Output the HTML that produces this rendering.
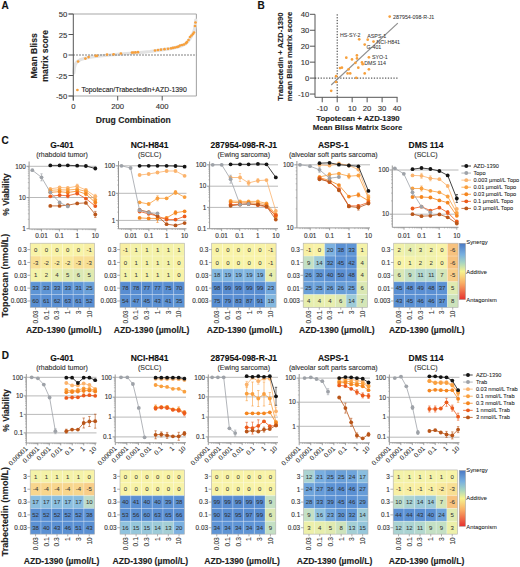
<!DOCTYPE html>
<html><head><meta charset="utf-8"><style>
html,body{margin:0;padding:0;background:#fff;}
svg{display:block;font-family:"Liberation Sans", sans-serif;}
</style></head><body>
<svg width="520" height="567" viewBox="0 0 520 567">
<rect width="520" height="567" fill="#fff"/>
<text x="5.20" y="9.35" font-size="10.0" text-anchor="middle" font-weight="bold" stroke="#111" stroke-width="0.12" fill="#111">A</text>
<text x="261.20" y="9.25" font-size="10.0" text-anchor="middle" font-weight="bold" stroke="#111" stroke-width="0.12" fill="#111">B</text>
<text x="5.00" y="143.95" font-size="10.0" text-anchor="middle" font-weight="bold" stroke="#111" stroke-width="0.12" fill="#111">C</text>
<text x="5.40" y="358.95" font-size="10.0" text-anchor="middle" font-weight="bold" stroke="#111" stroke-width="0.12" fill="#111">D</text>
<line x1="68.50" y1="14.00" x2="196.40" y2="14.00" stroke="#a8a8a8" stroke-width="1.1"/>
<line x1="196.40" y1="14.00" x2="196.40" y2="96.00" stroke="#a8a8a8" stroke-width="1.1"/>
<line x1="68.50" y1="96.00" x2="196.40" y2="96.00" stroke="#a8a8a8" stroke-width="1.1"/>
<polyline points="73.80,73.00 74.30,68.00 75.20,64.50 77.00,61.80 80.00,59.80 85.00,58.20 90.00,57.10 100.00,55.80 110.00,55.00 120.00,54.20 130.00,53.40 140.00,52.60 150.00,51.50 160.00,50.10 170.00,48.60 177.00,47.10 182.00,45.60 185.50,43.80 188.50,40.80 191.00,37.00 193.00,33.50 194.50,29.50 195.30,25.00 195.80,20.00" fill="none" stroke="#e3e3e3" stroke-width="3.2" stroke-linejoin="round" stroke-linecap="round"/>
<line x1="73.30" y1="55.00" x2="196.40" y2="55.00" stroke="#4a4a4a" stroke-width="1.0" stroke-dasharray="1.4,1.6"/>
<line x1="73.30" y1="14.00" x2="73.30" y2="100.50" stroke="#555" stroke-width="1.0"/>
<line x1="68.50" y1="14.00" x2="73.30" y2="14.00" stroke="#555" stroke-width="1.0"/>
<text x="67.20" y="17.13" font-size="7.7" text-anchor="end" stroke="#333" stroke-width="0.12" fill="#333">50</text>
<line x1="68.50" y1="34.50" x2="73.30" y2="34.50" stroke="#555" stroke-width="1.0"/>
<text x="67.20" y="37.63" font-size="7.7" text-anchor="end" stroke="#333" stroke-width="0.12" fill="#333">25</text>
<line x1="68.50" y1="55.00" x2="73.30" y2="55.00" stroke="#555" stroke-width="1.0"/>
<text x="67.20" y="58.13" font-size="7.7" text-anchor="end" stroke="#333" stroke-width="0.12" fill="#333">0</text>
<line x1="68.50" y1="75.50" x2="73.30" y2="75.50" stroke="#555" stroke-width="1.0"/>
<text x="67.20" y="78.63" font-size="7.7" text-anchor="end" stroke="#333" stroke-width="0.12" fill="#333">-25</text>
<line x1="68.50" y1="96.00" x2="73.30" y2="96.00" stroke="#555" stroke-width="1.0"/>
<text x="67.20" y="99.13" font-size="7.7" text-anchor="end" stroke="#333" stroke-width="0.12" fill="#333">-50</text>
<line x1="73.30" y1="96.00" x2="73.30" y2="100.50" stroke="#555" stroke-width="1.0"/>
<text x="73.30" y="109.23" font-size="7.7" text-anchor="middle" stroke="#333" stroke-width="0.12" fill="#333">0</text>
<line x1="117.70" y1="96.00" x2="117.70" y2="100.50" stroke="#555" stroke-width="1.0"/>
<text x="117.70" y="109.23" font-size="7.7" text-anchor="middle" stroke="#333" stroke-width="0.12" fill="#333">200</text>
<line x1="162.20" y1="96.00" x2="162.20" y2="100.50" stroke="#555" stroke-width="1.0"/>
<text x="162.20" y="109.23" font-size="7.7" text-anchor="middle" stroke="#333" stroke-width="0.12" fill="#333">400</text>
<circle cx="78.10" cy="61.50" r="1.35" fill="#f7a03c"/>
<circle cx="85.40" cy="58.60" r="1.35" fill="#f7a03c"/>
<circle cx="88.60" cy="57.10" r="1.35" fill="#f7a03c"/>
<circle cx="95.60" cy="55.80" r="1.35" fill="#f7a03c"/>
<circle cx="97.00" cy="55.80" r="1.35" fill="#f7a03c"/>
<circle cx="107.00" cy="54.60" r="1.35" fill="#f7a03c"/>
<circle cx="113.60" cy="54.30" r="1.35" fill="#f7a03c"/>
<circle cx="120.90" cy="53.50" r="1.35" fill="#f7a03c"/>
<circle cx="132.00" cy="52.60" r="1.35" fill="#f7a03c"/>
<circle cx="133.60" cy="52.50" r="1.35" fill="#f7a03c"/>
<circle cx="135.50" cy="52.40" r="1.35" fill="#f7a03c"/>
<circle cx="138.00" cy="52.20" r="1.35" fill="#f7a03c"/>
<circle cx="155.00" cy="50.50" r="1.35" fill="#f7a03c"/>
<circle cx="158.00" cy="50.00" r="1.35" fill="#f7a03c"/>
<circle cx="161.00" cy="49.70" r="1.35" fill="#f7a03c"/>
<circle cx="164.50" cy="49.20" r="1.35" fill="#f7a03c"/>
<circle cx="168.00" cy="48.80" r="1.35" fill="#f7a03c"/>
<circle cx="171.00" cy="48.30" r="1.35" fill="#f7a03c"/>
<circle cx="173.00" cy="47.90" r="1.35" fill="#f7a03c"/>
<circle cx="175.00" cy="47.50" r="1.35" fill="#f7a03c"/>
<circle cx="177.00" cy="47.00" r="1.35" fill="#f7a03c"/>
<circle cx="178.50" cy="46.60" r="1.35" fill="#f7a03c"/>
<circle cx="180.00" cy="45.50" r="1.35" fill="#f7a03c"/>
<circle cx="182.00" cy="45.00" r="1.35" fill="#f7a03c"/>
<circle cx="184.00" cy="44.50" r="1.35" fill="#f7a03c"/>
<circle cx="186.00" cy="43.20" r="1.35" fill="#f7a03c"/>
<circle cx="187.00" cy="42.00" r="1.35" fill="#f7a03c"/>
<circle cx="188.50" cy="40.00" r="1.35" fill="#f7a03c"/>
<circle cx="190.00" cy="37.00" r="1.35" fill="#f7a03c"/>
<circle cx="191.50" cy="35.50" r="1.35" fill="#f7a03c"/>
<circle cx="193.00" cy="34.00" r="1.35" fill="#f7a03c"/>
<circle cx="194.00" cy="32.50" r="1.35" fill="#f7a03c"/>
<circle cx="195.00" cy="26.00" r="1.35" fill="#f7a03c"/>
<circle cx="195.50" cy="22.50" r="1.35" fill="#f7a03c"/>
<circle cx="77.40" cy="90.00" r="1.35" fill="#f7a03c"/>
<text x="81.50" y="92.45" font-size="6.9" text-anchor="start" stroke="#222" stroke-width="0.12" fill="#222">Topotecan/Trabectedin+AZD-1390</text>
<text x="133.30" y="122.65" font-size="8.6" text-anchor="middle" font-weight="bold" stroke="#222" stroke-width="0.12" fill="#222">Drug Combination</text>
<text x="33.60" y="58.89" font-size="8.7" text-anchor="middle" font-weight="bold" stroke="#222" stroke-width="0.12" fill="#222" transform="rotate(-90 33.60 55.80)">Mean Bliss</text>
<text x="44.90" y="58.89" font-size="8.7" text-anchor="middle" font-weight="bold" stroke="#222" stroke-width="0.12" fill="#222" transform="rotate(-90 44.90 55.80)">matrix score</text>
<line x1="315.00" y1="14.30" x2="315.00" y2="97.30" stroke="#555" stroke-width="1.0"/>
<line x1="315.00" y1="97.30" x2="397.50" y2="97.30" stroke="#555" stroke-width="1.0"/>
<line x1="310.00" y1="14.30" x2="315.00" y2="14.30" stroke="#555" stroke-width="1.0"/>
<text x="309.20" y="17.33" font-size="7.7" text-anchor="end" stroke="#333" stroke-width="0.12" fill="#333">40</text>
<line x1="310.00" y1="30.25" x2="315.00" y2="30.25" stroke="#555" stroke-width="1.0"/>
<text x="309.20" y="33.28" font-size="7.7" text-anchor="end" stroke="#333" stroke-width="0.12" fill="#333">30</text>
<line x1="310.00" y1="46.20" x2="315.00" y2="46.20" stroke="#555" stroke-width="1.0"/>
<text x="309.20" y="49.23" font-size="7.7" text-anchor="end" stroke="#333" stroke-width="0.12" fill="#333">20</text>
<line x1="310.00" y1="62.15" x2="315.00" y2="62.15" stroke="#555" stroke-width="1.0"/>
<text x="309.20" y="65.18" font-size="7.7" text-anchor="end" stroke="#333" stroke-width="0.12" fill="#333">10</text>
<line x1="310.00" y1="78.10" x2="315.00" y2="78.10" stroke="#555" stroke-width="1.0"/>
<text x="309.20" y="81.13" font-size="7.7" text-anchor="end" stroke="#333" stroke-width="0.12" fill="#333">0</text>
<line x1="310.00" y1="94.05" x2="315.00" y2="94.05" stroke="#555" stroke-width="1.0"/>
<text x="309.20" y="97.08" font-size="7.7" text-anchor="end" stroke="#333" stroke-width="0.12" fill="#333">-10</text>
<line x1="322.23" y1="97.30" x2="322.23" y2="102.30" stroke="#555" stroke-width="1.0"/>
<text x="322.23" y="110.63" font-size="7.7" text-anchor="middle" stroke="#333" stroke-width="0.12" fill="#333">-10</text>
<line x1="337.20" y1="97.30" x2="337.20" y2="102.30" stroke="#555" stroke-width="1.0"/>
<text x="337.20" y="110.63" font-size="7.7" text-anchor="middle" stroke="#333" stroke-width="0.12" fill="#333">0</text>
<line x1="352.17" y1="97.30" x2="352.17" y2="102.30" stroke="#555" stroke-width="1.0"/>
<text x="352.17" y="110.63" font-size="7.7" text-anchor="middle" stroke="#333" stroke-width="0.12" fill="#333">10</text>
<line x1="367.14" y1="97.30" x2="367.14" y2="102.30" stroke="#555" stroke-width="1.0"/>
<text x="367.14" y="110.63" font-size="7.7" text-anchor="middle" stroke="#333" stroke-width="0.12" fill="#333">20</text>
<line x1="382.11" y1="97.30" x2="382.11" y2="102.30" stroke="#555" stroke-width="1.0"/>
<text x="382.11" y="110.63" font-size="7.7" text-anchor="middle" stroke="#333" stroke-width="0.12" fill="#333">30</text>
<line x1="397.08" y1="97.30" x2="397.08" y2="102.30" stroke="#555" stroke-width="1.0"/>
<text x="397.08" y="110.63" font-size="7.7" text-anchor="middle" stroke="#333" stroke-width="0.12" fill="#333">40</text>
<line x1="337.20" y1="14.30" x2="337.20" y2="97.30" stroke="#333" stroke-width="1.0" stroke-dasharray="1.3,1.5"/>
<line x1="315.00" y1="78.10" x2="397.50" y2="78.10" stroke="#333" stroke-width="1.0" stroke-dasharray="1.3,1.5"/>
<line x1="331.20" y1="85.00" x2="397.80" y2="23.10" stroke="#909090" stroke-width="1.2"/>
<circle cx="389.70" cy="16.60" r="1.35" fill="#f7a03c"/>
<circle cx="359.20" cy="39.30" r="1.35" fill="#f7a03c"/>
<circle cx="367.70" cy="39.70" r="1.35" fill="#f7a03c"/>
<circle cx="373.50" cy="41.60" r="1.35" fill="#f7a03c"/>
<circle cx="364.70" cy="44.60" r="1.35" fill="#f7a03c"/>
<circle cx="356.90" cy="55.40" r="1.35" fill="#f7a03c"/>
<circle cx="346.30" cy="57.70" r="1.35" fill="#f7a03c"/>
<circle cx="352.00" cy="59.40" r="1.35" fill="#f7a03c"/>
<circle cx="357.00" cy="58.40" r="1.35" fill="#f7a03c"/>
<circle cx="368.90" cy="57.30" r="1.35" fill="#f7a03c"/>
<circle cx="355.50" cy="62.80" r="1.35" fill="#f7a03c"/>
<circle cx="362.00" cy="62.40" r="1.35" fill="#f7a03c"/>
<circle cx="362.70" cy="64.20" r="1.35" fill="#f7a03c"/>
<circle cx="340.00" cy="68.10" r="1.35" fill="#f7a03c"/>
<circle cx="341.90" cy="67.70" r="1.35" fill="#f7a03c"/>
<circle cx="348.60" cy="69.30" r="1.35" fill="#f7a03c"/>
<circle cx="358.30" cy="67.70" r="1.35" fill="#f7a03c"/>
<circle cx="368.90" cy="69.30" r="1.35" fill="#f7a03c"/>
<circle cx="347.60" cy="73.40" r="1.35" fill="#f7a03c"/>
<circle cx="350.20" cy="73.40" r="1.35" fill="#f7a03c"/>
<circle cx="364.70" cy="73.40" r="1.35" fill="#f7a03c"/>
<circle cx="336.10" cy="76.20" r="1.35" fill="#f7a03c"/>
<circle cx="356.20" cy="77.80" r="1.35" fill="#f7a03c"/>
<circle cx="336.10" cy="82.00" r="1.35" fill="#f7a03c"/>
<circle cx="331.20" cy="90.80" r="1.35" fill="#f7a03c"/>
<text x="393.10" y="18.88" font-size="5.3" text-anchor="start" stroke="#333" stroke-width="0.05" fill="#333">287954-098-R-J1</text>
<text x="340.00" y="37.18" font-size="5.3" text-anchor="start" stroke="#333" stroke-width="0.05" fill="#333">HS-SY-2</text>
<text x="367.30" y="37.88" font-size="5.3" text-anchor="start" stroke="#333" stroke-width="0.05" fill="#333">ASPS-1</text>
<text x="376.50" y="44.38" font-size="5.3" text-anchor="start" stroke="#333" stroke-width="0.05" fill="#333">NCI-H841</text>
<text x="366.60" y="48.58" font-size="5.3" text-anchor="start" stroke="#333" stroke-width="0.05" fill="#333">G-401</text>
<text x="371.90" y="59.38" font-size="5.3" text-anchor="start" stroke="#333" stroke-width="0.05" fill="#333">SYO-1</text>
<text x="364.30" y="64.88" font-size="5.3" text-anchor="start" stroke="#333" stroke-width="0.05" fill="#333">DMS 114</text>
<text x="280.20" y="59.27" font-size="7.8" text-anchor="middle" font-weight="bold" stroke="#222" stroke-width="0.12" fill="#222" transform="rotate(-90 280.20 56.50)">Trabectedin + AZD-1390</text>
<text x="289.00" y="59.27" font-size="7.8" text-anchor="middle" font-weight="bold" stroke="#222" stroke-width="0.12" fill="#222" transform="rotate(-90 289.00 56.50)">mean Bliss matrix score</text>
<text x="358.00" y="120.67" font-size="7.8" text-anchor="middle" font-weight="bold" stroke="#222" stroke-width="0.12" fill="#222">Topotecan + AZD-1390</text>
<text x="357.50" y="130.17" font-size="7.8" text-anchor="middle" font-weight="bold" stroke="#222" stroke-width="0.12" fill="#222">Mean Bliss Matrix Score</text>
<line x1="29.10" y1="161.50" x2="29.10" y2="229.00" stroke="#8c8c8c" stroke-width="0.9"/>
<line x1="26.50" y1="166.30" x2="29.10" y2="166.30" stroke="#8c8c8c" stroke-width="0.9"/>
<text x="25.80" y="168.57" font-size="6.4" text-anchor="end" stroke="#333" stroke-width="0.12" fill="#333">100</text>
<line x1="26.50" y1="197.50" x2="29.10" y2="197.50" stroke="#8c8c8c" stroke-width="0.9"/>
<text x="25.80" y="199.77" font-size="6.4" text-anchor="end" stroke="#333" stroke-width="0.12" fill="#333">10</text>
<line x1="26.50" y1="228.70" x2="29.10" y2="228.70" stroke="#8c8c8c" stroke-width="0.9"/>
<text x="25.80" y="230.97" font-size="6.4" text-anchor="end" stroke="#333" stroke-width="0.12" fill="#333">1</text>
<line x1="27.80" y1="188.11" x2="29.10" y2="188.11" stroke="#8c8c8c" stroke-width="0.5"/>
<line x1="27.80" y1="182.61" x2="29.10" y2="182.61" stroke="#8c8c8c" stroke-width="0.5"/>
<line x1="27.80" y1="178.72" x2="29.10" y2="178.72" stroke="#8c8c8c" stroke-width="0.5"/>
<line x1="27.80" y1="175.69" x2="29.10" y2="175.69" stroke="#8c8c8c" stroke-width="0.5"/>
<line x1="27.80" y1="173.22" x2="29.10" y2="173.22" stroke="#8c8c8c" stroke-width="0.5"/>
<line x1="27.80" y1="171.13" x2="29.10" y2="171.13" stroke="#8c8c8c" stroke-width="0.5"/>
<line x1="27.80" y1="169.32" x2="29.10" y2="169.32" stroke="#8c8c8c" stroke-width="0.5"/>
<line x1="27.80" y1="167.73" x2="29.10" y2="167.73" stroke="#8c8c8c" stroke-width="0.5"/>
<line x1="27.80" y1="219.31" x2="29.10" y2="219.31" stroke="#8c8c8c" stroke-width="0.5"/>
<line x1="27.80" y1="213.81" x2="29.10" y2="213.81" stroke="#8c8c8c" stroke-width="0.5"/>
<line x1="27.80" y1="209.92" x2="29.10" y2="209.92" stroke="#8c8c8c" stroke-width="0.5"/>
<line x1="27.80" y1="206.89" x2="29.10" y2="206.89" stroke="#8c8c8c" stroke-width="0.5"/>
<line x1="27.80" y1="204.42" x2="29.10" y2="204.42" stroke="#8c8c8c" stroke-width="0.5"/>
<line x1="27.80" y1="202.33" x2="29.10" y2="202.33" stroke="#8c8c8c" stroke-width="0.5"/>
<line x1="27.80" y1="200.52" x2="29.10" y2="200.52" stroke="#8c8c8c" stroke-width="0.5"/>
<line x1="27.80" y1="198.93" x2="29.10" y2="198.93" stroke="#8c8c8c" stroke-width="0.5"/>
<line x1="29.10" y1="166.30" x2="96.50" y2="166.30" stroke="#a2a2a2" stroke-width="0.75"/>
<line x1="29.10" y1="197.50" x2="96.50" y2="197.50" stroke="#a2a2a2" stroke-width="0.75"/>
<line x1="29.10" y1="229.00" x2="96.50" y2="229.00" stroke="#8c8c8c" stroke-width="0.9"/>
<line x1="95.20" y1="229.00" x2="95.20" y2="231.40" stroke="#8c8c8c" stroke-width="0.8"/>
<line x1="82.69" y1="229.00" x2="82.69" y2="230.20" stroke="#8c8c8c" stroke-width="0.5"/>
<line x1="85.84" y1="229.00" x2="85.84" y2="230.20" stroke="#8c8c8c" stroke-width="0.5"/>
<line x1="88.08" y1="229.00" x2="88.08" y2="230.20" stroke="#8c8c8c" stroke-width="0.5"/>
<line x1="89.81" y1="229.00" x2="89.81" y2="230.20" stroke="#8c8c8c" stroke-width="0.5"/>
<line x1="91.23" y1="229.00" x2="91.23" y2="230.20" stroke="#8c8c8c" stroke-width="0.5"/>
<line x1="92.43" y1="229.00" x2="92.43" y2="230.20" stroke="#8c8c8c" stroke-width="0.5"/>
<line x1="93.47" y1="229.00" x2="93.47" y2="230.20" stroke="#8c8c8c" stroke-width="0.5"/>
<line x1="94.38" y1="229.00" x2="94.38" y2="230.20" stroke="#8c8c8c" stroke-width="0.5"/>
<line x1="77.30" y1="229.00" x2="77.30" y2="231.40" stroke="#8c8c8c" stroke-width="0.8"/>
<line x1="64.79" y1="229.00" x2="64.79" y2="230.20" stroke="#8c8c8c" stroke-width="0.5"/>
<line x1="67.94" y1="229.00" x2="67.94" y2="230.20" stroke="#8c8c8c" stroke-width="0.5"/>
<line x1="70.18" y1="229.00" x2="70.18" y2="230.20" stroke="#8c8c8c" stroke-width="0.5"/>
<line x1="71.91" y1="229.00" x2="71.91" y2="230.20" stroke="#8c8c8c" stroke-width="0.5"/>
<line x1="73.33" y1="229.00" x2="73.33" y2="230.20" stroke="#8c8c8c" stroke-width="0.5"/>
<line x1="74.53" y1="229.00" x2="74.53" y2="230.20" stroke="#8c8c8c" stroke-width="0.5"/>
<line x1="75.57" y1="229.00" x2="75.57" y2="230.20" stroke="#8c8c8c" stroke-width="0.5"/>
<line x1="76.48" y1="229.00" x2="76.48" y2="230.20" stroke="#8c8c8c" stroke-width="0.5"/>
<line x1="59.40" y1="229.00" x2="59.40" y2="231.40" stroke="#8c8c8c" stroke-width="0.8"/>
<line x1="46.89" y1="229.00" x2="46.89" y2="230.20" stroke="#8c8c8c" stroke-width="0.5"/>
<line x1="50.04" y1="229.00" x2="50.04" y2="230.20" stroke="#8c8c8c" stroke-width="0.5"/>
<line x1="52.28" y1="229.00" x2="52.28" y2="230.20" stroke="#8c8c8c" stroke-width="0.5"/>
<line x1="54.01" y1="229.00" x2="54.01" y2="230.20" stroke="#8c8c8c" stroke-width="0.5"/>
<line x1="55.43" y1="229.00" x2="55.43" y2="230.20" stroke="#8c8c8c" stroke-width="0.5"/>
<line x1="56.63" y1="229.00" x2="56.63" y2="230.20" stroke="#8c8c8c" stroke-width="0.5"/>
<line x1="57.67" y1="229.00" x2="57.67" y2="230.20" stroke="#8c8c8c" stroke-width="0.5"/>
<line x1="58.58" y1="229.00" x2="58.58" y2="230.20" stroke="#8c8c8c" stroke-width="0.5"/>
<line x1="41.50" y1="229.00" x2="41.50" y2="231.40" stroke="#8c8c8c" stroke-width="0.8"/>
<line x1="32.14" y1="229.00" x2="32.14" y2="230.20" stroke="#8c8c8c" stroke-width="0.5"/>
<line x1="34.38" y1="229.00" x2="34.38" y2="230.20" stroke="#8c8c8c" stroke-width="0.5"/>
<line x1="36.11" y1="229.00" x2="36.11" y2="230.20" stroke="#8c8c8c" stroke-width="0.5"/>
<line x1="37.53" y1="229.00" x2="37.53" y2="230.20" stroke="#8c8c8c" stroke-width="0.5"/>
<line x1="38.73" y1="229.00" x2="38.73" y2="230.20" stroke="#8c8c8c" stroke-width="0.5"/>
<line x1="39.77" y1="229.00" x2="39.77" y2="230.20" stroke="#8c8c8c" stroke-width="0.5"/>
<line x1="40.68" y1="229.00" x2="40.68" y2="230.20" stroke="#8c8c8c" stroke-width="0.5"/>
<polyline points="50.30,188.80 59.60,187.50 67.80,187.90 77.20,186.20 85.90,190.00 95.30,196.30" fill="none" stroke="#fbb36c" stroke-width="0.8" stroke-linejoin="round"/>
<circle cx="50.30" cy="188.80" r="1.9" fill="#fbb36c"/>
<circle cx="59.60" cy="187.50" r="1.9" fill="#fbb36c"/>
<circle cx="67.80" cy="187.90" r="1.9" fill="#fbb36c"/>
<circle cx="77.20" cy="186.20" r="1.9" fill="#fbb36c"/>
<circle cx="85.90" cy="190.00" r="1.9" fill="#fbb36c"/>
<circle cx="95.30" cy="196.30" r="1.9" fill="#fbb36c"/>
<line x1="77.20" y1="184.20" x2="77.20" y2="188.20" stroke="#fbb36c" stroke-width="0.6"/>
<line x1="76.00" y1="184.20" x2="78.40" y2="184.20" stroke="#fbb36c" stroke-width="0.6"/>
<line x1="76.00" y1="188.20" x2="78.40" y2="188.20" stroke="#fbb36c" stroke-width="0.6"/>
<line x1="95.30" y1="194.30" x2="95.30" y2="198.30" stroke="#fbb36c" stroke-width="0.6"/>
<line x1="94.10" y1="194.30" x2="96.50" y2="194.30" stroke="#fbb36c" stroke-width="0.6"/>
<line x1="94.10" y1="198.30" x2="96.50" y2="198.30" stroke="#fbb36c" stroke-width="0.6"/>
<polyline points="50.30,190.30 59.60,189.80 67.80,190.00 77.20,189.20 85.90,191.40 95.30,199.80" fill="none" stroke="#f9a03f" stroke-width="0.8" stroke-linejoin="round"/>
<circle cx="50.30" cy="190.30" r="1.9" fill="#f9a03f"/>
<circle cx="59.60" cy="189.80" r="1.9" fill="#f9a03f"/>
<circle cx="67.80" cy="190.00" r="1.9" fill="#f9a03f"/>
<circle cx="77.20" cy="189.20" r="1.9" fill="#f9a03f"/>
<circle cx="85.90" cy="191.40" r="1.9" fill="#f9a03f"/>
<circle cx="95.30" cy="199.80" r="1.9" fill="#f9a03f"/>
<polyline points="50.30,192.30 59.60,191.70 67.80,192.50 77.20,191.10 85.90,194.00 95.30,202.50" fill="none" stroke="#f5861f" stroke-width="0.8" stroke-linejoin="round"/>
<circle cx="50.30" cy="192.30" r="1.9" fill="#f5861f"/>
<circle cx="59.60" cy="191.70" r="1.9" fill="#f5861f"/>
<circle cx="67.80" cy="192.50" r="1.9" fill="#f5861f"/>
<circle cx="77.20" cy="191.10" r="1.9" fill="#f5861f"/>
<circle cx="85.90" cy="194.00" r="1.9" fill="#f5861f"/>
<circle cx="95.30" cy="202.50" r="1.9" fill="#f5861f"/>
<polyline points="50.30,196.30 59.60,195.20 67.80,195.80 77.20,193.50 85.90,198.60 95.30,206.10" fill="none" stroke="#ec5b1c" stroke-width="0.8" stroke-linejoin="round"/>
<circle cx="50.30" cy="196.30" r="1.9" fill="#ec5b1c"/>
<circle cx="59.60" cy="195.20" r="1.9" fill="#ec5b1c"/>
<circle cx="67.80" cy="195.80" r="1.9" fill="#ec5b1c"/>
<circle cx="77.20" cy="193.50" r="1.9" fill="#ec5b1c"/>
<circle cx="85.90" cy="198.60" r="1.9" fill="#ec5b1c"/>
<circle cx="95.30" cy="206.10" r="1.9" fill="#ec5b1c"/>
<line x1="67.80" y1="193.80" x2="67.80" y2="197.80" stroke="#ec5b1c" stroke-width="0.6"/>
<line x1="66.60" y1="193.80" x2="69.00" y2="193.80" stroke="#ec5b1c" stroke-width="0.6"/>
<line x1="66.60" y1="197.80" x2="69.00" y2="197.80" stroke="#ec5b1c" stroke-width="0.6"/>
<polyline points="50.30,205.90 59.60,205.90 67.80,205.20 77.20,203.40 85.90,202.90 95.30,214.40" fill="none" stroke="#b9561a" stroke-width="0.8" stroke-linejoin="round"/>
<circle cx="50.30" cy="205.90" r="1.9" fill="#b9561a"/>
<circle cx="59.60" cy="205.90" r="1.9" fill="#b9561a"/>
<circle cx="67.80" cy="205.20" r="1.9" fill="#b9561a"/>
<circle cx="77.20" cy="203.40" r="1.9" fill="#b9561a"/>
<circle cx="85.90" cy="202.90" r="1.9" fill="#b9561a"/>
<circle cx="95.30" cy="214.40" r="1.9" fill="#b9561a"/>
<line x1="95.30" y1="211.40" x2="95.30" y2="217.40" stroke="#b9561a" stroke-width="0.6"/>
<line x1="94.10" y1="211.40" x2="96.50" y2="211.40" stroke="#b9561a" stroke-width="0.6"/>
<line x1="94.10" y1="217.40" x2="96.50" y2="217.40" stroke="#b9561a" stroke-width="0.6"/>
<polyline points="32.30,170.20 41.50,177.30 50.30,192.30 59.60,202.50 67.80,206.40" fill="none" stroke="#9ea2a8" stroke-width="0.8" stroke-linejoin="round"/>
<circle cx="32.30" cy="170.20" r="1.9" fill="#9ea2a8"/>
<circle cx="41.50" cy="177.30" r="1.9" fill="#9ea2a8"/>
<circle cx="50.30" cy="192.30" r="1.9" fill="#9ea2a8"/>
<circle cx="59.60" cy="202.50" r="1.9" fill="#9ea2a8"/>
<circle cx="67.80" cy="206.40" r="1.9" fill="#9ea2a8"/>
<line x1="41.50" y1="173.80" x2="41.50" y2="180.80" stroke="#9ea2a8" stroke-width="0.6"/>
<line x1="40.30" y1="173.80" x2="42.70" y2="173.80" stroke="#9ea2a8" stroke-width="0.6"/>
<line x1="40.30" y1="180.80" x2="42.70" y2="180.80" stroke="#9ea2a8" stroke-width="0.6"/>
<polyline points="50.30,165.40 59.60,165.40 67.80,165.30 77.20,165.70 85.90,166.00 95.30,168.50" fill="none" stroke="#141414" stroke-width="0.8" stroke-linejoin="round"/>
<circle cx="50.30" cy="165.40" r="1.9" fill="#141414"/>
<circle cx="59.60" cy="165.40" r="1.9" fill="#141414"/>
<circle cx="67.80" cy="165.30" r="1.9" fill="#141414"/>
<circle cx="77.20" cy="165.70" r="1.9" fill="#141414"/>
<circle cx="85.90" cy="166.00" r="1.9" fill="#141414"/>
<circle cx="95.30" cy="168.50" r="1.9" fill="#141414"/>
<line x1="118.50" y1="161.00" x2="118.50" y2="228.80" stroke="#8c8c8c" stroke-width="0.9"/>
<line x1="115.90" y1="165.80" x2="118.50" y2="165.80" stroke="#8c8c8c" stroke-width="0.9"/>
<text x="115.20" y="168.07" font-size="6.4" text-anchor="end" stroke="#333" stroke-width="0.12" fill="#333">100</text>
<line x1="115.90" y1="193.30" x2="118.50" y2="193.30" stroke="#8c8c8c" stroke-width="0.9"/>
<text x="115.20" y="195.57" font-size="6.4" text-anchor="end" stroke="#333" stroke-width="0.12" fill="#333">10</text>
<line x1="115.90" y1="220.40" x2="118.50" y2="220.40" stroke="#8c8c8c" stroke-width="0.9"/>
<text x="115.20" y="222.67" font-size="6.4" text-anchor="end" stroke="#333" stroke-width="0.12" fill="#333">1</text>
<line x1="117.20" y1="185.02" x2="118.50" y2="185.02" stroke="#8c8c8c" stroke-width="0.5"/>
<line x1="117.20" y1="180.18" x2="118.50" y2="180.18" stroke="#8c8c8c" stroke-width="0.5"/>
<line x1="117.20" y1="176.74" x2="118.50" y2="176.74" stroke="#8c8c8c" stroke-width="0.5"/>
<line x1="117.20" y1="174.08" x2="118.50" y2="174.08" stroke="#8c8c8c" stroke-width="0.5"/>
<line x1="117.20" y1="171.90" x2="118.50" y2="171.90" stroke="#8c8c8c" stroke-width="0.5"/>
<line x1="117.20" y1="170.06" x2="118.50" y2="170.06" stroke="#8c8c8c" stroke-width="0.5"/>
<line x1="117.20" y1="168.47" x2="118.50" y2="168.47" stroke="#8c8c8c" stroke-width="0.5"/>
<line x1="117.20" y1="167.06" x2="118.50" y2="167.06" stroke="#8c8c8c" stroke-width="0.5"/>
<line x1="117.20" y1="212.12" x2="118.50" y2="212.12" stroke="#8c8c8c" stroke-width="0.5"/>
<line x1="117.20" y1="207.28" x2="118.50" y2="207.28" stroke="#8c8c8c" stroke-width="0.5"/>
<line x1="117.20" y1="203.84" x2="118.50" y2="203.84" stroke="#8c8c8c" stroke-width="0.5"/>
<line x1="117.20" y1="201.18" x2="118.50" y2="201.18" stroke="#8c8c8c" stroke-width="0.5"/>
<line x1="117.20" y1="199.00" x2="118.50" y2="199.00" stroke="#8c8c8c" stroke-width="0.5"/>
<line x1="117.20" y1="197.16" x2="118.50" y2="197.16" stroke="#8c8c8c" stroke-width="0.5"/>
<line x1="117.20" y1="195.57" x2="118.50" y2="195.57" stroke="#8c8c8c" stroke-width="0.5"/>
<line x1="117.20" y1="194.16" x2="118.50" y2="194.16" stroke="#8c8c8c" stroke-width="0.5"/>
<line x1="117.20" y1="228.68" x2="118.50" y2="228.68" stroke="#8c8c8c" stroke-width="0.5"/>
<line x1="117.20" y1="226.50" x2="118.50" y2="226.50" stroke="#8c8c8c" stroke-width="0.5"/>
<line x1="117.20" y1="224.66" x2="118.50" y2="224.66" stroke="#8c8c8c" stroke-width="0.5"/>
<line x1="117.20" y1="223.07" x2="118.50" y2="223.07" stroke="#8c8c8c" stroke-width="0.5"/>
<line x1="117.20" y1="221.66" x2="118.50" y2="221.66" stroke="#8c8c8c" stroke-width="0.5"/>
<line x1="118.50" y1="165.80" x2="186.50" y2="165.80" stroke="#a2a2a2" stroke-width="0.75"/>
<line x1="118.50" y1="193.30" x2="186.50" y2="193.30" stroke="#a2a2a2" stroke-width="0.75"/>
<line x1="118.50" y1="220.40" x2="186.50" y2="220.40" stroke="#a2a2a2" stroke-width="0.75"/>
<line x1="118.50" y1="228.80" x2="186.50" y2="228.80" stroke="#8c8c8c" stroke-width="0.9"/>
<line x1="184.70" y1="228.80" x2="184.70" y2="231.20" stroke="#8c8c8c" stroke-width="0.8"/>
<line x1="172.19" y1="228.80" x2="172.19" y2="230.00" stroke="#8c8c8c" stroke-width="0.5"/>
<line x1="175.34" y1="228.80" x2="175.34" y2="230.00" stroke="#8c8c8c" stroke-width="0.5"/>
<line x1="177.58" y1="228.80" x2="177.58" y2="230.00" stroke="#8c8c8c" stroke-width="0.5"/>
<line x1="179.31" y1="228.80" x2="179.31" y2="230.00" stroke="#8c8c8c" stroke-width="0.5"/>
<line x1="180.73" y1="228.80" x2="180.73" y2="230.00" stroke="#8c8c8c" stroke-width="0.5"/>
<line x1="181.93" y1="228.80" x2="181.93" y2="230.00" stroke="#8c8c8c" stroke-width="0.5"/>
<line x1="182.97" y1="228.80" x2="182.97" y2="230.00" stroke="#8c8c8c" stroke-width="0.5"/>
<line x1="183.88" y1="228.80" x2="183.88" y2="230.00" stroke="#8c8c8c" stroke-width="0.5"/>
<line x1="166.80" y1="228.80" x2="166.80" y2="231.20" stroke="#8c8c8c" stroke-width="0.8"/>
<line x1="154.29" y1="228.80" x2="154.29" y2="230.00" stroke="#8c8c8c" stroke-width="0.5"/>
<line x1="157.44" y1="228.80" x2="157.44" y2="230.00" stroke="#8c8c8c" stroke-width="0.5"/>
<line x1="159.68" y1="228.80" x2="159.68" y2="230.00" stroke="#8c8c8c" stroke-width="0.5"/>
<line x1="161.41" y1="228.80" x2="161.41" y2="230.00" stroke="#8c8c8c" stroke-width="0.5"/>
<line x1="162.83" y1="228.80" x2="162.83" y2="230.00" stroke="#8c8c8c" stroke-width="0.5"/>
<line x1="164.03" y1="228.80" x2="164.03" y2="230.00" stroke="#8c8c8c" stroke-width="0.5"/>
<line x1="165.07" y1="228.80" x2="165.07" y2="230.00" stroke="#8c8c8c" stroke-width="0.5"/>
<line x1="165.98" y1="228.80" x2="165.98" y2="230.00" stroke="#8c8c8c" stroke-width="0.5"/>
<line x1="148.90" y1="228.80" x2="148.90" y2="231.20" stroke="#8c8c8c" stroke-width="0.8"/>
<line x1="136.39" y1="228.80" x2="136.39" y2="230.00" stroke="#8c8c8c" stroke-width="0.5"/>
<line x1="139.54" y1="228.80" x2="139.54" y2="230.00" stroke="#8c8c8c" stroke-width="0.5"/>
<line x1="141.78" y1="228.80" x2="141.78" y2="230.00" stroke="#8c8c8c" stroke-width="0.5"/>
<line x1="143.51" y1="228.80" x2="143.51" y2="230.00" stroke="#8c8c8c" stroke-width="0.5"/>
<line x1="144.93" y1="228.80" x2="144.93" y2="230.00" stroke="#8c8c8c" stroke-width="0.5"/>
<line x1="146.13" y1="228.80" x2="146.13" y2="230.00" stroke="#8c8c8c" stroke-width="0.5"/>
<line x1="147.17" y1="228.80" x2="147.17" y2="230.00" stroke="#8c8c8c" stroke-width="0.5"/>
<line x1="148.08" y1="228.80" x2="148.08" y2="230.00" stroke="#8c8c8c" stroke-width="0.5"/>
<line x1="131.00" y1="228.80" x2="131.00" y2="231.20" stroke="#8c8c8c" stroke-width="0.8"/>
<line x1="121.64" y1="228.80" x2="121.64" y2="230.00" stroke="#8c8c8c" stroke-width="0.5"/>
<line x1="123.88" y1="228.80" x2="123.88" y2="230.00" stroke="#8c8c8c" stroke-width="0.5"/>
<line x1="125.61" y1="228.80" x2="125.61" y2="230.00" stroke="#8c8c8c" stroke-width="0.5"/>
<line x1="127.03" y1="228.80" x2="127.03" y2="230.00" stroke="#8c8c8c" stroke-width="0.5"/>
<line x1="128.23" y1="228.80" x2="128.23" y2="230.00" stroke="#8c8c8c" stroke-width="0.5"/>
<line x1="129.27" y1="228.80" x2="129.27" y2="230.00" stroke="#8c8c8c" stroke-width="0.5"/>
<line x1="130.18" y1="228.80" x2="130.18" y2="230.00" stroke="#8c8c8c" stroke-width="0.5"/>
<polyline points="139.60,175.00 148.70,174.00 157.50,172.50 166.60,171.00 175.50,171.00 184.60,175.80" fill="none" stroke="#fbb36c" stroke-width="0.8" stroke-linejoin="round"/>
<circle cx="139.60" cy="175.00" r="1.9" fill="#fbb36c"/>
<circle cx="148.70" cy="174.00" r="1.9" fill="#fbb36c"/>
<circle cx="157.50" cy="172.50" r="1.9" fill="#fbb36c"/>
<circle cx="166.60" cy="171.00" r="1.9" fill="#fbb36c"/>
<circle cx="175.50" cy="171.00" r="1.9" fill="#fbb36c"/>
<circle cx="184.60" cy="175.80" r="1.9" fill="#fbb36c"/>
<polyline points="139.60,202.30 148.70,204.00 157.50,198.30 166.60,198.30 175.50,192.50 184.60,197.10" fill="none" stroke="#f9a03f" stroke-width="0.8" stroke-linejoin="round"/>
<circle cx="139.60" cy="202.30" r="1.9" fill="#f9a03f"/>
<circle cx="148.70" cy="204.00" r="1.9" fill="#f9a03f"/>
<circle cx="157.50" cy="198.30" r="1.9" fill="#f9a03f"/>
<circle cx="166.60" cy="198.30" r="1.9" fill="#f9a03f"/>
<circle cx="175.50" cy="192.50" r="1.9" fill="#f9a03f"/>
<circle cx="184.60" cy="197.10" r="1.9" fill="#f9a03f"/>
<line x1="157.50" y1="195.80" x2="157.50" y2="200.80" stroke="#f9a03f" stroke-width="0.6"/>
<line x1="156.30" y1="195.80" x2="158.70" y2="195.80" stroke="#f9a03f" stroke-width="0.6"/>
<line x1="156.30" y1="200.80" x2="158.70" y2="200.80" stroke="#f9a03f" stroke-width="0.6"/>
<line x1="175.50" y1="190.50" x2="175.50" y2="194.50" stroke="#f9a03f" stroke-width="0.6"/>
<line x1="174.30" y1="190.50" x2="176.70" y2="190.50" stroke="#f9a03f" stroke-width="0.6"/>
<line x1="174.30" y1="194.50" x2="176.70" y2="194.50" stroke="#f9a03f" stroke-width="0.6"/>
<polyline points="139.60,217.90 148.70,218.40 157.50,218.40 166.60,217.90 175.50,212.70 184.60,211.30" fill="none" stroke="#f5861f" stroke-width="0.8" stroke-linejoin="round"/>
<circle cx="139.60" cy="217.90" r="1.9" fill="#f5861f"/>
<circle cx="148.70" cy="218.40" r="1.9" fill="#f5861f"/>
<circle cx="157.50" cy="218.40" r="1.9" fill="#f5861f"/>
<circle cx="166.60" cy="217.90" r="1.9" fill="#f5861f"/>
<circle cx="175.50" cy="212.70" r="1.9" fill="#f5861f"/>
<circle cx="184.60" cy="211.30" r="1.9" fill="#f5861f"/>
<line x1="157.50" y1="214.40" x2="157.50" y2="222.40" stroke="#f5861f" stroke-width="0.6"/>
<line x1="156.30" y1="214.40" x2="158.70" y2="214.40" stroke="#f5861f" stroke-width="0.6"/>
<line x1="156.30" y1="222.40" x2="158.70" y2="222.40" stroke="#f5861f" stroke-width="0.6"/>
<line x1="175.50" y1="210.70" x2="175.50" y2="214.70" stroke="#f5861f" stroke-width="0.6"/>
<line x1="174.30" y1="210.70" x2="176.70" y2="210.70" stroke="#f5861f" stroke-width="0.6"/>
<line x1="174.30" y1="214.70" x2="176.70" y2="214.70" stroke="#f5861f" stroke-width="0.6"/>
<polyline points="139.60,211.50 148.70,213.80 157.50,216.10 166.60,219.60 175.50,219.60 184.60,216.40" fill="none" stroke="#ec5b1c" stroke-width="0.8" stroke-linejoin="round"/>
<circle cx="139.60" cy="211.50" r="1.9" fill="#ec5b1c"/>
<circle cx="148.70" cy="213.80" r="1.9" fill="#ec5b1c"/>
<circle cx="157.50" cy="216.10" r="1.9" fill="#ec5b1c"/>
<circle cx="166.60" cy="219.60" r="1.9" fill="#ec5b1c"/>
<circle cx="175.50" cy="219.60" r="1.9" fill="#ec5b1c"/>
<circle cx="184.60" cy="216.40" r="1.9" fill="#ec5b1c"/>
<polyline points="139.60,209.80 148.70,212.10 157.50,216.10 166.60,224.20 175.50,225.40 184.60,223.10" fill="none" stroke="#b9561a" stroke-width="0.8" stroke-linejoin="round"/>
<circle cx="139.60" cy="209.80" r="1.9" fill="#b9561a"/>
<circle cx="148.70" cy="212.10" r="1.9" fill="#b9561a"/>
<circle cx="157.50" cy="216.10" r="1.9" fill="#b9561a"/>
<circle cx="166.60" cy="224.20" r="1.9" fill="#b9561a"/>
<circle cx="175.50" cy="225.40" r="1.9" fill="#b9561a"/>
<circle cx="184.60" cy="223.10" r="1.9" fill="#b9561a"/>
<polyline points="121.50,165.80 130.60,168.00 139.60,210.40 148.70,212.70 157.50,213.30" fill="none" stroke="#9ea2a8" stroke-width="0.8" stroke-linejoin="round"/>
<circle cx="121.50" cy="165.80" r="1.9" fill="#9ea2a8"/>
<circle cx="130.60" cy="168.00" r="1.9" fill="#9ea2a8"/>
<circle cx="139.60" cy="210.40" r="1.9" fill="#9ea2a8"/>
<circle cx="148.70" cy="212.70" r="1.9" fill="#9ea2a8"/>
<circle cx="157.50" cy="213.30" r="1.9" fill="#9ea2a8"/>
<polyline points="139.60,165.80 148.70,165.80 157.50,165.80 166.60,165.80 175.50,166.00 184.60,166.70" fill="none" stroke="#141414" stroke-width="0.8" stroke-linejoin="round"/>
<circle cx="139.60" cy="165.80" r="1.9" fill="#141414"/>
<circle cx="148.70" cy="165.80" r="1.9" fill="#141414"/>
<circle cx="157.50" cy="165.80" r="1.9" fill="#141414"/>
<circle cx="166.60" cy="165.80" r="1.9" fill="#141414"/>
<circle cx="175.50" cy="166.00" r="1.9" fill="#141414"/>
<circle cx="184.60" cy="166.70" r="1.9" fill="#141414"/>
<line x1="209.60" y1="161.50" x2="209.60" y2="228.70" stroke="#8c8c8c" stroke-width="0.9"/>
<line x1="207.00" y1="164.80" x2="209.60" y2="164.80" stroke="#8c8c8c" stroke-width="0.9"/>
<text x="206.30" y="167.07" font-size="6.4" text-anchor="end" stroke="#333" stroke-width="0.12" fill="#333">100</text>
<line x1="207.00" y1="186.20" x2="209.60" y2="186.20" stroke="#8c8c8c" stroke-width="0.9"/>
<text x="206.30" y="188.47" font-size="6.4" text-anchor="end" stroke="#333" stroke-width="0.12" fill="#333">10</text>
<line x1="207.00" y1="207.40" x2="209.60" y2="207.40" stroke="#8c8c8c" stroke-width="0.9"/>
<text x="206.30" y="209.67" font-size="6.4" text-anchor="end" stroke="#333" stroke-width="0.12" fill="#333">1</text>
<line x1="207.00" y1="228.70" x2="209.60" y2="228.70" stroke="#8c8c8c" stroke-width="0.9"/>
<text x="206.30" y="230.97" font-size="6.4" text-anchor="end" stroke="#333" stroke-width="0.12" fill="#333">0.1</text>
<line x1="208.30" y1="179.76" x2="209.60" y2="179.76" stroke="#8c8c8c" stroke-width="0.5"/>
<line x1="208.30" y1="175.99" x2="209.60" y2="175.99" stroke="#8c8c8c" stroke-width="0.5"/>
<line x1="208.30" y1="173.32" x2="209.60" y2="173.32" stroke="#8c8c8c" stroke-width="0.5"/>
<line x1="208.30" y1="171.24" x2="209.60" y2="171.24" stroke="#8c8c8c" stroke-width="0.5"/>
<line x1="208.30" y1="169.55" x2="209.60" y2="169.55" stroke="#8c8c8c" stroke-width="0.5"/>
<line x1="208.30" y1="168.11" x2="209.60" y2="168.11" stroke="#8c8c8c" stroke-width="0.5"/>
<line x1="208.30" y1="166.87" x2="209.60" y2="166.87" stroke="#8c8c8c" stroke-width="0.5"/>
<line x1="208.30" y1="165.78" x2="209.60" y2="165.78" stroke="#8c8c8c" stroke-width="0.5"/>
<line x1="208.30" y1="200.96" x2="209.60" y2="200.96" stroke="#8c8c8c" stroke-width="0.5"/>
<line x1="208.30" y1="197.19" x2="209.60" y2="197.19" stroke="#8c8c8c" stroke-width="0.5"/>
<line x1="208.30" y1="194.52" x2="209.60" y2="194.52" stroke="#8c8c8c" stroke-width="0.5"/>
<line x1="208.30" y1="192.44" x2="209.60" y2="192.44" stroke="#8c8c8c" stroke-width="0.5"/>
<line x1="208.30" y1="190.75" x2="209.60" y2="190.75" stroke="#8c8c8c" stroke-width="0.5"/>
<line x1="208.30" y1="189.31" x2="209.60" y2="189.31" stroke="#8c8c8c" stroke-width="0.5"/>
<line x1="208.30" y1="188.07" x2="209.60" y2="188.07" stroke="#8c8c8c" stroke-width="0.5"/>
<line x1="208.30" y1="186.98" x2="209.60" y2="186.98" stroke="#8c8c8c" stroke-width="0.5"/>
<line x1="208.30" y1="222.26" x2="209.60" y2="222.26" stroke="#8c8c8c" stroke-width="0.5"/>
<line x1="208.30" y1="218.49" x2="209.60" y2="218.49" stroke="#8c8c8c" stroke-width="0.5"/>
<line x1="208.30" y1="215.82" x2="209.60" y2="215.82" stroke="#8c8c8c" stroke-width="0.5"/>
<line x1="208.30" y1="213.74" x2="209.60" y2="213.74" stroke="#8c8c8c" stroke-width="0.5"/>
<line x1="208.30" y1="212.05" x2="209.60" y2="212.05" stroke="#8c8c8c" stroke-width="0.5"/>
<line x1="208.30" y1="210.61" x2="209.60" y2="210.61" stroke="#8c8c8c" stroke-width="0.5"/>
<line x1="208.30" y1="209.37" x2="209.60" y2="209.37" stroke="#8c8c8c" stroke-width="0.5"/>
<line x1="208.30" y1="208.28" x2="209.60" y2="208.28" stroke="#8c8c8c" stroke-width="0.5"/>
<line x1="209.60" y1="164.80" x2="278.00" y2="164.80" stroke="#a2a2a2" stroke-width="0.75"/>
<line x1="209.60" y1="186.20" x2="278.00" y2="186.20" stroke="#a2a2a2" stroke-width="0.75"/>
<line x1="209.60" y1="207.40" x2="278.00" y2="207.40" stroke="#a2a2a2" stroke-width="0.75"/>
<line x1="209.60" y1="228.70" x2="278.00" y2="228.70" stroke="#8c8c8c" stroke-width="0.9"/>
<line x1="275.90" y1="228.70" x2="275.90" y2="231.10" stroke="#8c8c8c" stroke-width="0.8"/>
<line x1="263.25" y1="228.70" x2="263.25" y2="229.90" stroke="#8c8c8c" stroke-width="0.5"/>
<line x1="266.44" y1="228.70" x2="266.44" y2="229.90" stroke="#8c8c8c" stroke-width="0.5"/>
<line x1="268.70" y1="228.70" x2="268.70" y2="229.90" stroke="#8c8c8c" stroke-width="0.5"/>
<line x1="270.45" y1="228.70" x2="270.45" y2="229.90" stroke="#8c8c8c" stroke-width="0.5"/>
<line x1="271.88" y1="228.70" x2="271.88" y2="229.90" stroke="#8c8c8c" stroke-width="0.5"/>
<line x1="273.10" y1="228.70" x2="273.10" y2="229.90" stroke="#8c8c8c" stroke-width="0.5"/>
<line x1="274.15" y1="228.70" x2="274.15" y2="229.90" stroke="#8c8c8c" stroke-width="0.5"/>
<line x1="275.07" y1="228.70" x2="275.07" y2="229.90" stroke="#8c8c8c" stroke-width="0.5"/>
<line x1="257.80" y1="228.70" x2="257.80" y2="231.10" stroke="#8c8c8c" stroke-width="0.8"/>
<line x1="245.15" y1="228.70" x2="245.15" y2="229.90" stroke="#8c8c8c" stroke-width="0.5"/>
<line x1="248.34" y1="228.70" x2="248.34" y2="229.90" stroke="#8c8c8c" stroke-width="0.5"/>
<line x1="250.60" y1="228.70" x2="250.60" y2="229.90" stroke="#8c8c8c" stroke-width="0.5"/>
<line x1="252.35" y1="228.70" x2="252.35" y2="229.90" stroke="#8c8c8c" stroke-width="0.5"/>
<line x1="253.78" y1="228.70" x2="253.78" y2="229.90" stroke="#8c8c8c" stroke-width="0.5"/>
<line x1="255.00" y1="228.70" x2="255.00" y2="229.90" stroke="#8c8c8c" stroke-width="0.5"/>
<line x1="256.05" y1="228.70" x2="256.05" y2="229.90" stroke="#8c8c8c" stroke-width="0.5"/>
<line x1="256.97" y1="228.70" x2="256.97" y2="229.90" stroke="#8c8c8c" stroke-width="0.5"/>
<line x1="239.70" y1="228.70" x2="239.70" y2="231.10" stroke="#8c8c8c" stroke-width="0.8"/>
<line x1="227.05" y1="228.70" x2="227.05" y2="229.90" stroke="#8c8c8c" stroke-width="0.5"/>
<line x1="230.24" y1="228.70" x2="230.24" y2="229.90" stroke="#8c8c8c" stroke-width="0.5"/>
<line x1="232.50" y1="228.70" x2="232.50" y2="229.90" stroke="#8c8c8c" stroke-width="0.5"/>
<line x1="234.25" y1="228.70" x2="234.25" y2="229.90" stroke="#8c8c8c" stroke-width="0.5"/>
<line x1="235.68" y1="228.70" x2="235.68" y2="229.90" stroke="#8c8c8c" stroke-width="0.5"/>
<line x1="236.90" y1="228.70" x2="236.90" y2="229.90" stroke="#8c8c8c" stroke-width="0.5"/>
<line x1="237.95" y1="228.70" x2="237.95" y2="229.90" stroke="#8c8c8c" stroke-width="0.5"/>
<line x1="238.87" y1="228.70" x2="238.87" y2="229.90" stroke="#8c8c8c" stroke-width="0.5"/>
<line x1="221.60" y1="228.70" x2="221.60" y2="231.10" stroke="#8c8c8c" stroke-width="0.8"/>
<line x1="212.14" y1="228.70" x2="212.14" y2="229.90" stroke="#8c8c8c" stroke-width="0.5"/>
<line x1="214.40" y1="228.70" x2="214.40" y2="229.90" stroke="#8c8c8c" stroke-width="0.5"/>
<line x1="216.15" y1="228.70" x2="216.15" y2="229.90" stroke="#8c8c8c" stroke-width="0.5"/>
<line x1="217.58" y1="228.70" x2="217.58" y2="229.90" stroke="#8c8c8c" stroke-width="0.5"/>
<line x1="218.80" y1="228.70" x2="218.80" y2="229.90" stroke="#8c8c8c" stroke-width="0.5"/>
<line x1="219.85" y1="228.70" x2="219.85" y2="229.90" stroke="#8c8c8c" stroke-width="0.5"/>
<line x1="220.77" y1="228.70" x2="220.77" y2="229.90" stroke="#8c8c8c" stroke-width="0.5"/>
<polyline points="230.60,177.50 240.00,177.50 248.60,182.90 257.90,180.60 266.50,180.10 275.80,211.00" fill="none" stroke="#fbb36c" stroke-width="0.8" stroke-linejoin="round"/>
<circle cx="230.60" cy="177.50" r="1.9" fill="#fbb36c"/>
<circle cx="240.00" cy="177.50" r="1.9" fill="#fbb36c"/>
<circle cx="248.60" cy="182.90" r="1.9" fill="#fbb36c"/>
<circle cx="257.90" cy="180.60" r="1.9" fill="#fbb36c"/>
<circle cx="266.50" cy="180.10" r="1.9" fill="#fbb36c"/>
<circle cx="275.80" cy="211.00" r="1.9" fill="#fbb36c"/>
<line x1="240.00" y1="173.50" x2="240.00" y2="181.50" stroke="#fbb36c" stroke-width="0.6"/>
<line x1="238.80" y1="173.50" x2="241.20" y2="173.50" stroke="#fbb36c" stroke-width="0.6"/>
<line x1="238.80" y1="181.50" x2="241.20" y2="181.50" stroke="#fbb36c" stroke-width="0.6"/>
<line x1="248.60" y1="180.40" x2="248.60" y2="185.40" stroke="#fbb36c" stroke-width="0.6"/>
<line x1="247.40" y1="180.40" x2="249.80" y2="180.40" stroke="#fbb36c" stroke-width="0.6"/>
<line x1="247.40" y1="185.40" x2="249.80" y2="185.40" stroke="#fbb36c" stroke-width="0.6"/>
<line x1="257.90" y1="178.60" x2="257.90" y2="182.60" stroke="#fbb36c" stroke-width="0.6"/>
<line x1="256.70" y1="178.60" x2="259.10" y2="178.60" stroke="#fbb36c" stroke-width="0.6"/>
<line x1="256.70" y1="182.60" x2="259.10" y2="182.60" stroke="#fbb36c" stroke-width="0.6"/>
<polyline points="230.60,200.90 240.00,201.40 248.60,201.40 257.90,201.40 266.50,203.40 275.80,214.40" fill="none" stroke="#f9a03f" stroke-width="0.8" stroke-linejoin="round"/>
<circle cx="230.60" cy="200.90" r="1.9" fill="#f9a03f"/>
<circle cx="240.00" cy="201.40" r="1.9" fill="#f9a03f"/>
<circle cx="248.60" cy="201.40" r="1.9" fill="#f9a03f"/>
<circle cx="257.90" cy="201.40" r="1.9" fill="#f9a03f"/>
<circle cx="266.50" cy="203.40" r="1.9" fill="#f9a03f"/>
<circle cx="275.80" cy="214.40" r="1.9" fill="#f9a03f"/>
<polyline points="230.60,202.10 240.00,202.90 248.60,202.60 257.90,203.40 266.50,204.60 275.80,216.70" fill="none" stroke="#f5861f" stroke-width="0.8" stroke-linejoin="round"/>
<circle cx="230.60" cy="202.10" r="1.9" fill="#f5861f"/>
<circle cx="240.00" cy="202.90" r="1.9" fill="#f5861f"/>
<circle cx="248.60" cy="202.60" r="1.9" fill="#f5861f"/>
<circle cx="257.90" cy="203.40" r="1.9" fill="#f5861f"/>
<circle cx="266.50" cy="204.60" r="1.9" fill="#f5861f"/>
<circle cx="275.80" cy="216.70" r="1.9" fill="#f5861f"/>
<polyline points="230.60,204.60 240.00,204.40 248.60,203.80 257.90,205.20 266.50,206.90 275.80,215.20" fill="none" stroke="#ec5b1c" stroke-width="0.8" stroke-linejoin="round"/>
<circle cx="230.60" cy="204.60" r="1.9" fill="#ec5b1c"/>
<circle cx="240.00" cy="204.40" r="1.9" fill="#ec5b1c"/>
<circle cx="248.60" cy="203.80" r="1.9" fill="#ec5b1c"/>
<circle cx="257.90" cy="205.20" r="1.9" fill="#ec5b1c"/>
<circle cx="266.50" cy="206.90" r="1.9" fill="#ec5b1c"/>
<circle cx="275.80" cy="215.20" r="1.9" fill="#ec5b1c"/>
<polyline points="230.60,205.80 240.00,204.60 248.60,204.00 257.90,204.60 266.50,206.30 275.80,219.60" fill="none" stroke="#b9561a" stroke-width="0.8" stroke-linejoin="round"/>
<circle cx="230.60" cy="205.80" r="1.9" fill="#b9561a"/>
<circle cx="240.00" cy="204.60" r="1.9" fill="#b9561a"/>
<circle cx="248.60" cy="204.00" r="1.9" fill="#b9561a"/>
<circle cx="257.90" cy="204.60" r="1.9" fill="#b9561a"/>
<circle cx="266.50" cy="206.30" r="1.9" fill="#b9561a"/>
<circle cx="275.80" cy="219.60" r="1.9" fill="#b9561a"/>
<polyline points="212.70,164.80 221.70,164.80 230.60,179.20 240.00,204.60 248.60,204.00" fill="none" stroke="#9ea2a8" stroke-width="0.8" stroke-linejoin="round"/>
<circle cx="212.70" cy="164.80" r="1.9" fill="#9ea2a8"/>
<circle cx="221.70" cy="164.80" r="1.9" fill="#9ea2a8"/>
<circle cx="230.60" cy="179.20" r="1.9" fill="#9ea2a8"/>
<circle cx="240.00" cy="204.60" r="1.9" fill="#9ea2a8"/>
<circle cx="248.60" cy="204.00" r="1.9" fill="#9ea2a8"/>
<line x1="230.60" y1="175.20" x2="230.60" y2="183.20" stroke="#9ea2a8" stroke-width="0.6"/>
<line x1="229.40" y1="175.20" x2="231.80" y2="175.20" stroke="#9ea2a8" stroke-width="0.6"/>
<line x1="229.40" y1="183.20" x2="231.80" y2="183.20" stroke="#9ea2a8" stroke-width="0.6"/>
<polyline points="230.60,164.30 240.00,164.30 248.60,164.30 257.90,163.90 266.50,164.30 275.80,177.40" fill="none" stroke="#141414" stroke-width="0.8" stroke-linejoin="round"/>
<circle cx="230.60" cy="164.30" r="1.9" fill="#141414"/>
<circle cx="240.00" cy="164.30" r="1.9" fill="#141414"/>
<circle cx="248.60" cy="164.30" r="1.9" fill="#141414"/>
<circle cx="257.90" cy="163.90" r="1.9" fill="#141414"/>
<circle cx="266.50" cy="164.30" r="1.9" fill="#141414"/>
<circle cx="275.80" cy="177.40" r="1.9" fill="#141414"/>
<line x1="296.90" y1="161.00" x2="296.90" y2="227.90" stroke="#8c8c8c" stroke-width="0.9"/>
<line x1="294.30" y1="164.80" x2="296.90" y2="164.80" stroke="#8c8c8c" stroke-width="0.9"/>
<text x="293.60" y="167.07" font-size="6.4" text-anchor="end" stroke="#333" stroke-width="0.12" fill="#333">100</text>
<line x1="294.30" y1="227.90" x2="296.90" y2="227.90" stroke="#8c8c8c" stroke-width="0.9"/>
<text x="293.60" y="230.17" font-size="6.4" text-anchor="end" stroke="#333" stroke-width="0.12" fill="#333">10</text>
<line x1="295.60" y1="208.91" x2="296.90" y2="208.91" stroke="#8c8c8c" stroke-width="0.5"/>
<line x1="295.60" y1="197.79" x2="296.90" y2="197.79" stroke="#8c8c8c" stroke-width="0.5"/>
<line x1="295.60" y1="189.91" x2="296.90" y2="189.91" stroke="#8c8c8c" stroke-width="0.5"/>
<line x1="295.60" y1="183.79" x2="296.90" y2="183.79" stroke="#8c8c8c" stroke-width="0.5"/>
<line x1="295.60" y1="178.80" x2="296.90" y2="178.80" stroke="#8c8c8c" stroke-width="0.5"/>
<line x1="295.60" y1="174.57" x2="296.90" y2="174.57" stroke="#8c8c8c" stroke-width="0.5"/>
<line x1="295.60" y1="170.92" x2="296.90" y2="170.92" stroke="#8c8c8c" stroke-width="0.5"/>
<line x1="295.60" y1="167.69" x2="296.90" y2="167.69" stroke="#8c8c8c" stroke-width="0.5"/>
<line x1="296.90" y1="164.80" x2="370.00" y2="164.80" stroke="#a2a2a2" stroke-width="0.75"/>
<line x1="296.90" y1="227.90" x2="370.00" y2="227.90" stroke="#8c8c8c" stroke-width="0.9"/>
<line x1="368.40" y1="227.90" x2="368.40" y2="230.30" stroke="#8c8c8c" stroke-width="0.8"/>
<line x1="354.84" y1="227.90" x2="354.84" y2="229.10" stroke="#8c8c8c" stroke-width="0.5"/>
<line x1="358.26" y1="227.90" x2="358.26" y2="229.10" stroke="#8c8c8c" stroke-width="0.5"/>
<line x1="360.68" y1="227.90" x2="360.68" y2="229.10" stroke="#8c8c8c" stroke-width="0.5"/>
<line x1="362.56" y1="227.90" x2="362.56" y2="229.10" stroke="#8c8c8c" stroke-width="0.5"/>
<line x1="364.10" y1="227.90" x2="364.10" y2="229.10" stroke="#8c8c8c" stroke-width="0.5"/>
<line x1="365.39" y1="227.90" x2="365.39" y2="229.10" stroke="#8c8c8c" stroke-width="0.5"/>
<line x1="366.52" y1="227.90" x2="366.52" y2="229.10" stroke="#8c8c8c" stroke-width="0.5"/>
<line x1="367.51" y1="227.90" x2="367.51" y2="229.10" stroke="#8c8c8c" stroke-width="0.5"/>
<line x1="349.00" y1="227.90" x2="349.00" y2="230.30" stroke="#8c8c8c" stroke-width="0.8"/>
<line x1="335.44" y1="227.90" x2="335.44" y2="229.10" stroke="#8c8c8c" stroke-width="0.5"/>
<line x1="338.86" y1="227.90" x2="338.86" y2="229.10" stroke="#8c8c8c" stroke-width="0.5"/>
<line x1="341.28" y1="227.90" x2="341.28" y2="229.10" stroke="#8c8c8c" stroke-width="0.5"/>
<line x1="343.16" y1="227.90" x2="343.16" y2="229.10" stroke="#8c8c8c" stroke-width="0.5"/>
<line x1="344.70" y1="227.90" x2="344.70" y2="229.10" stroke="#8c8c8c" stroke-width="0.5"/>
<line x1="345.99" y1="227.90" x2="345.99" y2="229.10" stroke="#8c8c8c" stroke-width="0.5"/>
<line x1="347.12" y1="227.90" x2="347.12" y2="229.10" stroke="#8c8c8c" stroke-width="0.5"/>
<line x1="348.11" y1="227.90" x2="348.11" y2="229.10" stroke="#8c8c8c" stroke-width="0.5"/>
<line x1="329.60" y1="227.90" x2="329.60" y2="230.30" stroke="#8c8c8c" stroke-width="0.8"/>
<line x1="316.04" y1="227.90" x2="316.04" y2="229.10" stroke="#8c8c8c" stroke-width="0.5"/>
<line x1="319.46" y1="227.90" x2="319.46" y2="229.10" stroke="#8c8c8c" stroke-width="0.5"/>
<line x1="321.88" y1="227.90" x2="321.88" y2="229.10" stroke="#8c8c8c" stroke-width="0.5"/>
<line x1="323.76" y1="227.90" x2="323.76" y2="229.10" stroke="#8c8c8c" stroke-width="0.5"/>
<line x1="325.30" y1="227.90" x2="325.30" y2="229.10" stroke="#8c8c8c" stroke-width="0.5"/>
<line x1="326.59" y1="227.90" x2="326.59" y2="229.10" stroke="#8c8c8c" stroke-width="0.5"/>
<line x1="327.72" y1="227.90" x2="327.72" y2="229.10" stroke="#8c8c8c" stroke-width="0.5"/>
<line x1="328.71" y1="227.90" x2="328.71" y2="229.10" stroke="#8c8c8c" stroke-width="0.5"/>
<line x1="310.20" y1="227.90" x2="310.20" y2="230.30" stroke="#8c8c8c" stroke-width="0.8"/>
<line x1="300.06" y1="227.90" x2="300.06" y2="229.10" stroke="#8c8c8c" stroke-width="0.5"/>
<line x1="302.48" y1="227.90" x2="302.48" y2="229.10" stroke="#8c8c8c" stroke-width="0.5"/>
<line x1="304.36" y1="227.90" x2="304.36" y2="229.10" stroke="#8c8c8c" stroke-width="0.5"/>
<line x1="305.90" y1="227.90" x2="305.90" y2="229.10" stroke="#8c8c8c" stroke-width="0.5"/>
<line x1="307.19" y1="227.90" x2="307.19" y2="229.10" stroke="#8c8c8c" stroke-width="0.5"/>
<line x1="308.32" y1="227.90" x2="308.32" y2="229.10" stroke="#8c8c8c" stroke-width="0.5"/>
<line x1="309.31" y1="227.90" x2="309.31" y2="229.10" stroke="#8c8c8c" stroke-width="0.5"/>
<polyline points="319.50,164.90 329.50,165.50 338.90,163.50 348.90,165.50 358.40,169.50 368.40,196.10" fill="none" stroke="#fbb36c" stroke-width="0.8" stroke-linejoin="round"/>
<circle cx="319.50" cy="164.90" r="1.9" fill="#fbb36c"/>
<circle cx="329.50" cy="165.50" r="1.9" fill="#fbb36c"/>
<circle cx="338.90" cy="163.50" r="1.9" fill="#fbb36c"/>
<circle cx="348.90" cy="165.50" r="1.9" fill="#fbb36c"/>
<circle cx="358.40" cy="169.50" r="1.9" fill="#fbb36c"/>
<circle cx="368.40" cy="196.10" r="1.9" fill="#fbb36c"/>
<polyline points="319.50,177.00 329.50,174.70 338.90,173.60 348.90,176.20 358.40,175.50 368.40,197.80" fill="none" stroke="#f9a03f" stroke-width="0.8" stroke-linejoin="round"/>
<circle cx="319.50" cy="177.00" r="1.9" fill="#f9a03f"/>
<circle cx="329.50" cy="174.70" r="1.9" fill="#f9a03f"/>
<circle cx="338.90" cy="173.60" r="1.9" fill="#f9a03f"/>
<circle cx="348.90" cy="176.20" r="1.9" fill="#f9a03f"/>
<circle cx="358.40" cy="175.50" r="1.9" fill="#f9a03f"/>
<circle cx="368.40" cy="197.80" r="1.9" fill="#f9a03f"/>
<line x1="348.90" y1="173.70" x2="348.90" y2="178.70" stroke="#f9a03f" stroke-width="0.6"/>
<line x1="347.70" y1="173.70" x2="350.10" y2="173.70" stroke="#f9a03f" stroke-width="0.6"/>
<line x1="347.70" y1="178.70" x2="350.10" y2="178.70" stroke="#f9a03f" stroke-width="0.6"/>
<line x1="329.50" y1="172.70" x2="329.50" y2="176.70" stroke="#f9a03f" stroke-width="0.6"/>
<line x1="328.30" y1="172.70" x2="330.70" y2="172.70" stroke="#f9a03f" stroke-width="0.6"/>
<line x1="328.30" y1="176.70" x2="330.70" y2="176.70" stroke="#f9a03f" stroke-width="0.6"/>
<polyline points="319.50,177.60 329.50,180.50 338.90,185.10 348.90,196.60 358.40,194.90 368.40,200.70" fill="none" stroke="#f5861f" stroke-width="0.8" stroke-linejoin="round"/>
<circle cx="319.50" cy="177.60" r="1.9" fill="#f5861f"/>
<circle cx="329.50" cy="180.50" r="1.9" fill="#f5861f"/>
<circle cx="338.90" cy="185.10" r="1.9" fill="#f5861f"/>
<circle cx="348.90" cy="196.60" r="1.9" fill="#f5861f"/>
<circle cx="358.40" cy="194.90" r="1.9" fill="#f5861f"/>
<circle cx="368.40" cy="200.70" r="1.9" fill="#f5861f"/>
<line x1="358.40" y1="192.90" x2="358.40" y2="196.90" stroke="#f5861f" stroke-width="0.6"/>
<line x1="357.20" y1="192.90" x2="359.60" y2="192.90" stroke="#f5861f" stroke-width="0.6"/>
<line x1="357.20" y1="196.90" x2="359.60" y2="196.90" stroke="#f5861f" stroke-width="0.6"/>
<polyline points="319.50,178.20 329.50,182.20 338.90,189.10 348.90,205.90 358.40,205.90 368.40,202.40" fill="none" stroke="#ec5b1c" stroke-width="0.8" stroke-linejoin="round"/>
<circle cx="319.50" cy="178.20" r="1.9" fill="#ec5b1c"/>
<circle cx="329.50" cy="182.20" r="1.9" fill="#ec5b1c"/>
<circle cx="338.90" cy="189.10" r="1.9" fill="#ec5b1c"/>
<circle cx="348.90" cy="205.90" r="1.9" fill="#ec5b1c"/>
<circle cx="358.40" cy="205.90" r="1.9" fill="#ec5b1c"/>
<circle cx="368.40" cy="202.40" r="1.9" fill="#ec5b1c"/>
<polyline points="319.50,179.30 329.50,181.60 338.90,190.30 348.90,206.40 358.40,207.60 368.40,203.60" fill="none" stroke="#b9561a" stroke-width="0.8" stroke-linejoin="round"/>
<circle cx="319.50" cy="179.30" r="1.9" fill="#b9561a"/>
<circle cx="329.50" cy="181.60" r="1.9" fill="#b9561a"/>
<circle cx="338.90" cy="190.30" r="1.9" fill="#b9561a"/>
<circle cx="348.90" cy="206.40" r="1.9" fill="#b9561a"/>
<circle cx="358.40" cy="207.60" r="1.9" fill="#b9561a"/>
<circle cx="368.40" cy="203.60" r="1.9" fill="#b9561a"/>
<line x1="358.40" y1="205.10" x2="358.40" y2="210.10" stroke="#b9561a" stroke-width="0.6"/>
<line x1="357.20" y1="205.10" x2="359.60" y2="205.10" stroke="#b9561a" stroke-width="0.6"/>
<line x1="357.20" y1="210.10" x2="359.60" y2="210.10" stroke="#b9561a" stroke-width="0.6"/>
<polyline points="300.00,164.80 310.00,166.20 319.50,169.80 329.50,178.20 338.90,177.00" fill="none" stroke="#9ea2a8" stroke-width="0.8" stroke-linejoin="round"/>
<circle cx="300.00" cy="164.80" r="1.9" fill="#9ea2a8"/>
<circle cx="310.00" cy="166.20" r="1.9" fill="#9ea2a8"/>
<circle cx="319.50" cy="169.80" r="1.9" fill="#9ea2a8"/>
<circle cx="329.50" cy="178.20" r="1.9" fill="#9ea2a8"/>
<circle cx="338.90" cy="177.00" r="1.9" fill="#9ea2a8"/>
<line x1="319.50" y1="167.30" x2="319.50" y2="172.30" stroke="#9ea2a8" stroke-width="0.6"/>
<line x1="318.30" y1="167.30" x2="320.70" y2="167.30" stroke="#9ea2a8" stroke-width="0.6"/>
<line x1="318.30" y1="172.30" x2="320.70" y2="172.30" stroke="#9ea2a8" stroke-width="0.6"/>
<line x1="329.50" y1="175.70" x2="329.50" y2="180.70" stroke="#9ea2a8" stroke-width="0.6"/>
<line x1="328.30" y1="175.70" x2="330.70" y2="175.70" stroke="#9ea2a8" stroke-width="0.6"/>
<line x1="328.30" y1="180.70" x2="330.70" y2="180.70" stroke="#9ea2a8" stroke-width="0.6"/>
<polyline points="319.50,163.20 329.50,162.80 338.90,164.70 348.90,165.50 358.40,166.30 368.40,190.90" fill="none" stroke="#141414" stroke-width="0.8" stroke-linejoin="round"/>
<circle cx="319.50" cy="163.20" r="1.9" fill="#141414"/>
<circle cx="329.50" cy="162.80" r="1.9" fill="#141414"/>
<circle cx="338.90" cy="164.70" r="1.9" fill="#141414"/>
<circle cx="348.90" cy="165.50" r="1.9" fill="#141414"/>
<circle cx="358.40" cy="166.30" r="1.9" fill="#141414"/>
<circle cx="368.40" cy="190.90" r="1.9" fill="#141414"/>
<line x1="392.30" y1="165.50" x2="392.30" y2="227.30" stroke="#8c8c8c" stroke-width="0.9"/>
<line x1="389.70" y1="170.00" x2="392.30" y2="170.00" stroke="#8c8c8c" stroke-width="0.9"/>
<text x="389.00" y="172.27" font-size="6.4" text-anchor="end" stroke="#333" stroke-width="0.12" fill="#333">100</text>
<line x1="389.70" y1="214.20" x2="392.30" y2="214.20" stroke="#8c8c8c" stroke-width="0.9"/>
<text x="389.00" y="216.47" font-size="6.4" text-anchor="end" stroke="#333" stroke-width="0.12" fill="#333">10</text>
<line x1="391.00" y1="200.89" x2="392.30" y2="200.89" stroke="#8c8c8c" stroke-width="0.5"/>
<line x1="391.00" y1="193.11" x2="392.30" y2="193.11" stroke="#8c8c8c" stroke-width="0.5"/>
<line x1="391.00" y1="187.59" x2="392.30" y2="187.59" stroke="#8c8c8c" stroke-width="0.5"/>
<line x1="391.00" y1="183.31" x2="392.30" y2="183.31" stroke="#8c8c8c" stroke-width="0.5"/>
<line x1="391.00" y1="179.81" x2="392.30" y2="179.81" stroke="#8c8c8c" stroke-width="0.5"/>
<line x1="391.00" y1="176.85" x2="392.30" y2="176.85" stroke="#8c8c8c" stroke-width="0.5"/>
<line x1="391.00" y1="174.28" x2="392.30" y2="174.28" stroke="#8c8c8c" stroke-width="0.5"/>
<line x1="391.00" y1="172.02" x2="392.30" y2="172.02" stroke="#8c8c8c" stroke-width="0.5"/>
<line x1="391.00" y1="224.01" x2="392.30" y2="224.01" stroke="#8c8c8c" stroke-width="0.5"/>
<line x1="391.00" y1="221.05" x2="392.30" y2="221.05" stroke="#8c8c8c" stroke-width="0.5"/>
<line x1="391.00" y1="218.48" x2="392.30" y2="218.48" stroke="#8c8c8c" stroke-width="0.5"/>
<line x1="391.00" y1="216.22" x2="392.30" y2="216.22" stroke="#8c8c8c" stroke-width="0.5"/>
<line x1="392.30" y1="170.00" x2="458.50" y2="170.00" stroke="#a2a2a2" stroke-width="0.75"/>
<line x1="392.30" y1="214.20" x2="458.50" y2="214.20" stroke="#a2a2a2" stroke-width="0.75"/>
<line x1="392.30" y1="227.30" x2="458.50" y2="227.30" stroke="#8c8c8c" stroke-width="0.9"/>
<line x1="456.80" y1="227.30" x2="456.80" y2="229.70" stroke="#8c8c8c" stroke-width="0.8"/>
<line x1="444.50" y1="227.30" x2="444.50" y2="228.50" stroke="#8c8c8c" stroke-width="0.5"/>
<line x1="447.60" y1="227.30" x2="447.60" y2="228.50" stroke="#8c8c8c" stroke-width="0.5"/>
<line x1="449.80" y1="227.30" x2="449.80" y2="228.50" stroke="#8c8c8c" stroke-width="0.5"/>
<line x1="451.50" y1="227.30" x2="451.50" y2="228.50" stroke="#8c8c8c" stroke-width="0.5"/>
<line x1="452.90" y1="227.30" x2="452.90" y2="228.50" stroke="#8c8c8c" stroke-width="0.5"/>
<line x1="454.07" y1="227.30" x2="454.07" y2="228.50" stroke="#8c8c8c" stroke-width="0.5"/>
<line x1="455.09" y1="227.30" x2="455.09" y2="228.50" stroke="#8c8c8c" stroke-width="0.5"/>
<line x1="455.99" y1="227.30" x2="455.99" y2="228.50" stroke="#8c8c8c" stroke-width="0.5"/>
<line x1="439.20" y1="227.30" x2="439.20" y2="229.70" stroke="#8c8c8c" stroke-width="0.8"/>
<line x1="426.90" y1="227.30" x2="426.90" y2="228.50" stroke="#8c8c8c" stroke-width="0.5"/>
<line x1="430.00" y1="227.30" x2="430.00" y2="228.50" stroke="#8c8c8c" stroke-width="0.5"/>
<line x1="432.20" y1="227.30" x2="432.20" y2="228.50" stroke="#8c8c8c" stroke-width="0.5"/>
<line x1="433.90" y1="227.30" x2="433.90" y2="228.50" stroke="#8c8c8c" stroke-width="0.5"/>
<line x1="435.30" y1="227.30" x2="435.30" y2="228.50" stroke="#8c8c8c" stroke-width="0.5"/>
<line x1="436.47" y1="227.30" x2="436.47" y2="228.50" stroke="#8c8c8c" stroke-width="0.5"/>
<line x1="437.49" y1="227.30" x2="437.49" y2="228.50" stroke="#8c8c8c" stroke-width="0.5"/>
<line x1="438.39" y1="227.30" x2="438.39" y2="228.50" stroke="#8c8c8c" stroke-width="0.5"/>
<line x1="421.60" y1="227.30" x2="421.60" y2="229.70" stroke="#8c8c8c" stroke-width="0.8"/>
<line x1="409.30" y1="227.30" x2="409.30" y2="228.50" stroke="#8c8c8c" stroke-width="0.5"/>
<line x1="412.40" y1="227.30" x2="412.40" y2="228.50" stroke="#8c8c8c" stroke-width="0.5"/>
<line x1="414.60" y1="227.30" x2="414.60" y2="228.50" stroke="#8c8c8c" stroke-width="0.5"/>
<line x1="416.30" y1="227.30" x2="416.30" y2="228.50" stroke="#8c8c8c" stroke-width="0.5"/>
<line x1="417.70" y1="227.30" x2="417.70" y2="228.50" stroke="#8c8c8c" stroke-width="0.5"/>
<line x1="418.87" y1="227.30" x2="418.87" y2="228.50" stroke="#8c8c8c" stroke-width="0.5"/>
<line x1="419.89" y1="227.30" x2="419.89" y2="228.50" stroke="#8c8c8c" stroke-width="0.5"/>
<line x1="420.79" y1="227.30" x2="420.79" y2="228.50" stroke="#8c8c8c" stroke-width="0.5"/>
<line x1="404.00" y1="227.30" x2="404.00" y2="229.70" stroke="#8c8c8c" stroke-width="0.8"/>
<line x1="394.80" y1="227.30" x2="394.80" y2="228.50" stroke="#8c8c8c" stroke-width="0.5"/>
<line x1="397.00" y1="227.30" x2="397.00" y2="228.50" stroke="#8c8c8c" stroke-width="0.5"/>
<line x1="398.70" y1="227.30" x2="398.70" y2="228.50" stroke="#8c8c8c" stroke-width="0.5"/>
<line x1="400.10" y1="227.30" x2="400.10" y2="228.50" stroke="#8c8c8c" stroke-width="0.5"/>
<line x1="401.27" y1="227.30" x2="401.27" y2="228.50" stroke="#8c8c8c" stroke-width="0.5"/>
<line x1="402.29" y1="227.30" x2="402.29" y2="228.50" stroke="#8c8c8c" stroke-width="0.5"/>
<line x1="403.19" y1="227.30" x2="403.19" y2="228.50" stroke="#8c8c8c" stroke-width="0.5"/>
<polyline points="412.50,175.40 421.50,175.80 430.40,178.30 439.40,179.20 447.70,186.00 456.80,209.00" fill="none" stroke="#fbb36c" stroke-width="0.8" stroke-linejoin="round"/>
<circle cx="412.50" cy="175.40" r="1.9" fill="#fbb36c"/>
<circle cx="421.50" cy="175.80" r="1.9" fill="#fbb36c"/>
<circle cx="430.40" cy="178.30" r="1.9" fill="#fbb36c"/>
<circle cx="439.40" cy="179.20" r="1.9" fill="#fbb36c"/>
<circle cx="447.70" cy="186.00" r="1.9" fill="#fbb36c"/>
<circle cx="456.80" cy="209.00" r="1.9" fill="#fbb36c"/>
<line x1="421.50" y1="173.30" x2="421.50" y2="178.30" stroke="#fbb36c" stroke-width="0.6"/>
<line x1="420.30" y1="173.30" x2="422.70" y2="173.30" stroke="#fbb36c" stroke-width="0.6"/>
<line x1="420.30" y1="178.30" x2="422.70" y2="178.30" stroke="#fbb36c" stroke-width="0.6"/>
<line x1="430.40" y1="175.80" x2="430.40" y2="180.80" stroke="#fbb36c" stroke-width="0.6"/>
<line x1="429.20" y1="175.80" x2="431.60" y2="175.80" stroke="#fbb36c" stroke-width="0.6"/>
<line x1="429.20" y1="180.80" x2="431.60" y2="180.80" stroke="#fbb36c" stroke-width="0.6"/>
<polyline points="412.50,188.50 421.50,188.50 430.40,190.80 439.40,192.30 447.70,196.50 456.80,212.90" fill="none" stroke="#f9a03f" stroke-width="0.8" stroke-linejoin="round"/>
<circle cx="412.50" cy="188.50" r="1.9" fill="#f9a03f"/>
<circle cx="421.50" cy="188.50" r="1.9" fill="#f9a03f"/>
<circle cx="430.40" cy="190.80" r="1.9" fill="#f9a03f"/>
<circle cx="439.40" cy="192.30" r="1.9" fill="#f9a03f"/>
<circle cx="447.70" cy="196.50" r="1.9" fill="#f9a03f"/>
<circle cx="456.80" cy="212.90" r="1.9" fill="#f9a03f"/>
<line x1="421.50" y1="186.00" x2="421.50" y2="191.00" stroke="#f9a03f" stroke-width="0.6"/>
<line x1="420.30" y1="186.00" x2="422.70" y2="186.00" stroke="#f9a03f" stroke-width="0.6"/>
<line x1="420.30" y1="191.00" x2="422.70" y2="191.00" stroke="#f9a03f" stroke-width="0.6"/>
<polyline points="412.50,197.00 421.50,197.00 430.40,197.50 439.40,200.40 447.70,202.70 456.80,215.80" fill="none" stroke="#f5861f" stroke-width="0.8" stroke-linejoin="round"/>
<circle cx="412.50" cy="197.00" r="1.9" fill="#f5861f"/>
<circle cx="421.50" cy="197.00" r="1.9" fill="#f5861f"/>
<circle cx="430.40" cy="197.50" r="1.9" fill="#f5861f"/>
<circle cx="439.40" cy="200.40" r="1.9" fill="#f5861f"/>
<circle cx="447.70" cy="202.70" r="1.9" fill="#f5861f"/>
<circle cx="456.80" cy="215.80" r="1.9" fill="#f5861f"/>
<polyline points="412.50,208.50 421.50,206.70 430.40,210.60 439.40,207.70 447.70,212.50 456.80,221.50" fill="none" stroke="#ec5b1c" stroke-width="0.8" stroke-linejoin="round"/>
<circle cx="412.50" cy="208.50" r="1.9" fill="#ec5b1c"/>
<circle cx="421.50" cy="206.70" r="1.9" fill="#ec5b1c"/>
<circle cx="430.40" cy="210.60" r="1.9" fill="#ec5b1c"/>
<circle cx="439.40" cy="207.70" r="1.9" fill="#ec5b1c"/>
<circle cx="447.70" cy="212.50" r="1.9" fill="#ec5b1c"/>
<circle cx="456.80" cy="221.50" r="1.9" fill="#ec5b1c"/>
<line x1="447.70" y1="210.50" x2="447.70" y2="214.50" stroke="#ec5b1c" stroke-width="0.6"/>
<line x1="446.50" y1="210.50" x2="448.90" y2="210.50" stroke="#ec5b1c" stroke-width="0.6"/>
<line x1="446.50" y1="214.50" x2="448.90" y2="214.50" stroke="#ec5b1c" stroke-width="0.6"/>
<polyline points="412.50,214.20 421.50,216.20 430.40,215.80 439.40,214.40 447.70,217.30 456.80,223.50" fill="none" stroke="#b9561a" stroke-width="0.8" stroke-linejoin="round"/>
<circle cx="412.50" cy="214.20" r="1.9" fill="#b9561a"/>
<circle cx="421.50" cy="216.20" r="1.9" fill="#b9561a"/>
<circle cx="430.40" cy="215.80" r="1.9" fill="#b9561a"/>
<circle cx="439.40" cy="214.40" r="1.9" fill="#b9561a"/>
<circle cx="447.70" cy="217.30" r="1.9" fill="#b9561a"/>
<circle cx="456.80" cy="223.50" r="1.9" fill="#b9561a"/>
<polyline points="394.80,168.30 403.80,173.80 412.50,192.30 421.50,206.70 430.40,212.30" fill="none" stroke="#9ea2a8" stroke-width="0.8" stroke-linejoin="round"/>
<circle cx="394.80" cy="168.30" r="1.9" fill="#9ea2a8"/>
<circle cx="403.80" cy="173.80" r="1.9" fill="#9ea2a8"/>
<circle cx="412.50" cy="192.30" r="1.9" fill="#9ea2a8"/>
<circle cx="421.50" cy="206.70" r="1.9" fill="#9ea2a8"/>
<circle cx="430.40" cy="212.30" r="1.9" fill="#9ea2a8"/>
<line x1="412.50" y1="189.30" x2="412.50" y2="195.30" stroke="#9ea2a8" stroke-width="0.6"/>
<line x1="411.30" y1="189.30" x2="413.70" y2="189.30" stroke="#9ea2a8" stroke-width="0.6"/>
<line x1="411.30" y1="195.30" x2="413.70" y2="195.30" stroke="#9ea2a8" stroke-width="0.6"/>
<polyline points="412.50,169.20 421.50,168.00 430.40,169.00 439.40,171.00 447.70,175.40 456.80,198.50" fill="none" stroke="#141414" stroke-width="0.8" stroke-linejoin="round"/>
<circle cx="412.50" cy="169.20" r="1.9" fill="#141414"/>
<circle cx="421.50" cy="168.00" r="1.9" fill="#141414"/>
<circle cx="430.40" cy="169.00" r="1.9" fill="#141414"/>
<circle cx="439.40" cy="171.00" r="1.9" fill="#141414"/>
<circle cx="447.70" cy="175.40" r="1.9" fill="#141414"/>
<circle cx="456.80" cy="198.50" r="1.9" fill="#141414"/>
<line x1="456.80" y1="194.50" x2="456.80" y2="202.50" stroke="#141414" stroke-width="0.6"/>
<line x1="455.60" y1="194.50" x2="458.00" y2="194.50" stroke="#141414" stroke-width="0.6"/>
<line x1="455.60" y1="202.50" x2="458.00" y2="202.50" stroke="#141414" stroke-width="0.6"/>
<line x1="26.30" y1="374.00" x2="26.30" y2="443.00" stroke="#8c8c8c" stroke-width="0.9"/>
<line x1="23.70" y1="377.30" x2="26.30" y2="377.30" stroke="#8c8c8c" stroke-width="0.9"/>
<text x="23.00" y="379.57" font-size="6.4" text-anchor="end" stroke="#333" stroke-width="0.12" fill="#333">100</text>
<line x1="23.70" y1="395.90" x2="26.30" y2="395.90" stroke="#8c8c8c" stroke-width="0.9"/>
<text x="23.00" y="398.17" font-size="6.4" text-anchor="end" stroke="#333" stroke-width="0.12" fill="#333">10</text>
<line x1="23.70" y1="414.40" x2="26.30" y2="414.40" stroke="#8c8c8c" stroke-width="0.9"/>
<text x="23.00" y="416.67" font-size="6.4" text-anchor="end" stroke="#333" stroke-width="0.12" fill="#333">1</text>
<line x1="23.70" y1="432.90" x2="26.30" y2="432.90" stroke="#8c8c8c" stroke-width="0.9"/>
<text x="23.00" y="435.17" font-size="6.4" text-anchor="end" stroke="#333" stroke-width="0.12" fill="#333">0.1</text>
<line x1="25.00" y1="390.30" x2="26.30" y2="390.30" stroke="#8c8c8c" stroke-width="0.5"/>
<line x1="25.00" y1="387.03" x2="26.30" y2="387.03" stroke="#8c8c8c" stroke-width="0.5"/>
<line x1="25.00" y1="384.70" x2="26.30" y2="384.70" stroke="#8c8c8c" stroke-width="0.5"/>
<line x1="25.00" y1="382.90" x2="26.30" y2="382.90" stroke="#8c8c8c" stroke-width="0.5"/>
<line x1="25.00" y1="381.43" x2="26.30" y2="381.43" stroke="#8c8c8c" stroke-width="0.5"/>
<line x1="25.00" y1="380.18" x2="26.30" y2="380.18" stroke="#8c8c8c" stroke-width="0.5"/>
<line x1="25.00" y1="379.10" x2="26.30" y2="379.10" stroke="#8c8c8c" stroke-width="0.5"/>
<line x1="25.00" y1="378.15" x2="26.30" y2="378.15" stroke="#8c8c8c" stroke-width="0.5"/>
<line x1="25.00" y1="408.80" x2="26.30" y2="408.80" stroke="#8c8c8c" stroke-width="0.5"/>
<line x1="25.00" y1="405.53" x2="26.30" y2="405.53" stroke="#8c8c8c" stroke-width="0.5"/>
<line x1="25.00" y1="403.20" x2="26.30" y2="403.20" stroke="#8c8c8c" stroke-width="0.5"/>
<line x1="25.00" y1="401.40" x2="26.30" y2="401.40" stroke="#8c8c8c" stroke-width="0.5"/>
<line x1="25.00" y1="399.93" x2="26.30" y2="399.93" stroke="#8c8c8c" stroke-width="0.5"/>
<line x1="25.00" y1="398.68" x2="26.30" y2="398.68" stroke="#8c8c8c" stroke-width="0.5"/>
<line x1="25.00" y1="397.60" x2="26.30" y2="397.60" stroke="#8c8c8c" stroke-width="0.5"/>
<line x1="25.00" y1="396.65" x2="26.30" y2="396.65" stroke="#8c8c8c" stroke-width="0.5"/>
<line x1="25.00" y1="427.30" x2="26.30" y2="427.30" stroke="#8c8c8c" stroke-width="0.5"/>
<line x1="25.00" y1="424.03" x2="26.30" y2="424.03" stroke="#8c8c8c" stroke-width="0.5"/>
<line x1="25.00" y1="421.70" x2="26.30" y2="421.70" stroke="#8c8c8c" stroke-width="0.5"/>
<line x1="25.00" y1="419.90" x2="26.30" y2="419.90" stroke="#8c8c8c" stroke-width="0.5"/>
<line x1="25.00" y1="418.43" x2="26.30" y2="418.43" stroke="#8c8c8c" stroke-width="0.5"/>
<line x1="25.00" y1="417.18" x2="26.30" y2="417.18" stroke="#8c8c8c" stroke-width="0.5"/>
<line x1="25.00" y1="416.10" x2="26.30" y2="416.10" stroke="#8c8c8c" stroke-width="0.5"/>
<line x1="25.00" y1="415.15" x2="26.30" y2="415.15" stroke="#8c8c8c" stroke-width="0.5"/>
<line x1="25.00" y1="442.63" x2="26.30" y2="442.63" stroke="#8c8c8c" stroke-width="0.5"/>
<line x1="25.00" y1="440.30" x2="26.30" y2="440.30" stroke="#8c8c8c" stroke-width="0.5"/>
<line x1="25.00" y1="438.50" x2="26.30" y2="438.50" stroke="#8c8c8c" stroke-width="0.5"/>
<line x1="25.00" y1="437.03" x2="26.30" y2="437.03" stroke="#8c8c8c" stroke-width="0.5"/>
<line x1="25.00" y1="435.78" x2="26.30" y2="435.78" stroke="#8c8c8c" stroke-width="0.5"/>
<line x1="25.00" y1="434.70" x2="26.30" y2="434.70" stroke="#8c8c8c" stroke-width="0.5"/>
<line x1="25.00" y1="433.75" x2="26.30" y2="433.75" stroke="#8c8c8c" stroke-width="0.5"/>
<line x1="26.30" y1="377.30" x2="96.50" y2="377.30" stroke="#a2a2a2" stroke-width="0.75"/>
<line x1="26.30" y1="395.90" x2="96.50" y2="395.90" stroke="#a2a2a2" stroke-width="0.75"/>
<line x1="26.30" y1="414.40" x2="96.50" y2="414.40" stroke="#a2a2a2" stroke-width="0.75"/>
<line x1="26.30" y1="432.90" x2="96.50" y2="432.90" stroke="#a2a2a2" stroke-width="0.75"/>
<line x1="26.30" y1="443.00" x2="96.50" y2="443.00" stroke="#8c8c8c" stroke-width="0.9"/>
<line x1="95.20" y1="443.00" x2="95.20" y2="445.40" stroke="#8c8c8c" stroke-width="0.8"/>
<line x1="87.18" y1="443.00" x2="87.18" y2="444.20" stroke="#8c8c8c" stroke-width="0.5"/>
<line x1="89.20" y1="443.00" x2="89.20" y2="444.20" stroke="#8c8c8c" stroke-width="0.5"/>
<line x1="90.63" y1="443.00" x2="90.63" y2="444.20" stroke="#8c8c8c" stroke-width="0.5"/>
<line x1="91.74" y1="443.00" x2="91.74" y2="444.20" stroke="#8c8c8c" stroke-width="0.5"/>
<line x1="92.65" y1="443.00" x2="92.65" y2="444.20" stroke="#8c8c8c" stroke-width="0.5"/>
<line x1="93.42" y1="443.00" x2="93.42" y2="444.20" stroke="#8c8c8c" stroke-width="0.5"/>
<line x1="94.09" y1="443.00" x2="94.09" y2="444.20" stroke="#8c8c8c" stroke-width="0.5"/>
<line x1="94.67" y1="443.00" x2="94.67" y2="444.20" stroke="#8c8c8c" stroke-width="0.5"/>
<line x1="83.72" y1="443.00" x2="83.72" y2="445.40" stroke="#8c8c8c" stroke-width="0.8"/>
<line x1="75.70" y1="443.00" x2="75.70" y2="444.20" stroke="#8c8c8c" stroke-width="0.5"/>
<line x1="77.72" y1="443.00" x2="77.72" y2="444.20" stroke="#8c8c8c" stroke-width="0.5"/>
<line x1="79.15" y1="443.00" x2="79.15" y2="444.20" stroke="#8c8c8c" stroke-width="0.5"/>
<line x1="80.26" y1="443.00" x2="80.26" y2="444.20" stroke="#8c8c8c" stroke-width="0.5"/>
<line x1="81.17" y1="443.00" x2="81.17" y2="444.20" stroke="#8c8c8c" stroke-width="0.5"/>
<line x1="81.94" y1="443.00" x2="81.94" y2="444.20" stroke="#8c8c8c" stroke-width="0.5"/>
<line x1="82.61" y1="443.00" x2="82.61" y2="444.20" stroke="#8c8c8c" stroke-width="0.5"/>
<line x1="83.19" y1="443.00" x2="83.19" y2="444.20" stroke="#8c8c8c" stroke-width="0.5"/>
<line x1="72.24" y1="443.00" x2="72.24" y2="445.40" stroke="#8c8c8c" stroke-width="0.8"/>
<line x1="64.22" y1="443.00" x2="64.22" y2="444.20" stroke="#8c8c8c" stroke-width="0.5"/>
<line x1="66.24" y1="443.00" x2="66.24" y2="444.20" stroke="#8c8c8c" stroke-width="0.5"/>
<line x1="67.67" y1="443.00" x2="67.67" y2="444.20" stroke="#8c8c8c" stroke-width="0.5"/>
<line x1="68.78" y1="443.00" x2="68.78" y2="444.20" stroke="#8c8c8c" stroke-width="0.5"/>
<line x1="69.69" y1="443.00" x2="69.69" y2="444.20" stroke="#8c8c8c" stroke-width="0.5"/>
<line x1="70.46" y1="443.00" x2="70.46" y2="444.20" stroke="#8c8c8c" stroke-width="0.5"/>
<line x1="71.13" y1="443.00" x2="71.13" y2="444.20" stroke="#8c8c8c" stroke-width="0.5"/>
<line x1="71.71" y1="443.00" x2="71.71" y2="444.20" stroke="#8c8c8c" stroke-width="0.5"/>
<line x1="60.76" y1="443.00" x2="60.76" y2="445.40" stroke="#8c8c8c" stroke-width="0.8"/>
<line x1="52.74" y1="443.00" x2="52.74" y2="444.20" stroke="#8c8c8c" stroke-width="0.5"/>
<line x1="54.76" y1="443.00" x2="54.76" y2="444.20" stroke="#8c8c8c" stroke-width="0.5"/>
<line x1="56.19" y1="443.00" x2="56.19" y2="444.20" stroke="#8c8c8c" stroke-width="0.5"/>
<line x1="57.30" y1="443.00" x2="57.30" y2="444.20" stroke="#8c8c8c" stroke-width="0.5"/>
<line x1="58.21" y1="443.00" x2="58.21" y2="444.20" stroke="#8c8c8c" stroke-width="0.5"/>
<line x1="58.98" y1="443.00" x2="58.98" y2="444.20" stroke="#8c8c8c" stroke-width="0.5"/>
<line x1="59.65" y1="443.00" x2="59.65" y2="444.20" stroke="#8c8c8c" stroke-width="0.5"/>
<line x1="60.23" y1="443.00" x2="60.23" y2="444.20" stroke="#8c8c8c" stroke-width="0.5"/>
<line x1="49.28" y1="443.00" x2="49.28" y2="445.40" stroke="#8c8c8c" stroke-width="0.8"/>
<line x1="41.26" y1="443.00" x2="41.26" y2="444.20" stroke="#8c8c8c" stroke-width="0.5"/>
<line x1="43.28" y1="443.00" x2="43.28" y2="444.20" stroke="#8c8c8c" stroke-width="0.5"/>
<line x1="44.71" y1="443.00" x2="44.71" y2="444.20" stroke="#8c8c8c" stroke-width="0.5"/>
<line x1="45.82" y1="443.00" x2="45.82" y2="444.20" stroke="#8c8c8c" stroke-width="0.5"/>
<line x1="46.73" y1="443.00" x2="46.73" y2="444.20" stroke="#8c8c8c" stroke-width="0.5"/>
<line x1="47.50" y1="443.00" x2="47.50" y2="444.20" stroke="#8c8c8c" stroke-width="0.5"/>
<line x1="48.17" y1="443.00" x2="48.17" y2="444.20" stroke="#8c8c8c" stroke-width="0.5"/>
<line x1="48.75" y1="443.00" x2="48.75" y2="444.20" stroke="#8c8c8c" stroke-width="0.5"/>
<line x1="37.80" y1="443.00" x2="37.80" y2="445.40" stroke="#8c8c8c" stroke-width="0.8"/>
<line x1="29.78" y1="443.00" x2="29.78" y2="444.20" stroke="#8c8c8c" stroke-width="0.5"/>
<line x1="31.80" y1="443.00" x2="31.80" y2="444.20" stroke="#8c8c8c" stroke-width="0.5"/>
<line x1="33.23" y1="443.00" x2="33.23" y2="444.20" stroke="#8c8c8c" stroke-width="0.5"/>
<line x1="34.34" y1="443.00" x2="34.34" y2="444.20" stroke="#8c8c8c" stroke-width="0.5"/>
<line x1="35.25" y1="443.00" x2="35.25" y2="444.20" stroke="#8c8c8c" stroke-width="0.5"/>
<line x1="36.02" y1="443.00" x2="36.02" y2="444.20" stroke="#8c8c8c" stroke-width="0.5"/>
<line x1="36.69" y1="443.00" x2="36.69" y2="444.20" stroke="#8c8c8c" stroke-width="0.5"/>
<line x1="37.27" y1="443.00" x2="37.27" y2="444.20" stroke="#8c8c8c" stroke-width="0.5"/>
<line x1="26.32" y1="443.00" x2="26.32" y2="445.40" stroke="#8c8c8c" stroke-width="0.8"/>
<text x="26.42" y="449.90" font-size="6.6" text-anchor="end" fill="#333" stroke="#333" stroke-width="0.08" transform="rotate(-45 26.42 447.60)">0.00001</text>
<text x="37.90" y="449.90" font-size="6.6" text-anchor="end" fill="#333" stroke="#333" stroke-width="0.08" transform="rotate(-45 37.90 447.60)">0.0001</text>
<text x="49.38" y="449.90" font-size="6.6" text-anchor="end" fill="#333" stroke="#333" stroke-width="0.08" transform="rotate(-45 49.38 447.60)">0.001</text>
<text x="60.86" y="449.90" font-size="6.6" text-anchor="end" fill="#333" stroke="#333" stroke-width="0.08" transform="rotate(-45 60.86 447.60)">0.01</text>
<text x="72.34" y="449.90" font-size="6.6" text-anchor="end" fill="#333" stroke="#333" stroke-width="0.08" transform="rotate(-45 72.34 447.60)">0.1</text>
<text x="83.82" y="449.90" font-size="6.6" text-anchor="end" fill="#333" stroke="#333" stroke-width="0.08" transform="rotate(-45 83.82 447.60)">1</text>
<text x="95.30" y="449.90" font-size="6.6" text-anchor="end" fill="#333" stroke="#333" stroke-width="0.08" transform="rotate(-45 95.30 447.60)">10</text>
<polyline points="66.30,383.00 72.10,385.40 77.90,385.40 83.70,383.50 89.40,385.00 95.20,388.80" fill="none" stroke="#fbb36c" stroke-width="0.8" stroke-linejoin="round"/>
<circle cx="66.30" cy="383.00" r="1.9" fill="#fbb36c"/>
<circle cx="72.10" cy="385.40" r="1.9" fill="#fbb36c"/>
<circle cx="77.90" cy="385.40" r="1.9" fill="#fbb36c"/>
<circle cx="83.70" cy="383.50" r="1.9" fill="#fbb36c"/>
<circle cx="89.40" cy="385.00" r="1.9" fill="#fbb36c"/>
<circle cx="95.20" cy="388.80" r="1.9" fill="#fbb36c"/>
<polyline points="66.30,390.00 72.10,391.00 77.90,390.00 83.70,388.50 89.40,389.00 95.20,390.00" fill="none" stroke="#f9a03f" stroke-width="0.8" stroke-linejoin="round"/>
<circle cx="66.30" cy="390.00" r="1.9" fill="#f9a03f"/>
<circle cx="72.10" cy="391.00" r="1.9" fill="#f9a03f"/>
<circle cx="77.90" cy="390.00" r="1.9" fill="#f9a03f"/>
<circle cx="83.70" cy="388.50" r="1.9" fill="#f9a03f"/>
<circle cx="89.40" cy="389.00" r="1.9" fill="#f9a03f"/>
<circle cx="95.20" cy="390.00" r="1.9" fill="#f9a03f"/>
<polyline points="66.30,392.30 72.10,392.00 77.90,391.50 83.70,390.80 89.40,390.50 95.20,391.50" fill="none" stroke="#f5861f" stroke-width="0.8" stroke-linejoin="round"/>
<circle cx="66.30" cy="392.30" r="1.9" fill="#f5861f"/>
<circle cx="72.10" cy="392.00" r="1.9" fill="#f5861f"/>
<circle cx="77.90" cy="391.50" r="1.9" fill="#f5861f"/>
<circle cx="83.70" cy="390.80" r="1.9" fill="#f5861f"/>
<circle cx="89.40" cy="390.50" r="1.9" fill="#f5861f"/>
<circle cx="95.20" cy="391.50" r="1.9" fill="#f5861f"/>
<line x1="83.70" y1="388.30" x2="83.70" y2="393.30" stroke="#f5861f" stroke-width="0.6"/>
<line x1="82.50" y1="388.30" x2="84.90" y2="388.30" stroke="#f5861f" stroke-width="0.6"/>
<line x1="82.50" y1="393.30" x2="84.90" y2="393.30" stroke="#f5861f" stroke-width="0.6"/>
<polyline points="66.30,397.90 72.10,397.50 77.90,397.30 83.70,395.60 89.40,395.20 95.20,395.80" fill="none" stroke="#ec5b1c" stroke-width="0.8" stroke-linejoin="round"/>
<circle cx="66.30" cy="397.90" r="1.9" fill="#ec5b1c"/>
<circle cx="72.10" cy="397.50" r="1.9" fill="#ec5b1c"/>
<circle cx="77.90" cy="397.30" r="1.9" fill="#ec5b1c"/>
<circle cx="83.70" cy="395.60" r="1.9" fill="#ec5b1c"/>
<circle cx="89.40" cy="395.20" r="1.9" fill="#ec5b1c"/>
<circle cx="95.20" cy="395.80" r="1.9" fill="#ec5b1c"/>
<polyline points="66.30,431.20 72.10,429.60 77.90,429.60 83.70,423.00 89.40,421.50 95.20,421.20" fill="none" stroke="#b9561a" stroke-width="0.8" stroke-linejoin="round"/>
<circle cx="66.30" cy="431.20" r="1.9" fill="#b9561a"/>
<circle cx="72.10" cy="429.60" r="1.9" fill="#b9561a"/>
<circle cx="77.90" cy="429.60" r="1.9" fill="#b9561a"/>
<circle cx="83.70" cy="423.00" r="1.9" fill="#b9561a"/>
<circle cx="89.40" cy="421.50" r="1.9" fill="#b9561a"/>
<circle cx="95.20" cy="421.20" r="1.9" fill="#b9561a"/>
<line x1="66.30" y1="429.20" x2="66.30" y2="433.20" stroke="#b9561a" stroke-width="0.6"/>
<line x1="65.10" y1="429.20" x2="67.50" y2="429.20" stroke="#b9561a" stroke-width="0.6"/>
<line x1="65.10" y1="433.20" x2="67.50" y2="433.20" stroke="#b9561a" stroke-width="0.6"/>
<line x1="83.70" y1="418.00" x2="83.70" y2="428.00" stroke="#b9561a" stroke-width="0.6"/>
<line x1="82.50" y1="418.00" x2="84.90" y2="418.00" stroke="#b9561a" stroke-width="0.6"/>
<line x1="82.50" y1="428.00" x2="84.90" y2="428.00" stroke="#b9561a" stroke-width="0.6"/>
<line x1="89.40" y1="416.50" x2="89.40" y2="426.50" stroke="#b9561a" stroke-width="0.6"/>
<line x1="88.20" y1="416.50" x2="90.60" y2="416.50" stroke="#b9561a" stroke-width="0.6"/>
<line x1="88.20" y1="426.50" x2="90.60" y2="426.50" stroke="#b9561a" stroke-width="0.6"/>
<line x1="95.20" y1="414.20" x2="95.20" y2="428.20" stroke="#b9561a" stroke-width="0.6"/>
<line x1="94.00" y1="414.20" x2="96.40" y2="414.20" stroke="#b9561a" stroke-width="0.6"/>
<line x1="94.00" y1="428.20" x2="96.40" y2="428.20" stroke="#b9561a" stroke-width="0.6"/>
<polyline points="31.70,377.30 37.90,378.30 43.80,384.60 49.60,397.50 55.40,431.20" fill="none" stroke="#9ea2a8" stroke-width="0.8" stroke-linejoin="round"/>
<circle cx="31.70" cy="377.30" r="1.9" fill="#9ea2a8"/>
<circle cx="37.90" cy="378.30" r="1.9" fill="#9ea2a8"/>
<circle cx="43.80" cy="384.60" r="1.9" fill="#9ea2a8"/>
<circle cx="49.60" cy="397.50" r="1.9" fill="#9ea2a8"/>
<circle cx="55.40" cy="431.20" r="1.9" fill="#9ea2a8"/>
<line x1="55.40" y1="428.70" x2="55.40" y2="433.70" stroke="#9ea2a8" stroke-width="0.6"/>
<line x1="54.20" y1="428.70" x2="56.60" y2="428.70" stroke="#9ea2a8" stroke-width="0.6"/>
<line x1="54.20" y1="433.70" x2="56.60" y2="433.70" stroke="#9ea2a8" stroke-width="0.6"/>
<polyline points="66.30,377.70 72.10,377.70 77.90,383.00 83.70,377.70 89.40,377.70 95.20,380.20" fill="none" stroke="#141414" stroke-width="0.8" stroke-linejoin="round"/>
<circle cx="66.30" cy="377.70" r="1.9" fill="#141414"/>
<circle cx="72.10" cy="377.70" r="1.9" fill="#141414"/>
<circle cx="77.90" cy="383.00" r="1.9" fill="#141414"/>
<circle cx="83.70" cy="377.70" r="1.9" fill="#141414"/>
<circle cx="89.40" cy="377.70" r="1.9" fill="#141414"/>
<circle cx="95.20" cy="380.20" r="1.9" fill="#141414"/>
<line x1="115.20" y1="374.50" x2="115.20" y2="442.70" stroke="#8c8c8c" stroke-width="0.9"/>
<line x1="112.60" y1="377.30" x2="115.20" y2="377.30" stroke="#8c8c8c" stroke-width="0.9"/>
<text x="111.90" y="379.57" font-size="6.4" text-anchor="end" stroke="#333" stroke-width="0.12" fill="#333">100</text>
<line x1="112.60" y1="397.20" x2="115.20" y2="397.20" stroke="#8c8c8c" stroke-width="0.9"/>
<text x="111.90" y="399.47" font-size="6.4" text-anchor="end" stroke="#333" stroke-width="0.12" fill="#333">10</text>
<line x1="112.60" y1="417.10" x2="115.20" y2="417.10" stroke="#8c8c8c" stroke-width="0.9"/>
<text x="111.90" y="419.37" font-size="6.4" text-anchor="end" stroke="#333" stroke-width="0.12" fill="#333">1</text>
<line x1="112.60" y1="436.90" x2="115.20" y2="436.90" stroke="#8c8c8c" stroke-width="0.9"/>
<text x="111.90" y="439.17" font-size="6.4" text-anchor="end" stroke="#333" stroke-width="0.12" fill="#333">0.1</text>
<line x1="113.90" y1="391.21" x2="115.20" y2="391.21" stroke="#8c8c8c" stroke-width="0.5"/>
<line x1="113.90" y1="387.71" x2="115.20" y2="387.71" stroke="#8c8c8c" stroke-width="0.5"/>
<line x1="113.90" y1="385.22" x2="115.20" y2="385.22" stroke="#8c8c8c" stroke-width="0.5"/>
<line x1="113.90" y1="383.29" x2="115.20" y2="383.29" stroke="#8c8c8c" stroke-width="0.5"/>
<line x1="113.90" y1="381.71" x2="115.20" y2="381.71" stroke="#8c8c8c" stroke-width="0.5"/>
<line x1="113.90" y1="380.38" x2="115.20" y2="380.38" stroke="#8c8c8c" stroke-width="0.5"/>
<line x1="113.90" y1="379.23" x2="115.20" y2="379.23" stroke="#8c8c8c" stroke-width="0.5"/>
<line x1="113.90" y1="378.21" x2="115.20" y2="378.21" stroke="#8c8c8c" stroke-width="0.5"/>
<line x1="113.90" y1="411.11" x2="115.20" y2="411.11" stroke="#8c8c8c" stroke-width="0.5"/>
<line x1="113.90" y1="407.61" x2="115.20" y2="407.61" stroke="#8c8c8c" stroke-width="0.5"/>
<line x1="113.90" y1="405.12" x2="115.20" y2="405.12" stroke="#8c8c8c" stroke-width="0.5"/>
<line x1="113.90" y1="403.19" x2="115.20" y2="403.19" stroke="#8c8c8c" stroke-width="0.5"/>
<line x1="113.90" y1="401.61" x2="115.20" y2="401.61" stroke="#8c8c8c" stroke-width="0.5"/>
<line x1="113.90" y1="400.28" x2="115.20" y2="400.28" stroke="#8c8c8c" stroke-width="0.5"/>
<line x1="113.90" y1="399.13" x2="115.20" y2="399.13" stroke="#8c8c8c" stroke-width="0.5"/>
<line x1="113.90" y1="398.11" x2="115.20" y2="398.11" stroke="#8c8c8c" stroke-width="0.5"/>
<line x1="113.90" y1="430.91" x2="115.20" y2="430.91" stroke="#8c8c8c" stroke-width="0.5"/>
<line x1="113.90" y1="427.41" x2="115.20" y2="427.41" stroke="#8c8c8c" stroke-width="0.5"/>
<line x1="113.90" y1="424.92" x2="115.20" y2="424.92" stroke="#8c8c8c" stroke-width="0.5"/>
<line x1="113.90" y1="422.99" x2="115.20" y2="422.99" stroke="#8c8c8c" stroke-width="0.5"/>
<line x1="113.90" y1="421.41" x2="115.20" y2="421.41" stroke="#8c8c8c" stroke-width="0.5"/>
<line x1="113.90" y1="420.08" x2="115.20" y2="420.08" stroke="#8c8c8c" stroke-width="0.5"/>
<line x1="113.90" y1="418.93" x2="115.20" y2="418.93" stroke="#8c8c8c" stroke-width="0.5"/>
<line x1="113.90" y1="417.91" x2="115.20" y2="417.91" stroke="#8c8c8c" stroke-width="0.5"/>
<line x1="113.90" y1="441.31" x2="115.20" y2="441.31" stroke="#8c8c8c" stroke-width="0.5"/>
<line x1="113.90" y1="439.98" x2="115.20" y2="439.98" stroke="#8c8c8c" stroke-width="0.5"/>
<line x1="113.90" y1="438.83" x2="115.20" y2="438.83" stroke="#8c8c8c" stroke-width="0.5"/>
<line x1="113.90" y1="437.81" x2="115.20" y2="437.81" stroke="#8c8c8c" stroke-width="0.5"/>
<line x1="115.20" y1="377.30" x2="186.00" y2="377.30" stroke="#a2a2a2" stroke-width="0.75"/>
<line x1="115.20" y1="397.20" x2="186.00" y2="397.20" stroke="#a2a2a2" stroke-width="0.75"/>
<line x1="115.20" y1="417.10" x2="186.00" y2="417.10" stroke="#a2a2a2" stroke-width="0.75"/>
<line x1="115.20" y1="436.90" x2="186.00" y2="436.90" stroke="#a2a2a2" stroke-width="0.75"/>
<line x1="115.20" y1="442.70" x2="186.00" y2="442.70" stroke="#8c8c8c" stroke-width="0.9"/>
<line x1="184.50" y1="442.70" x2="184.50" y2="445.10" stroke="#8c8c8c" stroke-width="0.8"/>
<line x1="176.44" y1="442.70" x2="176.44" y2="443.90" stroke="#8c8c8c" stroke-width="0.5"/>
<line x1="178.47" y1="442.70" x2="178.47" y2="443.90" stroke="#8c8c8c" stroke-width="0.5"/>
<line x1="179.91" y1="442.70" x2="179.91" y2="443.90" stroke="#8c8c8c" stroke-width="0.5"/>
<line x1="181.03" y1="442.70" x2="181.03" y2="443.90" stroke="#8c8c8c" stroke-width="0.5"/>
<line x1="181.94" y1="442.70" x2="181.94" y2="443.90" stroke="#8c8c8c" stroke-width="0.5"/>
<line x1="182.71" y1="442.70" x2="182.71" y2="443.90" stroke="#8c8c8c" stroke-width="0.5"/>
<line x1="183.38" y1="442.70" x2="183.38" y2="443.90" stroke="#8c8c8c" stroke-width="0.5"/>
<line x1="183.97" y1="442.70" x2="183.97" y2="443.90" stroke="#8c8c8c" stroke-width="0.5"/>
<line x1="172.97" y1="442.70" x2="172.97" y2="445.10" stroke="#8c8c8c" stroke-width="0.8"/>
<line x1="164.91" y1="442.70" x2="164.91" y2="443.90" stroke="#8c8c8c" stroke-width="0.5"/>
<line x1="166.94" y1="442.70" x2="166.94" y2="443.90" stroke="#8c8c8c" stroke-width="0.5"/>
<line x1="168.38" y1="442.70" x2="168.38" y2="443.90" stroke="#8c8c8c" stroke-width="0.5"/>
<line x1="169.50" y1="442.70" x2="169.50" y2="443.90" stroke="#8c8c8c" stroke-width="0.5"/>
<line x1="170.41" y1="442.70" x2="170.41" y2="443.90" stroke="#8c8c8c" stroke-width="0.5"/>
<line x1="171.18" y1="442.70" x2="171.18" y2="443.90" stroke="#8c8c8c" stroke-width="0.5"/>
<line x1="171.85" y1="442.70" x2="171.85" y2="443.90" stroke="#8c8c8c" stroke-width="0.5"/>
<line x1="172.44" y1="442.70" x2="172.44" y2="443.90" stroke="#8c8c8c" stroke-width="0.5"/>
<line x1="161.44" y1="442.70" x2="161.44" y2="445.10" stroke="#8c8c8c" stroke-width="0.8"/>
<line x1="153.38" y1="442.70" x2="153.38" y2="443.90" stroke="#8c8c8c" stroke-width="0.5"/>
<line x1="155.41" y1="442.70" x2="155.41" y2="443.90" stroke="#8c8c8c" stroke-width="0.5"/>
<line x1="156.85" y1="442.70" x2="156.85" y2="443.90" stroke="#8c8c8c" stroke-width="0.5"/>
<line x1="157.97" y1="442.70" x2="157.97" y2="443.90" stroke="#8c8c8c" stroke-width="0.5"/>
<line x1="158.88" y1="442.70" x2="158.88" y2="443.90" stroke="#8c8c8c" stroke-width="0.5"/>
<line x1="159.65" y1="442.70" x2="159.65" y2="443.90" stroke="#8c8c8c" stroke-width="0.5"/>
<line x1="160.32" y1="442.70" x2="160.32" y2="443.90" stroke="#8c8c8c" stroke-width="0.5"/>
<line x1="160.91" y1="442.70" x2="160.91" y2="443.90" stroke="#8c8c8c" stroke-width="0.5"/>
<line x1="149.91" y1="442.70" x2="149.91" y2="445.10" stroke="#8c8c8c" stroke-width="0.8"/>
<line x1="141.85" y1="442.70" x2="141.85" y2="443.90" stroke="#8c8c8c" stroke-width="0.5"/>
<line x1="143.88" y1="442.70" x2="143.88" y2="443.90" stroke="#8c8c8c" stroke-width="0.5"/>
<line x1="145.32" y1="442.70" x2="145.32" y2="443.90" stroke="#8c8c8c" stroke-width="0.5"/>
<line x1="146.44" y1="442.70" x2="146.44" y2="443.90" stroke="#8c8c8c" stroke-width="0.5"/>
<line x1="147.35" y1="442.70" x2="147.35" y2="443.90" stroke="#8c8c8c" stroke-width="0.5"/>
<line x1="148.12" y1="442.70" x2="148.12" y2="443.90" stroke="#8c8c8c" stroke-width="0.5"/>
<line x1="148.79" y1="442.70" x2="148.79" y2="443.90" stroke="#8c8c8c" stroke-width="0.5"/>
<line x1="149.38" y1="442.70" x2="149.38" y2="443.90" stroke="#8c8c8c" stroke-width="0.5"/>
<line x1="138.38" y1="442.70" x2="138.38" y2="445.10" stroke="#8c8c8c" stroke-width="0.8"/>
<line x1="130.32" y1="442.70" x2="130.32" y2="443.90" stroke="#8c8c8c" stroke-width="0.5"/>
<line x1="132.35" y1="442.70" x2="132.35" y2="443.90" stroke="#8c8c8c" stroke-width="0.5"/>
<line x1="133.79" y1="442.70" x2="133.79" y2="443.90" stroke="#8c8c8c" stroke-width="0.5"/>
<line x1="134.91" y1="442.70" x2="134.91" y2="443.90" stroke="#8c8c8c" stroke-width="0.5"/>
<line x1="135.82" y1="442.70" x2="135.82" y2="443.90" stroke="#8c8c8c" stroke-width="0.5"/>
<line x1="136.59" y1="442.70" x2="136.59" y2="443.90" stroke="#8c8c8c" stroke-width="0.5"/>
<line x1="137.26" y1="442.70" x2="137.26" y2="443.90" stroke="#8c8c8c" stroke-width="0.5"/>
<line x1="137.85" y1="442.70" x2="137.85" y2="443.90" stroke="#8c8c8c" stroke-width="0.5"/>
<line x1="126.85" y1="442.70" x2="126.85" y2="445.10" stroke="#8c8c8c" stroke-width="0.8"/>
<line x1="118.79" y1="442.70" x2="118.79" y2="443.90" stroke="#8c8c8c" stroke-width="0.5"/>
<line x1="120.82" y1="442.70" x2="120.82" y2="443.90" stroke="#8c8c8c" stroke-width="0.5"/>
<line x1="122.26" y1="442.70" x2="122.26" y2="443.90" stroke="#8c8c8c" stroke-width="0.5"/>
<line x1="123.38" y1="442.70" x2="123.38" y2="443.90" stroke="#8c8c8c" stroke-width="0.5"/>
<line x1="124.29" y1="442.70" x2="124.29" y2="443.90" stroke="#8c8c8c" stroke-width="0.5"/>
<line x1="125.06" y1="442.70" x2="125.06" y2="443.90" stroke="#8c8c8c" stroke-width="0.5"/>
<line x1="125.73" y1="442.70" x2="125.73" y2="443.90" stroke="#8c8c8c" stroke-width="0.5"/>
<line x1="126.32" y1="442.70" x2="126.32" y2="443.90" stroke="#8c8c8c" stroke-width="0.5"/>
<line x1="115.32" y1="442.70" x2="115.32" y2="445.10" stroke="#8c8c8c" stroke-width="0.8"/>
<text x="115.42" y="449.60" font-size="6.6" text-anchor="end" fill="#333" stroke="#333" stroke-width="0.08" transform="rotate(-45 115.42 447.30)">0.00001</text>
<text x="126.95" y="449.60" font-size="6.6" text-anchor="end" fill="#333" stroke="#333" stroke-width="0.08" transform="rotate(-45 126.95 447.30)">0.0001</text>
<text x="138.48" y="449.60" font-size="6.6" text-anchor="end" fill="#333" stroke="#333" stroke-width="0.08" transform="rotate(-45 138.48 447.30)">0.001</text>
<text x="150.01" y="449.60" font-size="6.6" text-anchor="end" fill="#333" stroke="#333" stroke-width="0.08" transform="rotate(-45 150.01 447.30)">0.01</text>
<text x="161.54" y="449.60" font-size="6.6" text-anchor="end" fill="#333" stroke="#333" stroke-width="0.08" transform="rotate(-45 161.54 447.30)">0.1</text>
<text x="173.07" y="449.60" font-size="6.6" text-anchor="end" fill="#333" stroke="#333" stroke-width="0.08" transform="rotate(-45 173.07 447.30)">1</text>
<text x="184.60" y="449.60" font-size="6.6" text-anchor="end" fill="#333" stroke="#333" stroke-width="0.08" transform="rotate(-45 184.60 447.30)">10</text>
<polyline points="155.60,378.80 161.30,379.00 167.10,379.00 172.90,379.00 178.70,379.20 184.40,380.00" fill="none" stroke="#fbb36c" stroke-width="0.8" stroke-linejoin="round"/>
<circle cx="155.60" cy="378.80" r="1.9" fill="#fbb36c"/>
<circle cx="161.30" cy="379.00" r="1.9" fill="#fbb36c"/>
<circle cx="167.10" cy="379.00" r="1.9" fill="#fbb36c"/>
<circle cx="172.90" cy="379.00" r="1.9" fill="#fbb36c"/>
<circle cx="178.70" cy="379.20" r="1.9" fill="#fbb36c"/>
<circle cx="184.40" cy="380.00" r="1.9" fill="#fbb36c"/>
<polyline points="155.60,385.00 161.30,386.30 167.10,386.90 172.90,388.80 178.70,388.80 184.40,391.70" fill="none" stroke="#f9a03f" stroke-width="0.8" stroke-linejoin="round"/>
<circle cx="155.60" cy="385.00" r="1.9" fill="#f9a03f"/>
<circle cx="161.30" cy="386.30" r="1.9" fill="#f9a03f"/>
<circle cx="167.10" cy="386.90" r="1.9" fill="#f9a03f"/>
<circle cx="172.90" cy="388.80" r="1.9" fill="#f9a03f"/>
<circle cx="178.70" cy="388.80" r="1.9" fill="#f9a03f"/>
<circle cx="184.40" cy="391.70" r="1.9" fill="#f9a03f"/>
<polyline points="155.60,407.50 161.30,407.10 167.10,406.90 172.90,409.40 178.70,409.40 184.40,412.30" fill="none" stroke="#f5861f" stroke-width="0.8" stroke-linejoin="round"/>
<circle cx="155.60" cy="407.50" r="1.9" fill="#f5861f"/>
<circle cx="161.30" cy="407.10" r="1.9" fill="#f5861f"/>
<circle cx="167.10" cy="406.90" r="1.9" fill="#f5861f"/>
<circle cx="172.90" cy="409.40" r="1.9" fill="#f5861f"/>
<circle cx="178.70" cy="409.40" r="1.9" fill="#f5861f"/>
<circle cx="184.40" cy="412.30" r="1.9" fill="#f5861f"/>
<line x1="155.60" y1="405.00" x2="155.60" y2="410.00" stroke="#f5861f" stroke-width="0.6"/>
<line x1="154.40" y1="405.00" x2="156.80" y2="405.00" stroke="#f5861f" stroke-width="0.6"/>
<line x1="154.40" y1="410.00" x2="156.80" y2="410.00" stroke="#f5861f" stroke-width="0.6"/>
<line x1="178.70" y1="406.90" x2="178.70" y2="411.90" stroke="#f5861f" stroke-width="0.6"/>
<line x1="177.50" y1="406.90" x2="179.90" y2="406.90" stroke="#f5861f" stroke-width="0.6"/>
<line x1="177.50" y1="411.90" x2="179.90" y2="411.90" stroke="#f5861f" stroke-width="0.6"/>
<polyline points="155.60,408.50 161.30,407.50 167.10,408.00 172.90,409.80 178.70,410.50 184.40,413.30" fill="none" stroke="#ec5b1c" stroke-width="0.8" stroke-linejoin="round"/>
<circle cx="155.60" cy="408.50" r="1.9" fill="#ec5b1c"/>
<circle cx="161.30" cy="407.50" r="1.9" fill="#ec5b1c"/>
<circle cx="167.10" cy="408.00" r="1.9" fill="#ec5b1c"/>
<circle cx="172.90" cy="409.80" r="1.9" fill="#ec5b1c"/>
<circle cx="178.70" cy="410.50" r="1.9" fill="#ec5b1c"/>
<circle cx="184.40" cy="413.30" r="1.9" fill="#ec5b1c"/>
<line x1="184.40" y1="410.80" x2="184.40" y2="415.80" stroke="#ec5b1c" stroke-width="0.6"/>
<line x1="183.20" y1="410.80" x2="185.60" y2="410.80" stroke="#ec5b1c" stroke-width="0.6"/>
<line x1="183.20" y1="415.80" x2="185.60" y2="415.80" stroke="#ec5b1c" stroke-width="0.6"/>
<polyline points="155.60,434.80 161.30,434.40 167.10,435.40 172.90,436.30 178.70,436.30 184.40,433.50" fill="none" stroke="#b9561a" stroke-width="0.8" stroke-linejoin="round"/>
<circle cx="155.60" cy="434.80" r="1.9" fill="#b9561a"/>
<circle cx="161.30" cy="434.40" r="1.9" fill="#b9561a"/>
<circle cx="167.10" cy="435.40" r="1.9" fill="#b9561a"/>
<circle cx="172.90" cy="436.30" r="1.9" fill="#b9561a"/>
<circle cx="178.70" cy="436.30" r="1.9" fill="#b9561a"/>
<circle cx="184.40" cy="433.50" r="1.9" fill="#b9561a"/>
<line x1="155.60" y1="430.80" x2="155.60" y2="438.80" stroke="#b9561a" stroke-width="0.6"/>
<line x1="154.40" y1="430.80" x2="156.80" y2="430.80" stroke="#b9561a" stroke-width="0.6"/>
<line x1="154.40" y1="438.80" x2="156.80" y2="438.80" stroke="#b9561a" stroke-width="0.6"/>
<line x1="161.30" y1="431.90" x2="161.30" y2="436.90" stroke="#b9561a" stroke-width="0.6"/>
<line x1="160.10" y1="431.90" x2="162.50" y2="431.90" stroke="#b9561a" stroke-width="0.6"/>
<line x1="160.10" y1="436.90" x2="162.50" y2="436.90" stroke="#b9561a" stroke-width="0.6"/>
<line x1="167.10" y1="432.40" x2="167.10" y2="438.40" stroke="#b9561a" stroke-width="0.6"/>
<line x1="165.90" y1="432.40" x2="168.30" y2="432.40" stroke="#b9561a" stroke-width="0.6"/>
<line x1="165.90" y1="438.40" x2="168.30" y2="438.40" stroke="#b9561a" stroke-width="0.6"/>
<line x1="178.70" y1="432.30" x2="178.70" y2="440.30" stroke="#b9561a" stroke-width="0.6"/>
<line x1="177.50" y1="432.30" x2="179.90" y2="432.30" stroke="#b9561a" stroke-width="0.6"/>
<line x1="177.50" y1="440.30" x2="179.90" y2="440.30" stroke="#b9561a" stroke-width="0.6"/>
<line x1="184.40" y1="431.50" x2="184.40" y2="435.50" stroke="#b9561a" stroke-width="0.6"/>
<line x1="183.20" y1="431.50" x2="185.60" y2="431.50" stroke="#b9561a" stroke-width="0.6"/>
<line x1="183.20" y1="435.50" x2="185.60" y2="435.50" stroke="#b9561a" stroke-width="0.6"/>
<polyline points="121.00,377.30 127.30,377.30 132.90,384.00 138.80,407.90 144.60,437.30" fill="none" stroke="#9ea2a8" stroke-width="0.8" stroke-linejoin="round"/>
<circle cx="121.00" cy="377.30" r="1.9" fill="#9ea2a8"/>
<circle cx="127.30" cy="377.30" r="1.9" fill="#9ea2a8"/>
<circle cx="132.90" cy="384.00" r="1.9" fill="#9ea2a8"/>
<circle cx="138.80" cy="407.90" r="1.9" fill="#9ea2a8"/>
<circle cx="144.60" cy="437.30" r="1.9" fill="#9ea2a8"/>
<polyline points="155.60,377.70 161.30,377.70 167.10,377.70 172.90,377.70 178.70,377.70 184.40,378.70" fill="none" stroke="#141414" stroke-width="0.8" stroke-linejoin="round"/>
<circle cx="155.60" cy="377.70" r="1.9" fill="#141414"/>
<circle cx="161.30" cy="377.70" r="1.9" fill="#141414"/>
<circle cx="167.10" cy="377.70" r="1.9" fill="#141414"/>
<circle cx="172.90" cy="377.70" r="1.9" fill="#141414"/>
<circle cx="178.70" cy="377.70" r="1.9" fill="#141414"/>
<circle cx="184.40" cy="378.70" r="1.9" fill="#141414"/>
<line x1="208.30" y1="374.50" x2="208.30" y2="442.70" stroke="#8c8c8c" stroke-width="0.9"/>
<line x1="205.70" y1="377.30" x2="208.30" y2="377.30" stroke="#8c8c8c" stroke-width="0.9"/>
<text x="205.00" y="379.57" font-size="6.4" text-anchor="end" stroke="#333" stroke-width="0.12" fill="#333">100</text>
<line x1="205.70" y1="396.90" x2="208.30" y2="396.90" stroke="#8c8c8c" stroke-width="0.9"/>
<text x="205.00" y="399.17" font-size="6.4" text-anchor="end" stroke="#333" stroke-width="0.12" fill="#333">10</text>
<line x1="205.70" y1="417.10" x2="208.30" y2="417.10" stroke="#8c8c8c" stroke-width="0.9"/>
<text x="205.00" y="419.37" font-size="6.4" text-anchor="end" stroke="#333" stroke-width="0.12" fill="#333">1</text>
<line x1="205.70" y1="436.90" x2="208.30" y2="436.90" stroke="#8c8c8c" stroke-width="0.9"/>
<text x="205.00" y="439.17" font-size="6.4" text-anchor="end" stroke="#333" stroke-width="0.12" fill="#333">0.1</text>
<line x1="207.00" y1="391.00" x2="208.30" y2="391.00" stroke="#8c8c8c" stroke-width="0.5"/>
<line x1="207.00" y1="387.55" x2="208.30" y2="387.55" stroke="#8c8c8c" stroke-width="0.5"/>
<line x1="207.00" y1="385.10" x2="208.30" y2="385.10" stroke="#8c8c8c" stroke-width="0.5"/>
<line x1="207.00" y1="383.20" x2="208.30" y2="383.20" stroke="#8c8c8c" stroke-width="0.5"/>
<line x1="207.00" y1="381.65" x2="208.30" y2="381.65" stroke="#8c8c8c" stroke-width="0.5"/>
<line x1="207.00" y1="380.34" x2="208.30" y2="380.34" stroke="#8c8c8c" stroke-width="0.5"/>
<line x1="207.00" y1="379.20" x2="208.30" y2="379.20" stroke="#8c8c8c" stroke-width="0.5"/>
<line x1="207.00" y1="378.20" x2="208.30" y2="378.20" stroke="#8c8c8c" stroke-width="0.5"/>
<line x1="207.00" y1="411.20" x2="208.30" y2="411.20" stroke="#8c8c8c" stroke-width="0.5"/>
<line x1="207.00" y1="407.75" x2="208.30" y2="407.75" stroke="#8c8c8c" stroke-width="0.5"/>
<line x1="207.00" y1="405.30" x2="208.30" y2="405.30" stroke="#8c8c8c" stroke-width="0.5"/>
<line x1="207.00" y1="403.40" x2="208.30" y2="403.40" stroke="#8c8c8c" stroke-width="0.5"/>
<line x1="207.00" y1="401.85" x2="208.30" y2="401.85" stroke="#8c8c8c" stroke-width="0.5"/>
<line x1="207.00" y1="400.54" x2="208.30" y2="400.54" stroke="#8c8c8c" stroke-width="0.5"/>
<line x1="207.00" y1="399.40" x2="208.30" y2="399.40" stroke="#8c8c8c" stroke-width="0.5"/>
<line x1="207.00" y1="398.40" x2="208.30" y2="398.40" stroke="#8c8c8c" stroke-width="0.5"/>
<line x1="207.00" y1="431.00" x2="208.30" y2="431.00" stroke="#8c8c8c" stroke-width="0.5"/>
<line x1="207.00" y1="427.55" x2="208.30" y2="427.55" stroke="#8c8c8c" stroke-width="0.5"/>
<line x1="207.00" y1="425.10" x2="208.30" y2="425.10" stroke="#8c8c8c" stroke-width="0.5"/>
<line x1="207.00" y1="423.20" x2="208.30" y2="423.20" stroke="#8c8c8c" stroke-width="0.5"/>
<line x1="207.00" y1="421.65" x2="208.30" y2="421.65" stroke="#8c8c8c" stroke-width="0.5"/>
<line x1="207.00" y1="420.34" x2="208.30" y2="420.34" stroke="#8c8c8c" stroke-width="0.5"/>
<line x1="207.00" y1="419.20" x2="208.30" y2="419.20" stroke="#8c8c8c" stroke-width="0.5"/>
<line x1="207.00" y1="418.20" x2="208.30" y2="418.20" stroke="#8c8c8c" stroke-width="0.5"/>
<line x1="207.00" y1="441.25" x2="208.30" y2="441.25" stroke="#8c8c8c" stroke-width="0.5"/>
<line x1="207.00" y1="439.94" x2="208.30" y2="439.94" stroke="#8c8c8c" stroke-width="0.5"/>
<line x1="207.00" y1="438.80" x2="208.30" y2="438.80" stroke="#8c8c8c" stroke-width="0.5"/>
<line x1="207.00" y1="437.80" x2="208.30" y2="437.80" stroke="#8c8c8c" stroke-width="0.5"/>
<line x1="208.30" y1="377.30" x2="278.00" y2="377.30" stroke="#a2a2a2" stroke-width="0.75"/>
<line x1="208.30" y1="396.90" x2="278.00" y2="396.90" stroke="#a2a2a2" stroke-width="0.75"/>
<line x1="208.30" y1="417.10" x2="278.00" y2="417.10" stroke="#a2a2a2" stroke-width="0.75"/>
<line x1="208.30" y1="436.90" x2="278.00" y2="436.90" stroke="#a2a2a2" stroke-width="0.75"/>
<line x1="208.30" y1="442.70" x2="278.00" y2="442.70" stroke="#8c8c8c" stroke-width="0.9"/>
<line x1="276.00" y1="442.70" x2="276.00" y2="445.10" stroke="#8c8c8c" stroke-width="0.8"/>
<line x1="268.12" y1="442.70" x2="268.12" y2="443.90" stroke="#8c8c8c" stroke-width="0.5"/>
<line x1="270.10" y1="442.70" x2="270.10" y2="443.90" stroke="#8c8c8c" stroke-width="0.5"/>
<line x1="271.51" y1="442.70" x2="271.51" y2="443.90" stroke="#8c8c8c" stroke-width="0.5"/>
<line x1="272.60" y1="442.70" x2="272.60" y2="443.90" stroke="#8c8c8c" stroke-width="0.5"/>
<line x1="273.50" y1="442.70" x2="273.50" y2="443.90" stroke="#8c8c8c" stroke-width="0.5"/>
<line x1="274.25" y1="442.70" x2="274.25" y2="443.90" stroke="#8c8c8c" stroke-width="0.5"/>
<line x1="274.91" y1="442.70" x2="274.91" y2="443.90" stroke="#8c8c8c" stroke-width="0.5"/>
<line x1="275.48" y1="442.70" x2="275.48" y2="443.90" stroke="#8c8c8c" stroke-width="0.5"/>
<line x1="264.72" y1="442.70" x2="264.72" y2="445.10" stroke="#8c8c8c" stroke-width="0.8"/>
<line x1="256.84" y1="442.70" x2="256.84" y2="443.90" stroke="#8c8c8c" stroke-width="0.5"/>
<line x1="258.82" y1="442.70" x2="258.82" y2="443.90" stroke="#8c8c8c" stroke-width="0.5"/>
<line x1="260.23" y1="442.70" x2="260.23" y2="443.90" stroke="#8c8c8c" stroke-width="0.5"/>
<line x1="261.32" y1="442.70" x2="261.32" y2="443.90" stroke="#8c8c8c" stroke-width="0.5"/>
<line x1="262.22" y1="442.70" x2="262.22" y2="443.90" stroke="#8c8c8c" stroke-width="0.5"/>
<line x1="262.97" y1="442.70" x2="262.97" y2="443.90" stroke="#8c8c8c" stroke-width="0.5"/>
<line x1="263.63" y1="442.70" x2="263.63" y2="443.90" stroke="#8c8c8c" stroke-width="0.5"/>
<line x1="264.20" y1="442.70" x2="264.20" y2="443.90" stroke="#8c8c8c" stroke-width="0.5"/>
<line x1="253.44" y1="442.70" x2="253.44" y2="445.10" stroke="#8c8c8c" stroke-width="0.8"/>
<line x1="245.56" y1="442.70" x2="245.56" y2="443.90" stroke="#8c8c8c" stroke-width="0.5"/>
<line x1="247.54" y1="442.70" x2="247.54" y2="443.90" stroke="#8c8c8c" stroke-width="0.5"/>
<line x1="248.95" y1="442.70" x2="248.95" y2="443.90" stroke="#8c8c8c" stroke-width="0.5"/>
<line x1="250.04" y1="442.70" x2="250.04" y2="443.90" stroke="#8c8c8c" stroke-width="0.5"/>
<line x1="250.94" y1="442.70" x2="250.94" y2="443.90" stroke="#8c8c8c" stroke-width="0.5"/>
<line x1="251.69" y1="442.70" x2="251.69" y2="443.90" stroke="#8c8c8c" stroke-width="0.5"/>
<line x1="252.35" y1="442.70" x2="252.35" y2="443.90" stroke="#8c8c8c" stroke-width="0.5"/>
<line x1="252.92" y1="442.70" x2="252.92" y2="443.90" stroke="#8c8c8c" stroke-width="0.5"/>
<line x1="242.16" y1="442.70" x2="242.16" y2="445.10" stroke="#8c8c8c" stroke-width="0.8"/>
<line x1="234.28" y1="442.70" x2="234.28" y2="443.90" stroke="#8c8c8c" stroke-width="0.5"/>
<line x1="236.26" y1="442.70" x2="236.26" y2="443.90" stroke="#8c8c8c" stroke-width="0.5"/>
<line x1="237.67" y1="442.70" x2="237.67" y2="443.90" stroke="#8c8c8c" stroke-width="0.5"/>
<line x1="238.76" y1="442.70" x2="238.76" y2="443.90" stroke="#8c8c8c" stroke-width="0.5"/>
<line x1="239.66" y1="442.70" x2="239.66" y2="443.90" stroke="#8c8c8c" stroke-width="0.5"/>
<line x1="240.41" y1="442.70" x2="240.41" y2="443.90" stroke="#8c8c8c" stroke-width="0.5"/>
<line x1="241.07" y1="442.70" x2="241.07" y2="443.90" stroke="#8c8c8c" stroke-width="0.5"/>
<line x1="241.64" y1="442.70" x2="241.64" y2="443.90" stroke="#8c8c8c" stroke-width="0.5"/>
<line x1="230.88" y1="442.70" x2="230.88" y2="445.10" stroke="#8c8c8c" stroke-width="0.8"/>
<line x1="223.00" y1="442.70" x2="223.00" y2="443.90" stroke="#8c8c8c" stroke-width="0.5"/>
<line x1="224.98" y1="442.70" x2="224.98" y2="443.90" stroke="#8c8c8c" stroke-width="0.5"/>
<line x1="226.39" y1="442.70" x2="226.39" y2="443.90" stroke="#8c8c8c" stroke-width="0.5"/>
<line x1="227.48" y1="442.70" x2="227.48" y2="443.90" stroke="#8c8c8c" stroke-width="0.5"/>
<line x1="228.38" y1="442.70" x2="228.38" y2="443.90" stroke="#8c8c8c" stroke-width="0.5"/>
<line x1="229.13" y1="442.70" x2="229.13" y2="443.90" stroke="#8c8c8c" stroke-width="0.5"/>
<line x1="229.79" y1="442.70" x2="229.79" y2="443.90" stroke="#8c8c8c" stroke-width="0.5"/>
<line x1="230.36" y1="442.70" x2="230.36" y2="443.90" stroke="#8c8c8c" stroke-width="0.5"/>
<line x1="219.60" y1="442.70" x2="219.60" y2="445.10" stroke="#8c8c8c" stroke-width="0.8"/>
<line x1="211.72" y1="442.70" x2="211.72" y2="443.90" stroke="#8c8c8c" stroke-width="0.5"/>
<line x1="213.70" y1="442.70" x2="213.70" y2="443.90" stroke="#8c8c8c" stroke-width="0.5"/>
<line x1="215.11" y1="442.70" x2="215.11" y2="443.90" stroke="#8c8c8c" stroke-width="0.5"/>
<line x1="216.20" y1="442.70" x2="216.20" y2="443.90" stroke="#8c8c8c" stroke-width="0.5"/>
<line x1="217.10" y1="442.70" x2="217.10" y2="443.90" stroke="#8c8c8c" stroke-width="0.5"/>
<line x1="217.85" y1="442.70" x2="217.85" y2="443.90" stroke="#8c8c8c" stroke-width="0.5"/>
<line x1="218.51" y1="442.70" x2="218.51" y2="443.90" stroke="#8c8c8c" stroke-width="0.5"/>
<line x1="219.08" y1="442.70" x2="219.08" y2="443.90" stroke="#8c8c8c" stroke-width="0.5"/>
<line x1="208.32" y1="442.70" x2="208.32" y2="445.10" stroke="#8c8c8c" stroke-width="0.8"/>
<text x="208.42" y="449.60" font-size="6.6" text-anchor="end" fill="#333" stroke="#333" stroke-width="0.08" transform="rotate(-45 208.42 447.30)">0.00001</text>
<text x="219.70" y="449.60" font-size="6.6" text-anchor="end" fill="#333" stroke="#333" stroke-width="0.08" transform="rotate(-45 219.70 447.30)">0.0001</text>
<text x="230.98" y="449.60" font-size="6.6" text-anchor="end" fill="#333" stroke="#333" stroke-width="0.08" transform="rotate(-45 230.98 447.30)">0.001</text>
<text x="242.26" y="449.60" font-size="6.6" text-anchor="end" fill="#333" stroke="#333" stroke-width="0.08" transform="rotate(-45 242.26 447.30)">0.01</text>
<text x="253.54" y="449.60" font-size="6.6" text-anchor="end" fill="#333" stroke="#333" stroke-width="0.08" transform="rotate(-45 253.54 447.30)">0.1</text>
<text x="264.82" y="449.60" font-size="6.6" text-anchor="end" fill="#333" stroke="#333" stroke-width="0.08" transform="rotate(-45 264.82 447.30)">1</text>
<text x="276.10" y="449.60" font-size="6.6" text-anchor="end" fill="#333" stroke="#333" stroke-width="0.08" transform="rotate(-45 276.10 447.30)">10</text>
<polyline points="246.70,384.40 252.50,377.70 258.30,381.20 264.00,378.70 269.80,378.70 276.00,411.30" fill="none" stroke="#fbb36c" stroke-width="0.8" stroke-linejoin="round"/>
<circle cx="246.70" cy="384.40" r="1.9" fill="#fbb36c"/>
<circle cx="252.50" cy="377.70" r="1.9" fill="#fbb36c"/>
<circle cx="258.30" cy="381.20" r="1.9" fill="#fbb36c"/>
<circle cx="264.00" cy="378.70" r="1.9" fill="#fbb36c"/>
<circle cx="269.80" cy="378.70" r="1.9" fill="#fbb36c"/>
<circle cx="276.00" cy="411.30" r="1.9" fill="#fbb36c"/>
<line x1="246.70" y1="381.40" x2="246.70" y2="387.40" stroke="#fbb36c" stroke-width="0.6"/>
<line x1="245.50" y1="381.40" x2="247.90" y2="381.40" stroke="#fbb36c" stroke-width="0.6"/>
<line x1="245.50" y1="387.40" x2="247.90" y2="387.40" stroke="#fbb36c" stroke-width="0.6"/>
<line x1="258.30" y1="378.20" x2="258.30" y2="384.20" stroke="#fbb36c" stroke-width="0.6"/>
<line x1="257.10" y1="378.20" x2="259.50" y2="378.20" stroke="#fbb36c" stroke-width="0.6"/>
<line x1="257.10" y1="384.20" x2="259.50" y2="384.20" stroke="#fbb36c" stroke-width="0.6"/>
<line x1="276.00" y1="407.30" x2="276.00" y2="415.30" stroke="#fbb36c" stroke-width="0.6"/>
<line x1="274.80" y1="407.30" x2="277.20" y2="407.30" stroke="#fbb36c" stroke-width="0.6"/>
<line x1="274.80" y1="415.30" x2="277.20" y2="415.30" stroke="#fbb36c" stroke-width="0.6"/>
<polyline points="246.70,393.70 252.50,394.00 258.30,398.50 264.00,394.00 269.80,398.50 276.00,421.90" fill="none" stroke="#f9a03f" stroke-width="0.8" stroke-linejoin="round"/>
<circle cx="246.70" cy="393.70" r="1.9" fill="#f9a03f"/>
<circle cx="252.50" cy="394.00" r="1.9" fill="#f9a03f"/>
<circle cx="258.30" cy="398.50" r="1.9" fill="#f9a03f"/>
<circle cx="264.00" cy="394.00" r="1.9" fill="#f9a03f"/>
<circle cx="269.80" cy="398.50" r="1.9" fill="#f9a03f"/>
<circle cx="276.00" cy="421.90" r="1.9" fill="#f9a03f"/>
<line x1="246.70" y1="386.70" x2="246.70" y2="400.70" stroke="#f9a03f" stroke-width="0.6"/>
<line x1="245.50" y1="386.70" x2="247.90" y2="386.70" stroke="#f9a03f" stroke-width="0.6"/>
<line x1="245.50" y1="400.70" x2="247.90" y2="400.70" stroke="#f9a03f" stroke-width="0.6"/>
<line x1="252.50" y1="382.00" x2="252.50" y2="406.00" stroke="#f9a03f" stroke-width="0.6"/>
<line x1="251.30" y1="382.00" x2="253.70" y2="382.00" stroke="#f9a03f" stroke-width="0.6"/>
<line x1="251.30" y1="406.00" x2="253.70" y2="406.00" stroke="#f9a03f" stroke-width="0.6"/>
<line x1="258.30" y1="390.50" x2="258.30" y2="406.50" stroke="#f9a03f" stroke-width="0.6"/>
<line x1="257.10" y1="390.50" x2="259.50" y2="390.50" stroke="#f9a03f" stroke-width="0.6"/>
<line x1="257.10" y1="406.50" x2="259.50" y2="406.50" stroke="#f9a03f" stroke-width="0.6"/>
<line x1="264.00" y1="382.00" x2="264.00" y2="406.00" stroke="#f9a03f" stroke-width="0.6"/>
<line x1="262.80" y1="382.00" x2="265.20" y2="382.00" stroke="#f9a03f" stroke-width="0.6"/>
<line x1="262.80" y1="406.00" x2="265.20" y2="406.00" stroke="#f9a03f" stroke-width="0.6"/>
<line x1="269.80" y1="392.50" x2="269.80" y2="404.50" stroke="#f9a03f" stroke-width="0.6"/>
<line x1="268.60" y1="392.50" x2="271.00" y2="392.50" stroke="#f9a03f" stroke-width="0.6"/>
<line x1="268.60" y1="404.50" x2="271.00" y2="404.50" stroke="#f9a03f" stroke-width="0.6"/>
<polyline points="246.70,413.30 252.50,413.30 258.30,413.30 264.00,413.30 269.80,412.30 276.00,422.90" fill="none" stroke="#f5861f" stroke-width="0.8" stroke-linejoin="round"/>
<circle cx="246.70" cy="413.30" r="1.9" fill="#f5861f"/>
<circle cx="252.50" cy="413.30" r="1.9" fill="#f5861f"/>
<circle cx="258.30" cy="413.30" r="1.9" fill="#f5861f"/>
<circle cx="264.00" cy="413.30" r="1.9" fill="#f5861f"/>
<circle cx="269.80" cy="412.30" r="1.9" fill="#f5861f"/>
<circle cx="276.00" cy="422.90" r="1.9" fill="#f5861f"/>
<polyline points="246.70,427.30 252.50,428.10 258.30,425.80 264.00,421.30 269.80,426.20 276.00,425.40" fill="none" stroke="#ec5b1c" stroke-width="0.8" stroke-linejoin="round"/>
<circle cx="246.70" cy="427.30" r="1.9" fill="#ec5b1c"/>
<circle cx="252.50" cy="428.10" r="1.9" fill="#ec5b1c"/>
<circle cx="258.30" cy="425.80" r="1.9" fill="#ec5b1c"/>
<circle cx="264.00" cy="421.30" r="1.9" fill="#ec5b1c"/>
<circle cx="269.80" cy="426.20" r="1.9" fill="#ec5b1c"/>
<circle cx="276.00" cy="425.40" r="1.9" fill="#ec5b1c"/>
<line x1="246.70" y1="422.30" x2="246.70" y2="432.30" stroke="#ec5b1c" stroke-width="0.6"/>
<line x1="245.50" y1="422.30" x2="247.90" y2="422.30" stroke="#ec5b1c" stroke-width="0.6"/>
<line x1="245.50" y1="432.30" x2="247.90" y2="432.30" stroke="#ec5b1c" stroke-width="0.6"/>
<line x1="252.50" y1="422.10" x2="252.50" y2="434.10" stroke="#ec5b1c" stroke-width="0.6"/>
<line x1="251.30" y1="422.10" x2="253.70" y2="422.10" stroke="#ec5b1c" stroke-width="0.6"/>
<line x1="251.30" y1="434.10" x2="253.70" y2="434.10" stroke="#ec5b1c" stroke-width="0.6"/>
<line x1="258.30" y1="419.80" x2="258.30" y2="431.80" stroke="#ec5b1c" stroke-width="0.6"/>
<line x1="257.10" y1="419.80" x2="259.50" y2="419.80" stroke="#ec5b1c" stroke-width="0.6"/>
<line x1="257.10" y1="431.80" x2="259.50" y2="431.80" stroke="#ec5b1c" stroke-width="0.6"/>
<polyline points="246.70,431.50 252.50,430.60 258.30,431.50 264.00,429.60 269.80,429.00 276.00,425.40" fill="none" stroke="#b9561a" stroke-width="0.8" stroke-linejoin="round"/>
<circle cx="246.70" cy="431.50" r="1.9" fill="#b9561a"/>
<circle cx="252.50" cy="430.60" r="1.9" fill="#b9561a"/>
<circle cx="258.30" cy="431.50" r="1.9" fill="#b9561a"/>
<circle cx="264.00" cy="429.60" r="1.9" fill="#b9561a"/>
<circle cx="269.80" cy="429.00" r="1.9" fill="#b9561a"/>
<circle cx="276.00" cy="425.40" r="1.9" fill="#b9561a"/>
<line x1="264.00" y1="427.10" x2="264.00" y2="432.10" stroke="#b9561a" stroke-width="0.6"/>
<line x1="262.80" y1="427.10" x2="265.20" y2="427.10" stroke="#b9561a" stroke-width="0.6"/>
<line x1="262.80" y1="432.10" x2="265.20" y2="432.10" stroke="#b9561a" stroke-width="0.6"/>
<polyline points="212.10,377.30 217.90,377.30 223.70,377.30 229.40,428.30 235.20,433.10" fill="none" stroke="#9ea2a8" stroke-width="0.8" stroke-linejoin="round"/>
<circle cx="212.10" cy="377.30" r="1.9" fill="#9ea2a8"/>
<circle cx="217.90" cy="377.30" r="1.9" fill="#9ea2a8"/>
<circle cx="223.70" cy="377.30" r="1.9" fill="#9ea2a8"/>
<circle cx="229.40" cy="428.30" r="1.9" fill="#9ea2a8"/>
<circle cx="235.20" cy="433.10" r="1.9" fill="#9ea2a8"/>
<line x1="235.20" y1="430.10" x2="235.20" y2="436.10" stroke="#9ea2a8" stroke-width="0.6"/>
<line x1="234.00" y1="430.10" x2="236.40" y2="430.10" stroke="#9ea2a8" stroke-width="0.6"/>
<line x1="234.00" y1="436.10" x2="236.40" y2="436.10" stroke="#9ea2a8" stroke-width="0.6"/>
<polyline points="246.70,376.20 252.50,376.80 258.30,376.20 264.00,376.80 269.80,376.20 276.00,396.30" fill="none" stroke="#141414" stroke-width="0.8" stroke-linejoin="round"/>
<circle cx="246.70" cy="376.20" r="1.9" fill="#141414"/>
<circle cx="252.50" cy="376.80" r="1.9" fill="#141414"/>
<circle cx="258.30" cy="376.20" r="1.9" fill="#141414"/>
<circle cx="264.00" cy="376.80" r="1.9" fill="#141414"/>
<circle cx="269.80" cy="376.20" r="1.9" fill="#141414"/>
<circle cx="276.00" cy="396.30" r="1.9" fill="#141414"/>
<line x1="276.00" y1="387.30" x2="276.00" y2="405.30" stroke="#141414" stroke-width="0.6"/>
<line x1="274.80" y1="387.30" x2="277.20" y2="387.30" stroke="#141414" stroke-width="0.6"/>
<line x1="274.80" y1="405.30" x2="277.20" y2="405.30" stroke="#141414" stroke-width="0.6"/>
<line x1="299.20" y1="374.00" x2="299.20" y2="442.80" stroke="#8c8c8c" stroke-width="0.9"/>
<line x1="296.60" y1="378.10" x2="299.20" y2="378.10" stroke="#8c8c8c" stroke-width="0.9"/>
<text x="295.90" y="380.37" font-size="6.4" text-anchor="end" stroke="#333" stroke-width="0.12" fill="#333">100</text>
<line x1="296.60" y1="402.20" x2="299.20" y2="402.20" stroke="#8c8c8c" stroke-width="0.9"/>
<text x="295.90" y="404.47" font-size="6.4" text-anchor="end" stroke="#333" stroke-width="0.12" fill="#333">10</text>
<line x1="296.60" y1="426.30" x2="299.20" y2="426.30" stroke="#8c8c8c" stroke-width="0.9"/>
<text x="295.90" y="428.57" font-size="6.4" text-anchor="end" stroke="#333" stroke-width="0.12" fill="#333">1</text>
<line x1="297.90" y1="394.95" x2="299.20" y2="394.95" stroke="#8c8c8c" stroke-width="0.5"/>
<line x1="297.90" y1="390.70" x2="299.20" y2="390.70" stroke="#8c8c8c" stroke-width="0.5"/>
<line x1="297.90" y1="387.69" x2="299.20" y2="387.69" stroke="#8c8c8c" stroke-width="0.5"/>
<line x1="297.90" y1="385.35" x2="299.20" y2="385.35" stroke="#8c8c8c" stroke-width="0.5"/>
<line x1="297.90" y1="383.45" x2="299.20" y2="383.45" stroke="#8c8c8c" stroke-width="0.5"/>
<line x1="297.90" y1="381.83" x2="299.20" y2="381.83" stroke="#8c8c8c" stroke-width="0.5"/>
<line x1="297.90" y1="380.44" x2="299.20" y2="380.44" stroke="#8c8c8c" stroke-width="0.5"/>
<line x1="297.90" y1="379.20" x2="299.20" y2="379.20" stroke="#8c8c8c" stroke-width="0.5"/>
<line x1="297.90" y1="419.05" x2="299.20" y2="419.05" stroke="#8c8c8c" stroke-width="0.5"/>
<line x1="297.90" y1="414.80" x2="299.20" y2="414.80" stroke="#8c8c8c" stroke-width="0.5"/>
<line x1="297.90" y1="411.79" x2="299.20" y2="411.79" stroke="#8c8c8c" stroke-width="0.5"/>
<line x1="297.90" y1="409.45" x2="299.20" y2="409.45" stroke="#8c8c8c" stroke-width="0.5"/>
<line x1="297.90" y1="407.55" x2="299.20" y2="407.55" stroke="#8c8c8c" stroke-width="0.5"/>
<line x1="297.90" y1="405.93" x2="299.20" y2="405.93" stroke="#8c8c8c" stroke-width="0.5"/>
<line x1="297.90" y1="404.54" x2="299.20" y2="404.54" stroke="#8c8c8c" stroke-width="0.5"/>
<line x1="297.90" y1="403.30" x2="299.20" y2="403.30" stroke="#8c8c8c" stroke-width="0.5"/>
<line x1="297.90" y1="438.90" x2="299.20" y2="438.90" stroke="#8c8c8c" stroke-width="0.5"/>
<line x1="297.90" y1="435.89" x2="299.20" y2="435.89" stroke="#8c8c8c" stroke-width="0.5"/>
<line x1="297.90" y1="433.55" x2="299.20" y2="433.55" stroke="#8c8c8c" stroke-width="0.5"/>
<line x1="297.90" y1="431.65" x2="299.20" y2="431.65" stroke="#8c8c8c" stroke-width="0.5"/>
<line x1="297.90" y1="430.03" x2="299.20" y2="430.03" stroke="#8c8c8c" stroke-width="0.5"/>
<line x1="297.90" y1="428.64" x2="299.20" y2="428.64" stroke="#8c8c8c" stroke-width="0.5"/>
<line x1="297.90" y1="427.40" x2="299.20" y2="427.40" stroke="#8c8c8c" stroke-width="0.5"/>
<line x1="299.20" y1="378.10" x2="370.00" y2="378.10" stroke="#a2a2a2" stroke-width="0.75"/>
<line x1="299.20" y1="402.20" x2="370.00" y2="402.20" stroke="#a2a2a2" stroke-width="0.75"/>
<line x1="299.20" y1="426.30" x2="370.00" y2="426.30" stroke="#a2a2a2" stroke-width="0.75"/>
<line x1="299.20" y1="442.80" x2="370.00" y2="442.80" stroke="#8c8c8c" stroke-width="0.9"/>
<line x1="368.50" y1="442.80" x2="368.50" y2="445.20" stroke="#8c8c8c" stroke-width="0.8"/>
<line x1="360.43" y1="442.80" x2="360.43" y2="444.00" stroke="#8c8c8c" stroke-width="0.5"/>
<line x1="362.46" y1="442.80" x2="362.46" y2="444.00" stroke="#8c8c8c" stroke-width="0.5"/>
<line x1="363.90" y1="442.80" x2="363.90" y2="444.00" stroke="#8c8c8c" stroke-width="0.5"/>
<line x1="365.02" y1="442.80" x2="365.02" y2="444.00" stroke="#8c8c8c" stroke-width="0.5"/>
<line x1="365.94" y1="442.80" x2="365.94" y2="444.00" stroke="#8c8c8c" stroke-width="0.5"/>
<line x1="366.71" y1="442.80" x2="366.71" y2="444.00" stroke="#8c8c8c" stroke-width="0.5"/>
<line x1="367.38" y1="442.80" x2="367.38" y2="444.00" stroke="#8c8c8c" stroke-width="0.5"/>
<line x1="367.97" y1="442.80" x2="367.97" y2="444.00" stroke="#8c8c8c" stroke-width="0.5"/>
<line x1="356.95" y1="442.80" x2="356.95" y2="445.20" stroke="#8c8c8c" stroke-width="0.8"/>
<line x1="348.88" y1="442.80" x2="348.88" y2="444.00" stroke="#8c8c8c" stroke-width="0.5"/>
<line x1="350.91" y1="442.80" x2="350.91" y2="444.00" stroke="#8c8c8c" stroke-width="0.5"/>
<line x1="352.35" y1="442.80" x2="352.35" y2="444.00" stroke="#8c8c8c" stroke-width="0.5"/>
<line x1="353.47" y1="442.80" x2="353.47" y2="444.00" stroke="#8c8c8c" stroke-width="0.5"/>
<line x1="354.39" y1="442.80" x2="354.39" y2="444.00" stroke="#8c8c8c" stroke-width="0.5"/>
<line x1="355.16" y1="442.80" x2="355.16" y2="444.00" stroke="#8c8c8c" stroke-width="0.5"/>
<line x1="355.83" y1="442.80" x2="355.83" y2="444.00" stroke="#8c8c8c" stroke-width="0.5"/>
<line x1="356.42" y1="442.80" x2="356.42" y2="444.00" stroke="#8c8c8c" stroke-width="0.5"/>
<line x1="345.40" y1="442.80" x2="345.40" y2="445.20" stroke="#8c8c8c" stroke-width="0.8"/>
<line x1="337.33" y1="442.80" x2="337.33" y2="444.00" stroke="#8c8c8c" stroke-width="0.5"/>
<line x1="339.36" y1="442.80" x2="339.36" y2="444.00" stroke="#8c8c8c" stroke-width="0.5"/>
<line x1="340.80" y1="442.80" x2="340.80" y2="444.00" stroke="#8c8c8c" stroke-width="0.5"/>
<line x1="341.92" y1="442.80" x2="341.92" y2="444.00" stroke="#8c8c8c" stroke-width="0.5"/>
<line x1="342.84" y1="442.80" x2="342.84" y2="444.00" stroke="#8c8c8c" stroke-width="0.5"/>
<line x1="343.61" y1="442.80" x2="343.61" y2="444.00" stroke="#8c8c8c" stroke-width="0.5"/>
<line x1="344.28" y1="442.80" x2="344.28" y2="444.00" stroke="#8c8c8c" stroke-width="0.5"/>
<line x1="344.87" y1="442.80" x2="344.87" y2="444.00" stroke="#8c8c8c" stroke-width="0.5"/>
<line x1="333.85" y1="442.80" x2="333.85" y2="445.20" stroke="#8c8c8c" stroke-width="0.8"/>
<line x1="325.78" y1="442.80" x2="325.78" y2="444.00" stroke="#8c8c8c" stroke-width="0.5"/>
<line x1="327.81" y1="442.80" x2="327.81" y2="444.00" stroke="#8c8c8c" stroke-width="0.5"/>
<line x1="329.25" y1="442.80" x2="329.25" y2="444.00" stroke="#8c8c8c" stroke-width="0.5"/>
<line x1="330.37" y1="442.80" x2="330.37" y2="444.00" stroke="#8c8c8c" stroke-width="0.5"/>
<line x1="331.29" y1="442.80" x2="331.29" y2="444.00" stroke="#8c8c8c" stroke-width="0.5"/>
<line x1="332.06" y1="442.80" x2="332.06" y2="444.00" stroke="#8c8c8c" stroke-width="0.5"/>
<line x1="332.73" y1="442.80" x2="332.73" y2="444.00" stroke="#8c8c8c" stroke-width="0.5"/>
<line x1="333.32" y1="442.80" x2="333.32" y2="444.00" stroke="#8c8c8c" stroke-width="0.5"/>
<line x1="322.30" y1="442.80" x2="322.30" y2="445.20" stroke="#8c8c8c" stroke-width="0.8"/>
<line x1="314.23" y1="442.80" x2="314.23" y2="444.00" stroke="#8c8c8c" stroke-width="0.5"/>
<line x1="316.26" y1="442.80" x2="316.26" y2="444.00" stroke="#8c8c8c" stroke-width="0.5"/>
<line x1="317.70" y1="442.80" x2="317.70" y2="444.00" stroke="#8c8c8c" stroke-width="0.5"/>
<line x1="318.82" y1="442.80" x2="318.82" y2="444.00" stroke="#8c8c8c" stroke-width="0.5"/>
<line x1="319.74" y1="442.80" x2="319.74" y2="444.00" stroke="#8c8c8c" stroke-width="0.5"/>
<line x1="320.51" y1="442.80" x2="320.51" y2="444.00" stroke="#8c8c8c" stroke-width="0.5"/>
<line x1="321.18" y1="442.80" x2="321.18" y2="444.00" stroke="#8c8c8c" stroke-width="0.5"/>
<line x1="321.77" y1="442.80" x2="321.77" y2="444.00" stroke="#8c8c8c" stroke-width="0.5"/>
<line x1="310.75" y1="442.80" x2="310.75" y2="445.20" stroke="#8c8c8c" stroke-width="0.8"/>
<line x1="302.68" y1="442.80" x2="302.68" y2="444.00" stroke="#8c8c8c" stroke-width="0.5"/>
<line x1="304.71" y1="442.80" x2="304.71" y2="444.00" stroke="#8c8c8c" stroke-width="0.5"/>
<line x1="306.15" y1="442.80" x2="306.15" y2="444.00" stroke="#8c8c8c" stroke-width="0.5"/>
<line x1="307.27" y1="442.80" x2="307.27" y2="444.00" stroke="#8c8c8c" stroke-width="0.5"/>
<line x1="308.19" y1="442.80" x2="308.19" y2="444.00" stroke="#8c8c8c" stroke-width="0.5"/>
<line x1="308.96" y1="442.80" x2="308.96" y2="444.00" stroke="#8c8c8c" stroke-width="0.5"/>
<line x1="309.63" y1="442.80" x2="309.63" y2="444.00" stroke="#8c8c8c" stroke-width="0.5"/>
<line x1="310.22" y1="442.80" x2="310.22" y2="444.00" stroke="#8c8c8c" stroke-width="0.5"/>
<line x1="299.20" y1="442.80" x2="299.20" y2="445.20" stroke="#8c8c8c" stroke-width="0.8"/>
<text x="299.30" y="449.70" font-size="6.6" text-anchor="end" fill="#333" stroke="#333" stroke-width="0.08" transform="rotate(-45 299.30 447.40)">0.00001</text>
<text x="310.85" y="449.70" font-size="6.6" text-anchor="end" fill="#333" stroke="#333" stroke-width="0.08" transform="rotate(-45 310.85 447.40)">0.0001</text>
<text x="322.40" y="449.70" font-size="6.6" text-anchor="end" fill="#333" stroke="#333" stroke-width="0.08" transform="rotate(-45 322.40 447.40)">0.001</text>
<text x="333.95" y="449.70" font-size="6.6" text-anchor="end" fill="#333" stroke="#333" stroke-width="0.08" transform="rotate(-45 333.95 447.40)">0.01</text>
<text x="345.50" y="449.70" font-size="6.6" text-anchor="end" fill="#333" stroke="#333" stroke-width="0.08" transform="rotate(-45 345.50 447.40)">0.1</text>
<text x="357.05" y="449.70" font-size="6.6" text-anchor="end" fill="#333" stroke="#333" stroke-width="0.08" transform="rotate(-45 357.05 447.40)">1</text>
<text x="368.60" y="449.70" font-size="6.6" text-anchor="end" fill="#333" stroke="#333" stroke-width="0.08" transform="rotate(-45 368.60 447.40)">10</text>
<polyline points="339.20,378.30 345.40,379.20 351.20,379.60 356.90,380.60 362.70,381.50 368.50,385.40" fill="none" stroke="#fbb36c" stroke-width="0.8" stroke-linejoin="round"/>
<circle cx="339.20" cy="378.30" r="1.9" fill="#fbb36c"/>
<circle cx="345.40" cy="379.20" r="1.9" fill="#fbb36c"/>
<circle cx="351.20" cy="379.60" r="1.9" fill="#fbb36c"/>
<circle cx="356.90" cy="380.60" r="1.9" fill="#fbb36c"/>
<circle cx="362.70" cy="381.50" r="1.9" fill="#fbb36c"/>
<circle cx="368.50" cy="385.40" r="1.9" fill="#fbb36c"/>
<polyline points="339.20,381.50 345.40,381.00 351.20,381.90 356.90,383.50 362.70,383.50 368.50,386.50" fill="none" stroke="#f9a03f" stroke-width="0.8" stroke-linejoin="round"/>
<circle cx="339.20" cy="381.50" r="1.9" fill="#f9a03f"/>
<circle cx="345.40" cy="381.00" r="1.9" fill="#f9a03f"/>
<circle cx="351.20" cy="381.90" r="1.9" fill="#f9a03f"/>
<circle cx="356.90" cy="383.50" r="1.9" fill="#f9a03f"/>
<circle cx="362.70" cy="383.50" r="1.9" fill="#f9a03f"/>
<circle cx="368.50" cy="386.50" r="1.9" fill="#f9a03f"/>
<polyline points="339.20,382.90 345.40,382.50 351.20,384.40 356.90,385.00 362.70,386.30 368.50,390.20" fill="none" stroke="#f5861f" stroke-width="0.8" stroke-linejoin="round"/>
<circle cx="339.20" cy="382.90" r="1.9" fill="#f5861f"/>
<circle cx="345.40" cy="382.50" r="1.9" fill="#f5861f"/>
<circle cx="351.20" cy="384.40" r="1.9" fill="#f5861f"/>
<circle cx="356.90" cy="385.00" r="1.9" fill="#f5861f"/>
<circle cx="362.70" cy="386.30" r="1.9" fill="#f5861f"/>
<circle cx="368.50" cy="390.20" r="1.9" fill="#f5861f"/>
<polyline points="339.20,385.40 345.40,386.00 351.20,388.80 356.90,392.10 362.70,395.40 368.50,396.00" fill="none" stroke="#ec5b1c" stroke-width="0.8" stroke-linejoin="round"/>
<circle cx="339.20" cy="385.40" r="1.9" fill="#ec5b1c"/>
<circle cx="345.40" cy="386.00" r="1.9" fill="#ec5b1c"/>
<circle cx="351.20" cy="388.80" r="1.9" fill="#ec5b1c"/>
<circle cx="356.90" cy="392.10" r="1.9" fill="#ec5b1c"/>
<circle cx="362.70" cy="395.40" r="1.9" fill="#ec5b1c"/>
<circle cx="368.50" cy="396.00" r="1.9" fill="#ec5b1c"/>
<line x1="356.90" y1="389.60" x2="356.90" y2="394.60" stroke="#ec5b1c" stroke-width="0.6"/>
<line x1="355.70" y1="389.60" x2="358.10" y2="389.60" stroke="#ec5b1c" stroke-width="0.6"/>
<line x1="355.70" y1="394.60" x2="358.10" y2="394.60" stroke="#ec5b1c" stroke-width="0.6"/>
<line x1="362.70" y1="392.90" x2="362.70" y2="397.90" stroke="#ec5b1c" stroke-width="0.6"/>
<line x1="361.50" y1="392.90" x2="363.90" y2="392.90" stroke="#ec5b1c" stroke-width="0.6"/>
<line x1="361.50" y1="397.90" x2="363.90" y2="397.90" stroke="#ec5b1c" stroke-width="0.6"/>
<line x1="368.50" y1="393.50" x2="368.50" y2="398.50" stroke="#ec5b1c" stroke-width="0.6"/>
<line x1="367.30" y1="393.50" x2="369.70" y2="393.50" stroke="#ec5b1c" stroke-width="0.6"/>
<line x1="367.30" y1="398.50" x2="369.70" y2="398.50" stroke="#ec5b1c" stroke-width="0.6"/>
<polyline points="339.20,397.50 345.40,408.10 351.20,422.30 356.90,435.40 362.70,438.30 368.50,434.40" fill="none" stroke="#b9561a" stroke-width="0.8" stroke-linejoin="round"/>
<circle cx="339.20" cy="397.50" r="1.9" fill="#b9561a"/>
<circle cx="345.40" cy="408.10" r="1.9" fill="#b9561a"/>
<circle cx="351.20" cy="422.30" r="1.9" fill="#b9561a"/>
<circle cx="356.90" cy="435.40" r="1.9" fill="#b9561a"/>
<circle cx="362.70" cy="438.30" r="1.9" fill="#b9561a"/>
<circle cx="368.50" cy="434.40" r="1.9" fill="#b9561a"/>
<line x1="345.40" y1="403.10" x2="345.40" y2="413.10" stroke="#b9561a" stroke-width="0.6"/>
<line x1="344.20" y1="403.10" x2="346.60" y2="403.10" stroke="#b9561a" stroke-width="0.6"/>
<line x1="344.20" y1="413.10" x2="346.60" y2="413.10" stroke="#b9561a" stroke-width="0.6"/>
<line x1="351.20" y1="418.30" x2="351.20" y2="426.30" stroke="#b9561a" stroke-width="0.6"/>
<line x1="350.00" y1="418.30" x2="352.40" y2="418.30" stroke="#b9561a" stroke-width="0.6"/>
<line x1="350.00" y1="426.30" x2="352.40" y2="426.30" stroke="#b9561a" stroke-width="0.6"/>
<line x1="356.90" y1="432.90" x2="356.90" y2="437.90" stroke="#b9561a" stroke-width="0.6"/>
<line x1="355.70" y1="432.90" x2="358.10" y2="432.90" stroke="#b9561a" stroke-width="0.6"/>
<line x1="355.70" y1="437.90" x2="358.10" y2="437.90" stroke="#b9561a" stroke-width="0.6"/>
<line x1="368.50" y1="432.40" x2="368.50" y2="436.40" stroke="#b9561a" stroke-width="0.6"/>
<line x1="367.30" y1="432.40" x2="369.70" y2="432.40" stroke="#b9561a" stroke-width="0.6"/>
<line x1="367.30" y1="436.40" x2="369.70" y2="436.40" stroke="#b9561a" stroke-width="0.6"/>
<polyline points="304.60,378.10 310.80,377.30 316.50,379.00 322.30,381.20 328.00,391.70" fill="none" stroke="#9ea2a8" stroke-width="0.8" stroke-linejoin="round"/>
<circle cx="304.60" cy="378.10" r="1.9" fill="#9ea2a8"/>
<circle cx="310.80" cy="377.30" r="1.9" fill="#9ea2a8"/>
<circle cx="316.50" cy="379.00" r="1.9" fill="#9ea2a8"/>
<circle cx="322.30" cy="381.20" r="1.9" fill="#9ea2a8"/>
<circle cx="328.00" cy="391.70" r="1.9" fill="#9ea2a8"/>
<line x1="328.00" y1="388.70" x2="328.00" y2="394.70" stroke="#9ea2a8" stroke-width="0.6"/>
<line x1="326.80" y1="388.70" x2="329.20" y2="388.70" stroke="#9ea2a8" stroke-width="0.6"/>
<line x1="326.80" y1="394.70" x2="329.20" y2="394.70" stroke="#9ea2a8" stroke-width="0.6"/>
<polyline points="339.20,378.10 345.40,377.10 351.20,377.30 356.90,378.10 362.70,378.70 368.50,382.50" fill="none" stroke="#141414" stroke-width="0.8" stroke-linejoin="round"/>
<circle cx="339.20" cy="378.10" r="1.9" fill="#141414"/>
<circle cx="345.40" cy="377.10" r="1.9" fill="#141414"/>
<circle cx="351.20" cy="377.30" r="1.9" fill="#141414"/>
<circle cx="356.90" cy="378.10" r="1.9" fill="#141414"/>
<circle cx="362.70" cy="378.70" r="1.9" fill="#141414"/>
<circle cx="368.50" cy="382.50" r="1.9" fill="#141414"/>
<line x1="389.40" y1="374.50" x2="389.40" y2="442.70" stroke="#8c8c8c" stroke-width="0.9"/>
<line x1="386.80" y1="377.30" x2="389.40" y2="377.30" stroke="#8c8c8c" stroke-width="0.9"/>
<text x="386.10" y="379.57" font-size="6.4" text-anchor="end" stroke="#333" stroke-width="0.12" fill="#333">100</text>
<line x1="386.80" y1="397.30" x2="389.40" y2="397.30" stroke="#8c8c8c" stroke-width="0.9"/>
<text x="386.10" y="399.57" font-size="6.4" text-anchor="end" stroke="#333" stroke-width="0.12" fill="#333">10</text>
<line x1="386.80" y1="417.10" x2="389.40" y2="417.10" stroke="#8c8c8c" stroke-width="0.9"/>
<text x="386.10" y="419.37" font-size="6.4" text-anchor="end" stroke="#333" stroke-width="0.12" fill="#333">1</text>
<line x1="386.80" y1="437.20" x2="389.40" y2="437.20" stroke="#8c8c8c" stroke-width="0.9"/>
<text x="386.10" y="439.47" font-size="6.4" text-anchor="end" stroke="#333" stroke-width="0.12" fill="#333">0.1</text>
<line x1="388.10" y1="391.28" x2="389.40" y2="391.28" stroke="#8c8c8c" stroke-width="0.5"/>
<line x1="388.10" y1="387.76" x2="389.40" y2="387.76" stroke="#8c8c8c" stroke-width="0.5"/>
<line x1="388.10" y1="385.26" x2="389.40" y2="385.26" stroke="#8c8c8c" stroke-width="0.5"/>
<line x1="388.10" y1="383.32" x2="389.40" y2="383.32" stroke="#8c8c8c" stroke-width="0.5"/>
<line x1="388.10" y1="381.74" x2="389.40" y2="381.74" stroke="#8c8c8c" stroke-width="0.5"/>
<line x1="388.10" y1="380.40" x2="389.40" y2="380.40" stroke="#8c8c8c" stroke-width="0.5"/>
<line x1="388.10" y1="379.24" x2="389.40" y2="379.24" stroke="#8c8c8c" stroke-width="0.5"/>
<line x1="388.10" y1="378.22" x2="389.40" y2="378.22" stroke="#8c8c8c" stroke-width="0.5"/>
<line x1="388.10" y1="411.08" x2="389.40" y2="411.08" stroke="#8c8c8c" stroke-width="0.5"/>
<line x1="388.10" y1="407.56" x2="389.40" y2="407.56" stroke="#8c8c8c" stroke-width="0.5"/>
<line x1="388.10" y1="405.06" x2="389.40" y2="405.06" stroke="#8c8c8c" stroke-width="0.5"/>
<line x1="388.10" y1="403.12" x2="389.40" y2="403.12" stroke="#8c8c8c" stroke-width="0.5"/>
<line x1="388.10" y1="401.54" x2="389.40" y2="401.54" stroke="#8c8c8c" stroke-width="0.5"/>
<line x1="388.10" y1="400.20" x2="389.40" y2="400.20" stroke="#8c8c8c" stroke-width="0.5"/>
<line x1="388.10" y1="399.04" x2="389.40" y2="399.04" stroke="#8c8c8c" stroke-width="0.5"/>
<line x1="388.10" y1="398.02" x2="389.40" y2="398.02" stroke="#8c8c8c" stroke-width="0.5"/>
<line x1="388.10" y1="431.18" x2="389.40" y2="431.18" stroke="#8c8c8c" stroke-width="0.5"/>
<line x1="388.10" y1="427.66" x2="389.40" y2="427.66" stroke="#8c8c8c" stroke-width="0.5"/>
<line x1="388.10" y1="425.16" x2="389.40" y2="425.16" stroke="#8c8c8c" stroke-width="0.5"/>
<line x1="388.10" y1="423.22" x2="389.40" y2="423.22" stroke="#8c8c8c" stroke-width="0.5"/>
<line x1="388.10" y1="421.64" x2="389.40" y2="421.64" stroke="#8c8c8c" stroke-width="0.5"/>
<line x1="388.10" y1="420.30" x2="389.40" y2="420.30" stroke="#8c8c8c" stroke-width="0.5"/>
<line x1="388.10" y1="419.14" x2="389.40" y2="419.14" stroke="#8c8c8c" stroke-width="0.5"/>
<line x1="388.10" y1="418.12" x2="389.40" y2="418.12" stroke="#8c8c8c" stroke-width="0.5"/>
<line x1="388.10" y1="441.64" x2="389.40" y2="441.64" stroke="#8c8c8c" stroke-width="0.5"/>
<line x1="388.10" y1="440.30" x2="389.40" y2="440.30" stroke="#8c8c8c" stroke-width="0.5"/>
<line x1="388.10" y1="439.14" x2="389.40" y2="439.14" stroke="#8c8c8c" stroke-width="0.5"/>
<line x1="388.10" y1="438.12" x2="389.40" y2="438.12" stroke="#8c8c8c" stroke-width="0.5"/>
<line x1="389.40" y1="377.30" x2="459.50" y2="377.30" stroke="#a2a2a2" stroke-width="0.75"/>
<line x1="389.40" y1="397.30" x2="459.50" y2="397.30" stroke="#a2a2a2" stroke-width="0.75"/>
<line x1="389.40" y1="417.10" x2="459.50" y2="417.10" stroke="#a2a2a2" stroke-width="0.75"/>
<line x1="389.40" y1="437.20" x2="459.50" y2="437.20" stroke="#a2a2a2" stroke-width="0.75"/>
<line x1="389.40" y1="442.70" x2="459.50" y2="442.70" stroke="#8c8c8c" stroke-width="0.9"/>
<line x1="458.10" y1="442.70" x2="458.10" y2="445.10" stroke="#8c8c8c" stroke-width="0.8"/>
<line x1="450.10" y1="442.70" x2="450.10" y2="443.90" stroke="#8c8c8c" stroke-width="0.5"/>
<line x1="452.11" y1="442.70" x2="452.11" y2="443.90" stroke="#8c8c8c" stroke-width="0.5"/>
<line x1="453.54" y1="442.70" x2="453.54" y2="443.90" stroke="#8c8c8c" stroke-width="0.5"/>
<line x1="454.65" y1="442.70" x2="454.65" y2="443.90" stroke="#8c8c8c" stroke-width="0.5"/>
<line x1="455.56" y1="442.70" x2="455.56" y2="443.90" stroke="#8c8c8c" stroke-width="0.5"/>
<line x1="456.33" y1="442.70" x2="456.33" y2="443.90" stroke="#8c8c8c" stroke-width="0.5"/>
<line x1="456.99" y1="442.70" x2="456.99" y2="443.90" stroke="#8c8c8c" stroke-width="0.5"/>
<line x1="457.58" y1="442.70" x2="457.58" y2="443.90" stroke="#8c8c8c" stroke-width="0.5"/>
<line x1="446.65" y1="442.70" x2="446.65" y2="445.10" stroke="#8c8c8c" stroke-width="0.8"/>
<line x1="438.65" y1="442.70" x2="438.65" y2="443.90" stroke="#8c8c8c" stroke-width="0.5"/>
<line x1="440.66" y1="442.70" x2="440.66" y2="443.90" stroke="#8c8c8c" stroke-width="0.5"/>
<line x1="442.09" y1="442.70" x2="442.09" y2="443.90" stroke="#8c8c8c" stroke-width="0.5"/>
<line x1="443.20" y1="442.70" x2="443.20" y2="443.90" stroke="#8c8c8c" stroke-width="0.5"/>
<line x1="444.11" y1="442.70" x2="444.11" y2="443.90" stroke="#8c8c8c" stroke-width="0.5"/>
<line x1="444.88" y1="442.70" x2="444.88" y2="443.90" stroke="#8c8c8c" stroke-width="0.5"/>
<line x1="445.54" y1="442.70" x2="445.54" y2="443.90" stroke="#8c8c8c" stroke-width="0.5"/>
<line x1="446.13" y1="442.70" x2="446.13" y2="443.90" stroke="#8c8c8c" stroke-width="0.5"/>
<line x1="435.20" y1="442.70" x2="435.20" y2="445.10" stroke="#8c8c8c" stroke-width="0.8"/>
<line x1="427.20" y1="442.70" x2="427.20" y2="443.90" stroke="#8c8c8c" stroke-width="0.5"/>
<line x1="429.21" y1="442.70" x2="429.21" y2="443.90" stroke="#8c8c8c" stroke-width="0.5"/>
<line x1="430.64" y1="442.70" x2="430.64" y2="443.90" stroke="#8c8c8c" stroke-width="0.5"/>
<line x1="431.75" y1="442.70" x2="431.75" y2="443.90" stroke="#8c8c8c" stroke-width="0.5"/>
<line x1="432.66" y1="442.70" x2="432.66" y2="443.90" stroke="#8c8c8c" stroke-width="0.5"/>
<line x1="433.43" y1="442.70" x2="433.43" y2="443.90" stroke="#8c8c8c" stroke-width="0.5"/>
<line x1="434.09" y1="442.70" x2="434.09" y2="443.90" stroke="#8c8c8c" stroke-width="0.5"/>
<line x1="434.68" y1="442.70" x2="434.68" y2="443.90" stroke="#8c8c8c" stroke-width="0.5"/>
<line x1="423.75" y1="442.70" x2="423.75" y2="445.10" stroke="#8c8c8c" stroke-width="0.8"/>
<line x1="415.75" y1="442.70" x2="415.75" y2="443.90" stroke="#8c8c8c" stroke-width="0.5"/>
<line x1="417.76" y1="442.70" x2="417.76" y2="443.90" stroke="#8c8c8c" stroke-width="0.5"/>
<line x1="419.19" y1="442.70" x2="419.19" y2="443.90" stroke="#8c8c8c" stroke-width="0.5"/>
<line x1="420.30" y1="442.70" x2="420.30" y2="443.90" stroke="#8c8c8c" stroke-width="0.5"/>
<line x1="421.21" y1="442.70" x2="421.21" y2="443.90" stroke="#8c8c8c" stroke-width="0.5"/>
<line x1="421.98" y1="442.70" x2="421.98" y2="443.90" stroke="#8c8c8c" stroke-width="0.5"/>
<line x1="422.64" y1="442.70" x2="422.64" y2="443.90" stroke="#8c8c8c" stroke-width="0.5"/>
<line x1="423.23" y1="442.70" x2="423.23" y2="443.90" stroke="#8c8c8c" stroke-width="0.5"/>
<line x1="412.30" y1="442.70" x2="412.30" y2="445.10" stroke="#8c8c8c" stroke-width="0.8"/>
<line x1="404.30" y1="442.70" x2="404.30" y2="443.90" stroke="#8c8c8c" stroke-width="0.5"/>
<line x1="406.31" y1="442.70" x2="406.31" y2="443.90" stroke="#8c8c8c" stroke-width="0.5"/>
<line x1="407.74" y1="442.70" x2="407.74" y2="443.90" stroke="#8c8c8c" stroke-width="0.5"/>
<line x1="408.85" y1="442.70" x2="408.85" y2="443.90" stroke="#8c8c8c" stroke-width="0.5"/>
<line x1="409.76" y1="442.70" x2="409.76" y2="443.90" stroke="#8c8c8c" stroke-width="0.5"/>
<line x1="410.53" y1="442.70" x2="410.53" y2="443.90" stroke="#8c8c8c" stroke-width="0.5"/>
<line x1="411.19" y1="442.70" x2="411.19" y2="443.90" stroke="#8c8c8c" stroke-width="0.5"/>
<line x1="411.78" y1="442.70" x2="411.78" y2="443.90" stroke="#8c8c8c" stroke-width="0.5"/>
<line x1="400.85" y1="442.70" x2="400.85" y2="445.10" stroke="#8c8c8c" stroke-width="0.8"/>
<line x1="392.85" y1="442.70" x2="392.85" y2="443.90" stroke="#8c8c8c" stroke-width="0.5"/>
<line x1="394.86" y1="442.70" x2="394.86" y2="443.90" stroke="#8c8c8c" stroke-width="0.5"/>
<line x1="396.29" y1="442.70" x2="396.29" y2="443.90" stroke="#8c8c8c" stroke-width="0.5"/>
<line x1="397.40" y1="442.70" x2="397.40" y2="443.90" stroke="#8c8c8c" stroke-width="0.5"/>
<line x1="398.31" y1="442.70" x2="398.31" y2="443.90" stroke="#8c8c8c" stroke-width="0.5"/>
<line x1="399.08" y1="442.70" x2="399.08" y2="443.90" stroke="#8c8c8c" stroke-width="0.5"/>
<line x1="399.74" y1="442.70" x2="399.74" y2="443.90" stroke="#8c8c8c" stroke-width="0.5"/>
<line x1="400.33" y1="442.70" x2="400.33" y2="443.90" stroke="#8c8c8c" stroke-width="0.5"/>
<line x1="389.40" y1="442.70" x2="389.40" y2="445.10" stroke="#8c8c8c" stroke-width="0.8"/>
<text x="389.50" y="449.60" font-size="6.6" text-anchor="end" fill="#333" stroke="#333" stroke-width="0.08" transform="rotate(-45 389.50 447.30)">0.00001</text>
<text x="400.95" y="449.60" font-size="6.6" text-anchor="end" fill="#333" stroke="#333" stroke-width="0.08" transform="rotate(-45 400.95 447.30)">0.0001</text>
<text x="412.40" y="449.60" font-size="6.6" text-anchor="end" fill="#333" stroke="#333" stroke-width="0.08" transform="rotate(-45 412.40 447.30)">0.001</text>
<text x="423.85" y="449.60" font-size="6.6" text-anchor="end" fill="#333" stroke="#333" stroke-width="0.08" transform="rotate(-45 423.85 447.30)">0.01</text>
<text x="435.30" y="449.60" font-size="6.6" text-anchor="end" fill="#333" stroke="#333" stroke-width="0.08" transform="rotate(-45 435.30 447.30)">0.1</text>
<text x="446.75" y="449.60" font-size="6.6" text-anchor="end" fill="#333" stroke="#333" stroke-width="0.08" transform="rotate(-45 446.75 447.30)">1</text>
<text x="458.20" y="449.60" font-size="6.6" text-anchor="end" fill="#333" stroke="#333" stroke-width="0.08" transform="rotate(-45 458.20 447.30)">10</text>
<polyline points="429.40,380.60 435.20,382.50 440.80,382.10 446.50,382.10 452.30,384.40 458.10,392.10" fill="none" stroke="#fbb36c" stroke-width="0.8" stroke-linejoin="round"/>
<circle cx="429.40" cy="380.60" r="1.9" fill="#fbb36c"/>
<circle cx="435.20" cy="382.50" r="1.9" fill="#fbb36c"/>
<circle cx="440.80" cy="382.10" r="1.9" fill="#fbb36c"/>
<circle cx="446.50" cy="382.10" r="1.9" fill="#fbb36c"/>
<circle cx="452.30" cy="384.40" r="1.9" fill="#fbb36c"/>
<circle cx="458.10" cy="392.10" r="1.9" fill="#fbb36c"/>
<polyline points="429.40,381.20 435.20,383.00 440.80,383.00 446.50,383.00 452.30,385.50 458.10,393.10" fill="none" stroke="#f9a03f" stroke-width="0.8" stroke-linejoin="round"/>
<circle cx="429.40" cy="381.20" r="1.9" fill="#f9a03f"/>
<circle cx="435.20" cy="383.00" r="1.9" fill="#f9a03f"/>
<circle cx="440.80" cy="383.00" r="1.9" fill="#f9a03f"/>
<circle cx="446.50" cy="383.00" r="1.9" fill="#f9a03f"/>
<circle cx="452.30" cy="385.50" r="1.9" fill="#f9a03f"/>
<circle cx="458.10" cy="393.10" r="1.9" fill="#f9a03f"/>
<polyline points="429.40,390.60 435.20,389.80 440.80,390.20 446.50,390.60 452.30,390.20 458.10,398.80" fill="none" stroke="#f5861f" stroke-width="0.8" stroke-linejoin="round"/>
<circle cx="429.40" cy="390.60" r="1.9" fill="#f5861f"/>
<circle cx="435.20" cy="389.80" r="1.9" fill="#f5861f"/>
<circle cx="440.80" cy="390.20" r="1.9" fill="#f5861f"/>
<circle cx="446.50" cy="390.60" r="1.9" fill="#f5861f"/>
<circle cx="452.30" cy="390.20" r="1.9" fill="#f5861f"/>
<circle cx="458.10" cy="398.80" r="1.9" fill="#f5861f"/>
<line x1="458.10" y1="395.30" x2="458.10" y2="402.30" stroke="#f5861f" stroke-width="0.6"/>
<line x1="456.90" y1="395.30" x2="459.30" y2="395.30" stroke="#f5861f" stroke-width="0.6"/>
<line x1="456.90" y1="402.30" x2="459.30" y2="402.30" stroke="#f5861f" stroke-width="0.6"/>
<polyline points="429.40,409.00 435.20,409.00 440.80,408.50 446.50,402.30 452.30,408.10 458.10,416.70" fill="none" stroke="#ec5b1c" stroke-width="0.8" stroke-linejoin="round"/>
<circle cx="429.40" cy="409.00" r="1.9" fill="#ec5b1c"/>
<circle cx="435.20" cy="409.00" r="1.9" fill="#ec5b1c"/>
<circle cx="440.80" cy="408.50" r="1.9" fill="#ec5b1c"/>
<circle cx="446.50" cy="402.30" r="1.9" fill="#ec5b1c"/>
<circle cx="452.30" cy="408.10" r="1.9" fill="#ec5b1c"/>
<circle cx="458.10" cy="416.70" r="1.9" fill="#ec5b1c"/>
<line x1="429.40" y1="406.00" x2="429.40" y2="412.00" stroke="#ec5b1c" stroke-width="0.6"/>
<line x1="428.20" y1="406.00" x2="430.60" y2="406.00" stroke="#ec5b1c" stroke-width="0.6"/>
<line x1="428.20" y1="412.00" x2="430.60" y2="412.00" stroke="#ec5b1c" stroke-width="0.6"/>
<line x1="435.20" y1="406.00" x2="435.20" y2="412.00" stroke="#ec5b1c" stroke-width="0.6"/>
<line x1="434.00" y1="406.00" x2="436.40" y2="406.00" stroke="#ec5b1c" stroke-width="0.6"/>
<line x1="434.00" y1="412.00" x2="436.40" y2="412.00" stroke="#ec5b1c" stroke-width="0.6"/>
<line x1="446.50" y1="398.30" x2="446.50" y2="406.30" stroke="#ec5b1c" stroke-width="0.6"/>
<line x1="445.30" y1="398.30" x2="447.70" y2="398.30" stroke="#ec5b1c" stroke-width="0.6"/>
<line x1="445.30" y1="406.30" x2="447.70" y2="406.30" stroke="#ec5b1c" stroke-width="0.6"/>
<line x1="452.30" y1="405.10" x2="452.30" y2="411.10" stroke="#ec5b1c" stroke-width="0.6"/>
<line x1="451.10" y1="405.10" x2="453.50" y2="405.10" stroke="#ec5b1c" stroke-width="0.6"/>
<line x1="451.10" y1="411.10" x2="453.50" y2="411.10" stroke="#ec5b1c" stroke-width="0.6"/>
<line x1="458.10" y1="413.20" x2="458.10" y2="420.20" stroke="#ec5b1c" stroke-width="0.6"/>
<line x1="456.90" y1="413.20" x2="459.30" y2="413.20" stroke="#ec5b1c" stroke-width="0.6"/>
<line x1="456.90" y1="420.20" x2="459.30" y2="420.20" stroke="#ec5b1c" stroke-width="0.6"/>
<polyline points="429.40,431.00 435.20,430.20 440.80,432.50 446.50,434.40 452.30,435.40 458.10,429.60" fill="none" stroke="#b9561a" stroke-width="0.8" stroke-linejoin="round"/>
<circle cx="429.40" cy="431.00" r="1.9" fill="#b9561a"/>
<circle cx="435.20" cy="430.20" r="1.9" fill="#b9561a"/>
<circle cx="440.80" cy="432.50" r="1.9" fill="#b9561a"/>
<circle cx="446.50" cy="434.40" r="1.9" fill="#b9561a"/>
<circle cx="452.30" cy="435.40" r="1.9" fill="#b9561a"/>
<circle cx="458.10" cy="429.60" r="1.9" fill="#b9561a"/>
<line x1="446.50" y1="431.40" x2="446.50" y2="437.40" stroke="#b9561a" stroke-width="0.6"/>
<line x1="445.30" y1="431.40" x2="447.70" y2="431.40" stroke="#b9561a" stroke-width="0.6"/>
<line x1="445.30" y1="437.40" x2="447.70" y2="437.40" stroke="#b9561a" stroke-width="0.6"/>
<line x1="452.30" y1="431.90" x2="452.30" y2="438.90" stroke="#b9561a" stroke-width="0.6"/>
<line x1="451.10" y1="431.90" x2="453.50" y2="431.90" stroke="#b9561a" stroke-width="0.6"/>
<line x1="451.10" y1="438.90" x2="453.50" y2="438.90" stroke="#b9561a" stroke-width="0.6"/>
<line x1="458.10" y1="426.60" x2="458.10" y2="432.60" stroke="#b9561a" stroke-width="0.6"/>
<line x1="456.90" y1="426.60" x2="459.30" y2="426.60" stroke="#b9561a" stroke-width="0.6"/>
<line x1="456.90" y1="432.60" x2="459.30" y2="432.60" stroke="#b9561a" stroke-width="0.6"/>
<polyline points="394.80,378.10 401.00,376.70 406.30,386.30 412.50,407.50 417.90,432.50" fill="none" stroke="#9ea2a8" stroke-width="0.8" stroke-linejoin="round"/>
<circle cx="394.80" cy="378.10" r="1.9" fill="#9ea2a8"/>
<circle cx="401.00" cy="376.70" r="1.9" fill="#9ea2a8"/>
<circle cx="406.30" cy="386.30" r="1.9" fill="#9ea2a8"/>
<circle cx="412.50" cy="407.50" r="1.9" fill="#9ea2a8"/>
<circle cx="417.90" cy="432.50" r="1.9" fill="#9ea2a8"/>
<line x1="412.50" y1="405.50" x2="412.50" y2="409.50" stroke="#9ea2a8" stroke-width="0.6"/>
<line x1="411.30" y1="405.50" x2="413.70" y2="405.50" stroke="#9ea2a8" stroke-width="0.6"/>
<line x1="411.30" y1="409.50" x2="413.70" y2="409.50" stroke="#9ea2a8" stroke-width="0.6"/>
<line x1="417.90" y1="430.50" x2="417.90" y2="434.50" stroke="#9ea2a8" stroke-width="0.6"/>
<line x1="416.70" y1="430.50" x2="419.10" y2="430.50" stroke="#9ea2a8" stroke-width="0.6"/>
<line x1="416.70" y1="434.50" x2="419.10" y2="434.50" stroke="#9ea2a8" stroke-width="0.6"/>
<polyline points="429.40,376.30 435.20,376.30 440.80,377.10 446.50,377.30 452.30,380.60 458.10,390.20" fill="none" stroke="#141414" stroke-width="0.8" stroke-linejoin="round"/>
<circle cx="429.40" cy="376.30" r="1.9" fill="#141414"/>
<circle cx="435.20" cy="376.30" r="1.9" fill="#141414"/>
<circle cx="440.80" cy="377.10" r="1.9" fill="#141414"/>
<circle cx="446.50" cy="377.30" r="1.9" fill="#141414"/>
<circle cx="452.30" cy="380.60" r="1.9" fill="#141414"/>
<circle cx="458.10" cy="390.20" r="1.9" fill="#141414"/>
<text x="62.00" y="148.12" font-size="8.5" text-anchor="middle" font-weight="bold" stroke="#111" stroke-width="0.12" fill="#111">G-401</text>
<text x="62.00" y="156.69" font-size="7.0" text-anchor="middle" stroke="#333" stroke-width="0.12" fill="#333">(rhabdoid tumor)</text>
<text x="62.00" y="361.12" font-size="8.5" text-anchor="middle" font-weight="bold" stroke="#111" stroke-width="0.12" fill="#111">G-401</text>
<text x="62.00" y="369.69" font-size="7.0" text-anchor="middle" stroke="#333" stroke-width="0.12" fill="#333">(rhabdoid tumor)</text>
<text x="149.60" y="148.12" font-size="8.5" text-anchor="middle" font-weight="bold" stroke="#111" stroke-width="0.12" fill="#111">NCI-H841</text>
<text x="149.60" y="156.69" font-size="7.0" text-anchor="middle" stroke="#333" stroke-width="0.12" fill="#333">(SCLC)</text>
<text x="149.60" y="361.12" font-size="8.5" text-anchor="middle" font-weight="bold" stroke="#111" stroke-width="0.12" fill="#111">NCI-H841</text>
<text x="149.60" y="369.69" font-size="7.0" text-anchor="middle" stroke="#333" stroke-width="0.12" fill="#333">(SCLC)</text>
<text x="243.80" y="148.12" font-size="8.5" text-anchor="middle" font-weight="bold" stroke="#111" stroke-width="0.12" fill="#111">287954-098-R-J1</text>
<text x="243.80" y="156.69" font-size="7.0" text-anchor="middle" stroke="#333" stroke-width="0.12" fill="#333">(Ewing sarcoma)</text>
<text x="243.80" y="361.12" font-size="8.5" text-anchor="middle" font-weight="bold" stroke="#111" stroke-width="0.12" fill="#111">287954-098-R-J1</text>
<text x="243.80" y="369.69" font-size="7.0" text-anchor="middle" stroke="#333" stroke-width="0.12" fill="#333">(Ewing sarcoma)</text>
<text x="333.30" y="148.12" font-size="8.5" text-anchor="middle" font-weight="bold" stroke="#111" stroke-width="0.12" fill="#111">ASPS-1</text>
<text x="333.30" y="156.69" font-size="7.0" text-anchor="middle" stroke="#333" stroke-width="0.12" fill="#333">(alveolar soft parts sarcoma)</text>
<text x="333.30" y="361.12" font-size="8.5" text-anchor="middle" font-weight="bold" stroke="#111" stroke-width="0.12" fill="#111">ASPS-1</text>
<text x="333.30" y="369.69" font-size="7.0" text-anchor="middle" stroke="#333" stroke-width="0.12" fill="#333">(alveolar soft parts sarcoma)</text>
<text x="426.00" y="148.12" font-size="8.5" text-anchor="middle" font-weight="bold" stroke="#111" stroke-width="0.12" fill="#111">DMS 114</text>
<text x="426.00" y="156.69" font-size="7.0" text-anchor="middle" stroke="#333" stroke-width="0.12" fill="#333">(SCLC)</text>
<text x="426.00" y="361.12" font-size="8.5" text-anchor="middle" font-weight="bold" stroke="#111" stroke-width="0.12" fill="#111">DMS 114</text>
<text x="426.00" y="369.69" font-size="7.0" text-anchor="middle" stroke="#333" stroke-width="0.12" fill="#333">(SCLC)</text>
<text x="95.20" y="237.97" font-size="6.4" text-anchor="middle" stroke="#333" stroke-width="0.12" fill="#333">10</text>
<text x="77.30" y="237.97" font-size="6.4" text-anchor="middle" stroke="#333" stroke-width="0.12" fill="#333">1</text>
<text x="59.40" y="237.97" font-size="6.4" text-anchor="middle" stroke="#333" stroke-width="0.12" fill="#333">0.1</text>
<text x="41.50" y="237.97" font-size="6.4" text-anchor="middle" stroke="#333" stroke-width="0.12" fill="#333">0.01</text>
<text x="184.60" y="237.97" font-size="6.4" text-anchor="middle" stroke="#333" stroke-width="0.12" fill="#333">10</text>
<text x="166.70" y="237.97" font-size="6.4" text-anchor="middle" stroke="#333" stroke-width="0.12" fill="#333">1</text>
<text x="148.80" y="237.97" font-size="6.4" text-anchor="middle" stroke="#333" stroke-width="0.12" fill="#333">0.1</text>
<text x="130.90" y="237.97" font-size="6.4" text-anchor="middle" stroke="#333" stroke-width="0.12" fill="#333">0.01</text>
<text x="275.90" y="237.97" font-size="6.4" text-anchor="middle" stroke="#333" stroke-width="0.12" fill="#333">10</text>
<text x="257.80" y="237.97" font-size="6.4" text-anchor="middle" stroke="#333" stroke-width="0.12" fill="#333">1</text>
<text x="239.70" y="237.97" font-size="6.4" text-anchor="middle" stroke="#333" stroke-width="0.12" fill="#333">0.1</text>
<text x="221.60" y="237.97" font-size="6.4" text-anchor="middle" stroke="#333" stroke-width="0.12" fill="#333">0.01</text>
<text x="368.40" y="237.97" font-size="6.4" text-anchor="middle" stroke="#333" stroke-width="0.12" fill="#333">10</text>
<text x="349.00" y="237.97" font-size="6.4" text-anchor="middle" stroke="#333" stroke-width="0.12" fill="#333">1</text>
<text x="329.60" y="237.97" font-size="6.4" text-anchor="middle" stroke="#333" stroke-width="0.12" fill="#333">0.1</text>
<text x="310.20" y="237.97" font-size="6.4" text-anchor="middle" stroke="#333" stroke-width="0.12" fill="#333">0.01</text>
<text x="456.80" y="237.97" font-size="6.4" text-anchor="middle" stroke="#333" stroke-width="0.12" fill="#333">10</text>
<text x="439.20" y="237.97" font-size="6.4" text-anchor="middle" stroke="#333" stroke-width="0.12" fill="#333">1</text>
<text x="421.60" y="237.97" font-size="6.4" text-anchor="middle" stroke="#333" stroke-width="0.12" fill="#333">0.1</text>
<text x="404.00" y="237.97" font-size="6.4" text-anchor="middle" stroke="#333" stroke-width="0.12" fill="#333">0.01</text>
<text x="5.80" y="197.62" font-size="8.5" text-anchor="middle" font-weight="bold" stroke="#222" stroke-width="0.12" fill="#222" transform="rotate(-90 5.80 194.60)">% Viability</text>
<text x="5.80" y="413.52" font-size="8.5" text-anchor="middle" font-weight="bold" stroke="#222" stroke-width="0.12" fill="#222" transform="rotate(-90 5.80 410.50)">% Viability</text>
<line x1="461.40" y1="166.00" x2="471.00" y2="166.00" stroke="#141414" stroke-width="0.8"/>
<circle cx="466.30" cy="166.00" r="1.95" fill="#141414"/>
<text x="473.40" y="167.99" font-size="5.6" text-anchor="start" stroke="#222" stroke-width="0.06" fill="#222">AZD-1390</text>
<line x1="461.40" y1="173.07" x2="471.00" y2="173.07" stroke="#9ea2a8" stroke-width="0.8"/>
<circle cx="466.30" cy="173.07" r="1.95" fill="#9ea2a8"/>
<text x="473.40" y="175.06" font-size="5.6" text-anchor="start" stroke="#222" stroke-width="0.06" fill="#222">Topo</text>
<line x1="461.40" y1="180.14" x2="471.00" y2="180.14" stroke="#fbb36c" stroke-width="0.8"/>
<circle cx="466.30" cy="180.14" r="1.95" fill="#fbb36c"/>
<text x="473.40" y="182.13" font-size="5.6" text-anchor="start" stroke="#222" stroke-width="0.06" fill="#222">0.003 µmol/L Topo</text>
<line x1="461.40" y1="187.21" x2="471.00" y2="187.21" stroke="#f9a03f" stroke-width="0.8"/>
<circle cx="466.30" cy="187.21" r="1.95" fill="#f9a03f"/>
<text x="473.40" y="189.20" font-size="5.6" text-anchor="start" stroke="#222" stroke-width="0.06" fill="#222">0.01 µmol/L Topo</text>
<line x1="461.40" y1="194.28" x2="471.00" y2="194.28" stroke="#f5861f" stroke-width="0.8"/>
<circle cx="466.30" cy="194.28" r="1.95" fill="#f5861f"/>
<text x="473.40" y="196.27" font-size="5.6" text-anchor="start" stroke="#222" stroke-width="0.06" fill="#222">0.03 µmol/L Topo</text>
<line x1="461.40" y1="201.35" x2="471.00" y2="201.35" stroke="#ec5b1c" stroke-width="0.8"/>
<circle cx="466.30" cy="201.35" r="1.95" fill="#ec5b1c"/>
<text x="473.40" y="203.34" font-size="5.6" text-anchor="start" stroke="#222" stroke-width="0.06" fill="#222">0.1 µmol/L Topo</text>
<line x1="461.40" y1="208.42" x2="471.00" y2="208.42" stroke="#b9561a" stroke-width="0.8"/>
<circle cx="466.30" cy="208.42" r="1.95" fill="#b9561a"/>
<text x="473.40" y="210.41" font-size="5.6" text-anchor="start" stroke="#222" stroke-width="0.06" fill="#222">0.3 µmol/L Topo</text>
<line x1="463.10" y1="375.00" x2="472.70" y2="375.00" stroke="#141414" stroke-width="0.8"/>
<circle cx="468.00" cy="375.00" r="1.95" fill="#141414"/>
<text x="475.90" y="376.99" font-size="5.6" text-anchor="start" stroke="#222" stroke-width="0.06" fill="#222">AZD-1390</text>
<line x1="463.10" y1="382.07" x2="472.70" y2="382.07" stroke="#9ea2a8" stroke-width="0.8"/>
<circle cx="468.00" cy="382.07" r="1.95" fill="#9ea2a8"/>
<text x="475.90" y="384.06" font-size="5.6" text-anchor="start" stroke="#222" stroke-width="0.06" fill="#222">Trab</text>
<line x1="463.10" y1="389.14" x2="472.70" y2="389.14" stroke="#fbb36c" stroke-width="0.8"/>
<circle cx="468.00" cy="389.14" r="1.95" fill="#fbb36c"/>
<text x="475.90" y="391.13" font-size="5.6" text-anchor="start" stroke="#222" stroke-width="0.06" fill="#222">0.03 nmol/L Trab</text>
<line x1="463.10" y1="396.21" x2="472.70" y2="396.21" stroke="#f9a03f" stroke-width="0.8"/>
<circle cx="468.00" cy="396.21" r="1.95" fill="#f9a03f"/>
<text x="475.90" y="398.20" font-size="5.6" text-anchor="start" stroke="#222" stroke-width="0.06" fill="#222">0.1 nmol/L Trab</text>
<line x1="463.10" y1="403.28" x2="472.70" y2="403.28" stroke="#f5861f" stroke-width="0.8"/>
<circle cx="468.00" cy="403.28" r="1.95" fill="#f5861f"/>
<text x="475.90" y="405.27" font-size="5.6" text-anchor="start" stroke="#222" stroke-width="0.06" fill="#222">0.3 nmol/L Trab</text>
<line x1="463.10" y1="410.35" x2="472.70" y2="410.35" stroke="#ec5b1c" stroke-width="0.8"/>
<circle cx="468.00" cy="410.35" r="1.95" fill="#ec5b1c"/>
<text x="475.90" y="412.34" font-size="5.6" text-anchor="start" stroke="#222" stroke-width="0.06" fill="#222">1 nmol/L Trab</text>
<line x1="463.10" y1="417.42" x2="472.70" y2="417.42" stroke="#b9561a" stroke-width="0.8"/>
<circle cx="468.00" cy="417.42" r="1.95" fill="#b9561a"/>
<text x="475.90" y="419.41" font-size="5.6" text-anchor="start" stroke="#222" stroke-width="0.06" fill="#222">3 nmol/L Trab</text>
<rect x="30.20" y="243.20" width="10.73" height="12.84" fill="#f8f3a7"/>
<rect x="40.93" y="243.20" width="10.73" height="12.84" fill="#f8f3a7"/>
<rect x="51.67" y="243.20" width="10.73" height="12.84" fill="#f8f3a7"/>
<rect x="62.40" y="243.20" width="10.73" height="12.84" fill="#f8f3a7"/>
<rect x="73.13" y="243.20" width="10.73" height="12.84" fill="#f8f3a7"/>
<rect x="83.87" y="243.20" width="10.73" height="12.84" fill="#f8efa3"/>
<rect x="30.20" y="256.04" width="10.73" height="12.84" fill="#f8df93"/>
<rect x="40.93" y="256.04" width="10.73" height="12.84" fill="#f9e99c"/>
<rect x="51.67" y="256.04" width="10.73" height="12.84" fill="#f9e99c"/>
<rect x="62.40" y="256.04" width="10.73" height="12.84" fill="#f9e99c"/>
<rect x="73.13" y="256.04" width="10.73" height="12.84" fill="#f8df93"/>
<rect x="83.87" y="256.04" width="10.73" height="12.84" fill="#f8df93"/>
<rect x="30.20" y="268.88" width="10.73" height="12.84" fill="#f4f2a8"/>
<rect x="40.93" y="268.88" width="10.73" height="12.84" fill="#f1f1a9"/>
<rect x="51.67" y="268.88" width="10.73" height="12.84" fill="#e7eeae"/>
<rect x="62.40" y="268.88" width="10.73" height="12.84" fill="#e0eab0"/>
<rect x="73.13" y="268.88" width="10.73" height="12.84" fill="#dbe8b4"/>
<rect x="83.87" y="268.88" width="10.73" height="12.84" fill="#e0eab0"/>
<rect x="30.20" y="281.72" width="10.73" height="12.84" fill="#5e95d5"/>
<rect x="40.93" y="281.72" width="10.73" height="12.84" fill="#5e95d5"/>
<rect x="51.67" y="281.72" width="10.73" height="12.84" fill="#5e95d5"/>
<rect x="62.40" y="281.72" width="10.73" height="12.84" fill="#5e95d5"/>
<rect x="73.13" y="281.72" width="10.73" height="12.84" fill="#5f96d6"/>
<rect x="83.87" y="281.72" width="10.73" height="12.84" fill="#6aa0d9"/>
<rect x="30.20" y="294.56" width="10.73" height="12.84" fill="#598fd2"/>
<rect x="40.93" y="294.56" width="10.73" height="12.84" fill="#598fd2"/>
<rect x="51.67" y="294.56" width="10.73" height="12.84" fill="#598fd2"/>
<rect x="62.40" y="294.56" width="10.73" height="12.84" fill="#598ed2"/>
<rect x="73.13" y="294.56" width="10.73" height="12.84" fill="#598fd2"/>
<rect x="83.87" y="294.56" width="10.73" height="12.84" fill="#598fd3"/>
<line x1="40.93" y1="243.20" x2="40.93" y2="307.40" stroke="#ffffff" stroke-width="0.5" stroke-opacity="0.55"/>
<line x1="51.67" y1="243.20" x2="51.67" y2="307.40" stroke="#ffffff" stroke-width="0.5" stroke-opacity="0.55"/>
<line x1="62.40" y1="243.20" x2="62.40" y2="307.40" stroke="#ffffff" stroke-width="0.5" stroke-opacity="0.55"/>
<line x1="73.13" y1="243.20" x2="73.13" y2="307.40" stroke="#ffffff" stroke-width="0.5" stroke-opacity="0.55"/>
<line x1="83.87" y1="243.20" x2="83.87" y2="307.40" stroke="#ffffff" stroke-width="0.5" stroke-opacity="0.55"/>
<line x1="30.20" y1="256.04" x2="94.60" y2="256.04" stroke="#ffffff" stroke-width="0.5" stroke-opacity="0.55"/>
<line x1="30.20" y1="268.88" x2="94.60" y2="268.88" stroke="#ffffff" stroke-width="0.5" stroke-opacity="0.55"/>
<line x1="30.20" y1="281.72" x2="94.60" y2="281.72" stroke="#ffffff" stroke-width="0.5" stroke-opacity="0.55"/>
<line x1="30.20" y1="294.56" x2="94.60" y2="294.56" stroke="#ffffff" stroke-width="0.5" stroke-opacity="0.55"/>
<rect x="30.20" y="243.20" width="64.40" height="64.20" fill="none" stroke="#b0b0b0" stroke-width="0.6"/>
<text x="35.57" y="251.75" font-size="6.0" text-anchor="middle" stroke="#333" stroke-width="0.05" fill="#333">0</text>
<text x="46.30" y="251.75" font-size="6.0" text-anchor="middle" stroke="#333" stroke-width="0.05" fill="#333">0</text>
<text x="57.03" y="251.75" font-size="6.0" text-anchor="middle" stroke="#333" stroke-width="0.05" fill="#333">0</text>
<text x="67.77" y="251.75" font-size="6.0" text-anchor="middle" stroke="#333" stroke-width="0.05" fill="#333">0</text>
<text x="78.50" y="251.75" font-size="6.0" text-anchor="middle" stroke="#333" stroke-width="0.05" fill="#333">0</text>
<text x="89.23" y="251.75" font-size="6.0" text-anchor="middle" stroke="#333" stroke-width="0.05" fill="#333">-1</text>
<text x="35.57" y="264.59" font-size="6.0" text-anchor="middle" stroke="#333" stroke-width="0.05" fill="#333">-3</text>
<text x="46.30" y="264.59" font-size="6.0" text-anchor="middle" stroke="#333" stroke-width="0.05" fill="#333">-2</text>
<text x="57.03" y="264.59" font-size="6.0" text-anchor="middle" stroke="#333" stroke-width="0.05" fill="#333">-2</text>
<text x="67.77" y="264.59" font-size="6.0" text-anchor="middle" stroke="#333" stroke-width="0.05" fill="#333">-2</text>
<text x="78.50" y="264.59" font-size="6.0" text-anchor="middle" stroke="#333" stroke-width="0.05" fill="#333">-3</text>
<text x="89.23" y="264.59" font-size="6.0" text-anchor="middle" stroke="#333" stroke-width="0.05" fill="#333">-3</text>
<text x="35.57" y="277.43" font-size="6.0" text-anchor="middle" stroke="#333" stroke-width="0.05" fill="#333">1</text>
<text x="46.30" y="277.43" font-size="6.0" text-anchor="middle" stroke="#333" stroke-width="0.05" fill="#333">2</text>
<text x="57.03" y="277.43" font-size="6.0" text-anchor="middle" stroke="#333" stroke-width="0.05" fill="#333">4</text>
<text x="67.77" y="277.43" font-size="6.0" text-anchor="middle" stroke="#333" stroke-width="0.05" fill="#333">5</text>
<text x="78.50" y="277.43" font-size="6.0" text-anchor="middle" stroke="#333" stroke-width="0.05" fill="#333">6</text>
<text x="89.23" y="277.43" font-size="6.0" text-anchor="middle" stroke="#333" stroke-width="0.05" fill="#333">5</text>
<text x="35.57" y="290.27" font-size="6.0" text-anchor="middle" stroke="#333" stroke-width="0.05" fill="#333">33</text>
<text x="46.30" y="290.27" font-size="6.0" text-anchor="middle" stroke="#333" stroke-width="0.05" fill="#333">33</text>
<text x="57.03" y="290.27" font-size="6.0" text-anchor="middle" stroke="#333" stroke-width="0.05" fill="#333">33</text>
<text x="67.77" y="290.27" font-size="6.0" text-anchor="middle" stroke="#333" stroke-width="0.05" fill="#333">33</text>
<text x="78.50" y="290.27" font-size="6.0" text-anchor="middle" stroke="#333" stroke-width="0.05" fill="#333">31</text>
<text x="89.23" y="290.27" font-size="6.0" text-anchor="middle" stroke="#333" stroke-width="0.05" fill="#333">25</text>
<text x="35.57" y="303.11" font-size="6.0" text-anchor="middle" stroke="#333" stroke-width="0.05" fill="#333">60</text>
<text x="46.30" y="303.11" font-size="6.0" text-anchor="middle" stroke="#333" stroke-width="0.05" fill="#333">61</text>
<text x="57.03" y="303.11" font-size="6.0" text-anchor="middle" stroke="#333" stroke-width="0.05" fill="#333">62</text>
<text x="67.77" y="303.11" font-size="6.0" text-anchor="middle" stroke="#333" stroke-width="0.05" fill="#333">63</text>
<text x="78.50" y="303.11" font-size="6.0" text-anchor="middle" stroke="#333" stroke-width="0.05" fill="#333">61</text>
<text x="89.23" y="303.11" font-size="6.0" text-anchor="middle" stroke="#333" stroke-width="0.05" fill="#333">52</text>
<line x1="27.40" y1="249.62" x2="30.20" y2="249.62" stroke="#8c8c8c" stroke-width="0.7"/>
<text x="26.80" y="251.99" font-size="6.4" text-anchor="end" stroke="#333" stroke-width="0.12" fill="#333">0.3</text>
<line x1="27.40" y1="262.46" x2="30.20" y2="262.46" stroke="#8c8c8c" stroke-width="0.7"/>
<text x="26.80" y="264.83" font-size="6.4" text-anchor="end" stroke="#333" stroke-width="0.12" fill="#333">0.1</text>
<line x1="27.40" y1="275.30" x2="30.20" y2="275.30" stroke="#8c8c8c" stroke-width="0.7"/>
<text x="26.80" y="277.67" font-size="6.4" text-anchor="end" stroke="#333" stroke-width="0.12" fill="#333">0.03</text>
<line x1="27.40" y1="288.14" x2="30.20" y2="288.14" stroke="#8c8c8c" stroke-width="0.7"/>
<text x="26.80" y="290.51" font-size="6.4" text-anchor="end" stroke="#333" stroke-width="0.12" fill="#333">0.01</text>
<line x1="27.40" y1="300.98" x2="30.20" y2="300.98" stroke="#8c8c8c" stroke-width="0.7"/>
<text x="26.80" y="303.35" font-size="6.4" text-anchor="end" stroke="#333" stroke-width="0.12" fill="#333">0.003</text>
<line x1="35.57" y1="307.40" x2="35.57" y2="309.60" stroke="#8c8c8c" stroke-width="0.7"/>
<text x="37.97" y="310.40" font-size="6.7" text-anchor="end" fill="#333" stroke="#333" stroke-width="0.08" transform="rotate(-90 37.97 310.40)">0.03</text>
<line x1="46.30" y1="307.40" x2="46.30" y2="309.60" stroke="#8c8c8c" stroke-width="0.7"/>
<text x="48.70" y="310.40" font-size="6.7" text-anchor="end" fill="#333" stroke="#333" stroke-width="0.08" transform="rotate(-90 48.70 310.40)">0.1</text>
<line x1="57.03" y1="307.40" x2="57.03" y2="309.60" stroke="#8c8c8c" stroke-width="0.7"/>
<text x="59.43" y="310.40" font-size="6.7" text-anchor="end" fill="#333" stroke="#333" stroke-width="0.08" transform="rotate(-90 59.43 310.40)">0.3</text>
<line x1="67.77" y1="307.40" x2="67.77" y2="309.60" stroke="#8c8c8c" stroke-width="0.7"/>
<text x="70.17" y="310.40" font-size="6.7" text-anchor="end" fill="#333" stroke="#333" stroke-width="0.08" transform="rotate(-90 70.17 310.40)">1</text>
<line x1="78.50" y1="307.40" x2="78.50" y2="309.60" stroke="#8c8c8c" stroke-width="0.7"/>
<text x="80.90" y="310.40" font-size="6.7" text-anchor="end" fill="#333" stroke="#333" stroke-width="0.08" transform="rotate(-90 80.90 310.40)">3</text>
<line x1="89.23" y1="307.40" x2="89.23" y2="309.60" stroke="#8c8c8c" stroke-width="0.7"/>
<text x="91.63" y="310.40" font-size="6.7" text-anchor="end" fill="#333" stroke="#333" stroke-width="0.08" transform="rotate(-90 91.63 310.40)">10</text>
<rect x="120.00" y="243.20" width="10.73" height="12.84" fill="#f8efa3"/>
<rect x="130.73" y="243.20" width="10.73" height="12.84" fill="#f4f2a8"/>
<rect x="141.47" y="243.20" width="10.73" height="12.84" fill="#f4f2a8"/>
<rect x="152.20" y="243.20" width="10.73" height="12.84" fill="#f4f2a8"/>
<rect x="162.93" y="243.20" width="10.73" height="12.84" fill="#f4f2a8"/>
<rect x="173.67" y="243.20" width="10.73" height="12.84" fill="#f4f2a8"/>
<rect x="120.00" y="256.04" width="10.73" height="12.84" fill="#f8f3a7"/>
<rect x="130.73" y="256.04" width="10.73" height="12.84" fill="#f4f2a8"/>
<rect x="141.47" y="256.04" width="10.73" height="12.84" fill="#f4f2a8"/>
<rect x="152.20" y="256.04" width="10.73" height="12.84" fill="#f4f2a8"/>
<rect x="162.93" y="256.04" width="10.73" height="12.84" fill="#f4f2a8"/>
<rect x="173.67" y="256.04" width="10.73" height="12.84" fill="#f8f3a7"/>
<rect x="120.00" y="268.88" width="10.73" height="12.84" fill="#f4f2a8"/>
<rect x="130.73" y="268.88" width="10.73" height="12.84" fill="#f4f2a8"/>
<rect x="141.47" y="268.88" width="10.73" height="12.84" fill="#f4f2a8"/>
<rect x="152.20" y="268.88" width="10.73" height="12.84" fill="#f4f2a8"/>
<rect x="162.93" y="268.88" width="10.73" height="12.84" fill="#f4f2a8"/>
<rect x="173.67" y="268.88" width="10.73" height="12.84" fill="#f8f3a7"/>
<rect x="120.00" y="281.72" width="10.73" height="12.84" fill="#588dd2"/>
<rect x="130.73" y="281.72" width="10.73" height="12.84" fill="#588dd2"/>
<rect x="141.47" y="281.72" width="10.73" height="12.84" fill="#588ed2"/>
<rect x="152.20" y="281.72" width="10.73" height="12.84" fill="#588ed2"/>
<rect x="162.93" y="281.72" width="10.73" height="12.84" fill="#588ed2"/>
<rect x="173.67" y="281.72" width="10.73" height="12.84" fill="#588ed2"/>
<rect x="120.00" y="294.56" width="10.73" height="12.84" fill="#598fd3"/>
<rect x="130.73" y="294.56" width="10.73" height="12.84" fill="#5a90d3"/>
<rect x="141.47" y="294.56" width="10.73" height="12.84" fill="#5a90d3"/>
<rect x="152.20" y="294.56" width="10.73" height="12.84" fill="#5a90d3"/>
<rect x="162.93" y="294.56" width="10.73" height="12.84" fill="#5a90d3"/>
<rect x="173.67" y="294.56" width="10.73" height="12.84" fill="#5d94d4"/>
<line x1="130.73" y1="243.20" x2="130.73" y2="307.40" stroke="#ffffff" stroke-width="0.5" stroke-opacity="0.55"/>
<line x1="141.47" y1="243.20" x2="141.47" y2="307.40" stroke="#ffffff" stroke-width="0.5" stroke-opacity="0.55"/>
<line x1="152.20" y1="243.20" x2="152.20" y2="307.40" stroke="#ffffff" stroke-width="0.5" stroke-opacity="0.55"/>
<line x1="162.93" y1="243.20" x2="162.93" y2="307.40" stroke="#ffffff" stroke-width="0.5" stroke-opacity="0.55"/>
<line x1="173.67" y1="243.20" x2="173.67" y2="307.40" stroke="#ffffff" stroke-width="0.5" stroke-opacity="0.55"/>
<line x1="120.00" y1="256.04" x2="184.40" y2="256.04" stroke="#ffffff" stroke-width="0.5" stroke-opacity="0.55"/>
<line x1="120.00" y1="268.88" x2="184.40" y2="268.88" stroke="#ffffff" stroke-width="0.5" stroke-opacity="0.55"/>
<line x1="120.00" y1="281.72" x2="184.40" y2="281.72" stroke="#ffffff" stroke-width="0.5" stroke-opacity="0.55"/>
<line x1="120.00" y1="294.56" x2="184.40" y2="294.56" stroke="#ffffff" stroke-width="0.5" stroke-opacity="0.55"/>
<rect x="120.00" y="243.20" width="64.40" height="64.20" fill="none" stroke="#b0b0b0" stroke-width="0.6"/>
<text x="125.37" y="251.75" font-size="6.0" text-anchor="middle" stroke="#333" stroke-width="0.05" fill="#333">-1</text>
<text x="136.10" y="251.75" font-size="6.0" text-anchor="middle" stroke="#333" stroke-width="0.05" fill="#333">1</text>
<text x="146.83" y="251.75" font-size="6.0" text-anchor="middle" stroke="#333" stroke-width="0.05" fill="#333">1</text>
<text x="157.57" y="251.75" font-size="6.0" text-anchor="middle" stroke="#333" stroke-width="0.05" fill="#333">1</text>
<text x="168.30" y="251.75" font-size="6.0" text-anchor="middle" stroke="#333" stroke-width="0.05" fill="#333">1</text>
<text x="179.03" y="251.75" font-size="6.0" text-anchor="middle" stroke="#333" stroke-width="0.05" fill="#333">1</text>
<text x="125.37" y="264.59" font-size="6.0" text-anchor="middle" stroke="#333" stroke-width="0.05" fill="#333">0</text>
<text x="136.10" y="264.59" font-size="6.0" text-anchor="middle" stroke="#333" stroke-width="0.05" fill="#333">1</text>
<text x="146.83" y="264.59" font-size="6.0" text-anchor="middle" stroke="#333" stroke-width="0.05" fill="#333">1</text>
<text x="157.57" y="264.59" font-size="6.0" text-anchor="middle" stroke="#333" stroke-width="0.05" fill="#333">1</text>
<text x="168.30" y="264.59" font-size="6.0" text-anchor="middle" stroke="#333" stroke-width="0.05" fill="#333">1</text>
<text x="179.03" y="264.59" font-size="6.0" text-anchor="middle" stroke="#333" stroke-width="0.05" fill="#333">0</text>
<text x="125.37" y="277.43" font-size="6.0" text-anchor="middle" stroke="#333" stroke-width="0.05" fill="#333">1</text>
<text x="136.10" y="277.43" font-size="6.0" text-anchor="middle" stroke="#333" stroke-width="0.05" fill="#333">1</text>
<text x="146.83" y="277.43" font-size="6.0" text-anchor="middle" stroke="#333" stroke-width="0.05" fill="#333">1</text>
<text x="157.57" y="277.43" font-size="6.0" text-anchor="middle" stroke="#333" stroke-width="0.05" fill="#333">1</text>
<text x="168.30" y="277.43" font-size="6.0" text-anchor="middle" stroke="#333" stroke-width="0.05" fill="#333">1</text>
<text x="179.03" y="277.43" font-size="6.0" text-anchor="middle" stroke="#333" stroke-width="0.05" fill="#333">0</text>
<text x="125.37" y="290.27" font-size="6.0" text-anchor="middle" stroke="#333" stroke-width="0.05" fill="#333">78</text>
<text x="136.10" y="290.27" font-size="6.0" text-anchor="middle" stroke="#333" stroke-width="0.05" fill="#333">78</text>
<text x="146.83" y="290.27" font-size="6.0" text-anchor="middle" stroke="#333" stroke-width="0.05" fill="#333">77</text>
<text x="157.57" y="290.27" font-size="6.0" text-anchor="middle" stroke="#333" stroke-width="0.05" fill="#333">77</text>
<text x="168.30" y="290.27" font-size="6.0" text-anchor="middle" stroke="#333" stroke-width="0.05" fill="#333">75</text>
<text x="179.03" y="290.27" font-size="6.0" text-anchor="middle" stroke="#333" stroke-width="0.05" fill="#333">70</text>
<text x="125.37" y="303.11" font-size="6.0" text-anchor="middle" stroke="#333" stroke-width="0.05" fill="#333">54</text>
<text x="136.10" y="303.11" font-size="6.0" text-anchor="middle" stroke="#333" stroke-width="0.05" fill="#333">47</text>
<text x="146.83" y="303.11" font-size="6.0" text-anchor="middle" stroke="#333" stroke-width="0.05" fill="#333">45</text>
<text x="157.57" y="303.11" font-size="6.0" text-anchor="middle" stroke="#333" stroke-width="0.05" fill="#333">43</text>
<text x="168.30" y="303.11" font-size="6.0" text-anchor="middle" stroke="#333" stroke-width="0.05" fill="#333">41</text>
<text x="179.03" y="303.11" font-size="6.0" text-anchor="middle" stroke="#333" stroke-width="0.05" fill="#333">35</text>
<line x1="117.20" y1="249.62" x2="120.00" y2="249.62" stroke="#8c8c8c" stroke-width="0.7"/>
<text x="116.60" y="251.99" font-size="6.4" text-anchor="end" stroke="#333" stroke-width="0.12" fill="#333">0.3</text>
<line x1="117.20" y1="262.46" x2="120.00" y2="262.46" stroke="#8c8c8c" stroke-width="0.7"/>
<text x="116.60" y="264.83" font-size="6.4" text-anchor="end" stroke="#333" stroke-width="0.12" fill="#333">0.1</text>
<line x1="117.20" y1="275.30" x2="120.00" y2="275.30" stroke="#8c8c8c" stroke-width="0.7"/>
<text x="116.60" y="277.67" font-size="6.4" text-anchor="end" stroke="#333" stroke-width="0.12" fill="#333">0.03</text>
<line x1="117.20" y1="288.14" x2="120.00" y2="288.14" stroke="#8c8c8c" stroke-width="0.7"/>
<text x="116.60" y="290.51" font-size="6.4" text-anchor="end" stroke="#333" stroke-width="0.12" fill="#333">0.01</text>
<line x1="117.20" y1="300.98" x2="120.00" y2="300.98" stroke="#8c8c8c" stroke-width="0.7"/>
<text x="116.60" y="303.35" font-size="6.4" text-anchor="end" stroke="#333" stroke-width="0.12" fill="#333">0.003</text>
<line x1="125.37" y1="307.40" x2="125.37" y2="309.60" stroke="#8c8c8c" stroke-width="0.7"/>
<text x="127.77" y="310.40" font-size="6.7" text-anchor="end" fill="#333" stroke="#333" stroke-width="0.08" transform="rotate(-90 127.77 310.40)">0.03</text>
<line x1="136.10" y1="307.40" x2="136.10" y2="309.60" stroke="#8c8c8c" stroke-width="0.7"/>
<text x="138.50" y="310.40" font-size="6.7" text-anchor="end" fill="#333" stroke="#333" stroke-width="0.08" transform="rotate(-90 138.50 310.40)">0.1</text>
<line x1="146.83" y1="307.40" x2="146.83" y2="309.60" stroke="#8c8c8c" stroke-width="0.7"/>
<text x="149.23" y="310.40" font-size="6.7" text-anchor="end" fill="#333" stroke="#333" stroke-width="0.08" transform="rotate(-90 149.23 310.40)">0.3</text>
<line x1="157.57" y1="307.40" x2="157.57" y2="309.60" stroke="#8c8c8c" stroke-width="0.7"/>
<text x="159.97" y="310.40" font-size="6.7" text-anchor="end" fill="#333" stroke="#333" stroke-width="0.08" transform="rotate(-90 159.97 310.40)">1</text>
<line x1="168.30" y1="307.40" x2="168.30" y2="309.60" stroke="#8c8c8c" stroke-width="0.7"/>
<text x="170.70" y="310.40" font-size="6.7" text-anchor="end" fill="#333" stroke="#333" stroke-width="0.08" transform="rotate(-90 170.70 310.40)">3</text>
<line x1="179.03" y1="307.40" x2="179.03" y2="309.60" stroke="#8c8c8c" stroke-width="0.7"/>
<text x="181.43" y="310.40" font-size="6.7" text-anchor="end" fill="#333" stroke="#333" stroke-width="0.08" transform="rotate(-90 181.43 310.40)">10</text>
<rect x="211.70" y="243.20" width="10.73" height="12.84" fill="#f8f3a7"/>
<rect x="222.43" y="243.20" width="10.73" height="12.84" fill="#f8f3a7"/>
<rect x="233.17" y="243.20" width="10.73" height="12.84" fill="#f8f3a7"/>
<rect x="243.90" y="243.20" width="10.73" height="12.84" fill="#f8f3a7"/>
<rect x="254.63" y="243.20" width="10.73" height="12.84" fill="#f8f3a7"/>
<rect x="265.37" y="243.20" width="10.73" height="12.84" fill="#f8efa3"/>
<rect x="211.70" y="256.04" width="10.73" height="12.84" fill="#f8f3a7"/>
<rect x="222.43" y="256.04" width="10.73" height="12.84" fill="#f8f3a7"/>
<rect x="233.17" y="256.04" width="10.73" height="12.84" fill="#f8f3a7"/>
<rect x="243.90" y="256.04" width="10.73" height="12.84" fill="#f8f3a7"/>
<rect x="254.63" y="256.04" width="10.73" height="12.84" fill="#f8f3a7"/>
<rect x="265.37" y="256.04" width="10.73" height="12.84" fill="#f8efa3"/>
<rect x="211.70" y="268.88" width="10.73" height="12.84" fill="#84b8e0"/>
<rect x="222.43" y="268.88" width="10.73" height="12.84" fill="#80b5e0"/>
<rect x="233.17" y="268.88" width="10.73" height="12.84" fill="#80b5e0"/>
<rect x="243.90" y="268.88" width="10.73" height="12.84" fill="#80b5e0"/>
<rect x="254.63" y="268.88" width="10.73" height="12.84" fill="#80b5e0"/>
<rect x="265.37" y="268.88" width="10.73" height="12.84" fill="#e7eeae"/>
<rect x="211.70" y="281.72" width="10.73" height="12.84" fill="#578cd1"/>
<rect x="222.43" y="281.72" width="10.73" height="12.84" fill="#578cd1"/>
<rect x="233.17" y="281.72" width="10.73" height="12.84" fill="#578cd1"/>
<rect x="243.90" y="281.72" width="10.73" height="12.84" fill="#578cd1"/>
<rect x="254.63" y="281.72" width="10.73" height="12.84" fill="#578cd1"/>
<rect x="265.37" y="281.72" width="10.73" height="12.84" fill="#71a7dc"/>
<rect x="211.70" y="294.56" width="10.73" height="12.84" fill="#588ed2"/>
<rect x="222.43" y="294.56" width="10.73" height="12.84" fill="#588dd2"/>
<rect x="233.17" y="294.56" width="10.73" height="12.84" fill="#588dd2"/>
<rect x="243.90" y="294.56" width="10.73" height="12.84" fill="#588dd1"/>
<rect x="254.63" y="294.56" width="10.73" height="12.84" fill="#578dd1"/>
<rect x="265.37" y="294.56" width="10.73" height="12.84" fill="#84b8e0"/>
<line x1="222.43" y1="243.20" x2="222.43" y2="307.40" stroke="#ffffff" stroke-width="0.5" stroke-opacity="0.55"/>
<line x1="233.17" y1="243.20" x2="233.17" y2="307.40" stroke="#ffffff" stroke-width="0.5" stroke-opacity="0.55"/>
<line x1="243.90" y1="243.20" x2="243.90" y2="307.40" stroke="#ffffff" stroke-width="0.5" stroke-opacity="0.55"/>
<line x1="254.63" y1="243.20" x2="254.63" y2="307.40" stroke="#ffffff" stroke-width="0.5" stroke-opacity="0.55"/>
<line x1="265.37" y1="243.20" x2="265.37" y2="307.40" stroke="#ffffff" stroke-width="0.5" stroke-opacity="0.55"/>
<line x1="211.70" y1="256.04" x2="276.10" y2="256.04" stroke="#ffffff" stroke-width="0.5" stroke-opacity="0.55"/>
<line x1="211.70" y1="268.88" x2="276.10" y2="268.88" stroke="#ffffff" stroke-width="0.5" stroke-opacity="0.55"/>
<line x1="211.70" y1="281.72" x2="276.10" y2="281.72" stroke="#ffffff" stroke-width="0.5" stroke-opacity="0.55"/>
<line x1="211.70" y1="294.56" x2="276.10" y2="294.56" stroke="#ffffff" stroke-width="0.5" stroke-opacity="0.55"/>
<rect x="211.70" y="243.20" width="64.40" height="64.20" fill="none" stroke="#b0b0b0" stroke-width="0.6"/>
<text x="217.07" y="251.75" font-size="6.0" text-anchor="middle" stroke="#333" stroke-width="0.05" fill="#333">0</text>
<text x="227.80" y="251.75" font-size="6.0" text-anchor="middle" stroke="#333" stroke-width="0.05" fill="#333">0</text>
<text x="238.53" y="251.75" font-size="6.0" text-anchor="middle" stroke="#333" stroke-width="0.05" fill="#333">0</text>
<text x="249.27" y="251.75" font-size="6.0" text-anchor="middle" stroke="#333" stroke-width="0.05" fill="#333">0</text>
<text x="260.00" y="251.75" font-size="6.0" text-anchor="middle" stroke="#333" stroke-width="0.05" fill="#333">0</text>
<text x="270.73" y="251.75" font-size="6.0" text-anchor="middle" stroke="#333" stroke-width="0.05" fill="#333">-1</text>
<text x="217.07" y="264.59" font-size="6.0" text-anchor="middle" stroke="#333" stroke-width="0.05" fill="#333">0</text>
<text x="227.80" y="264.59" font-size="6.0" text-anchor="middle" stroke="#333" stroke-width="0.05" fill="#333">0</text>
<text x="238.53" y="264.59" font-size="6.0" text-anchor="middle" stroke="#333" stroke-width="0.05" fill="#333">0</text>
<text x="249.27" y="264.59" font-size="6.0" text-anchor="middle" stroke="#333" stroke-width="0.05" fill="#333">0</text>
<text x="260.00" y="264.59" font-size="6.0" text-anchor="middle" stroke="#333" stroke-width="0.05" fill="#333">0</text>
<text x="270.73" y="264.59" font-size="6.0" text-anchor="middle" stroke="#333" stroke-width="0.05" fill="#333">-1</text>
<text x="217.07" y="277.43" font-size="6.0" text-anchor="middle" stroke="#333" stroke-width="0.05" fill="#333">18</text>
<text x="227.80" y="277.43" font-size="6.0" text-anchor="middle" stroke="#333" stroke-width="0.05" fill="#333">19</text>
<text x="238.53" y="277.43" font-size="6.0" text-anchor="middle" stroke="#333" stroke-width="0.05" fill="#333">19</text>
<text x="249.27" y="277.43" font-size="6.0" text-anchor="middle" stroke="#333" stroke-width="0.05" fill="#333">19</text>
<text x="260.00" y="277.43" font-size="6.0" text-anchor="middle" stroke="#333" stroke-width="0.05" fill="#333">19</text>
<text x="270.73" y="277.43" font-size="6.0" text-anchor="middle" stroke="#333" stroke-width="0.05" fill="#333">4</text>
<text x="217.07" y="290.27" font-size="6.0" text-anchor="middle" stroke="#333" stroke-width="0.05" fill="#333">98</text>
<text x="227.80" y="290.27" font-size="6.0" text-anchor="middle" stroke="#333" stroke-width="0.05" fill="#333">99</text>
<text x="238.53" y="290.27" font-size="6.0" text-anchor="middle" stroke="#333" stroke-width="0.05" fill="#333">99</text>
<text x="249.27" y="290.27" font-size="6.0" text-anchor="middle" stroke="#333" stroke-width="0.05" fill="#333">99</text>
<text x="260.00" y="290.27" font-size="6.0" text-anchor="middle" stroke="#333" stroke-width="0.05" fill="#333">99</text>
<text x="270.73" y="290.27" font-size="6.0" text-anchor="middle" stroke="#333" stroke-width="0.05" fill="#333">23</text>
<text x="217.07" y="303.11" font-size="6.0" text-anchor="middle" stroke="#333" stroke-width="0.05" fill="#333">75</text>
<text x="227.80" y="303.11" font-size="6.0" text-anchor="middle" stroke="#333" stroke-width="0.05" fill="#333">79</text>
<text x="238.53" y="303.11" font-size="6.0" text-anchor="middle" stroke="#333" stroke-width="0.05" fill="#333">83</text>
<text x="249.27" y="303.11" font-size="6.0" text-anchor="middle" stroke="#333" stroke-width="0.05" fill="#333">87</text>
<text x="260.00" y="303.11" font-size="6.0" text-anchor="middle" stroke="#333" stroke-width="0.05" fill="#333">91</text>
<text x="270.73" y="303.11" font-size="6.0" text-anchor="middle" stroke="#333" stroke-width="0.05" fill="#333">18</text>
<line x1="208.90" y1="249.62" x2="211.70" y2="249.62" stroke="#8c8c8c" stroke-width="0.7"/>
<text x="208.30" y="251.99" font-size="6.4" text-anchor="end" stroke="#333" stroke-width="0.12" fill="#333">0.3</text>
<line x1="208.90" y1="262.46" x2="211.70" y2="262.46" stroke="#8c8c8c" stroke-width="0.7"/>
<text x="208.30" y="264.83" font-size="6.4" text-anchor="end" stroke="#333" stroke-width="0.12" fill="#333">0.1</text>
<line x1="208.90" y1="275.30" x2="211.70" y2="275.30" stroke="#8c8c8c" stroke-width="0.7"/>
<text x="208.30" y="277.67" font-size="6.4" text-anchor="end" stroke="#333" stroke-width="0.12" fill="#333">0.03</text>
<line x1="208.90" y1="288.14" x2="211.70" y2="288.14" stroke="#8c8c8c" stroke-width="0.7"/>
<text x="208.30" y="290.51" font-size="6.4" text-anchor="end" stroke="#333" stroke-width="0.12" fill="#333">0.01</text>
<line x1="208.90" y1="300.98" x2="211.70" y2="300.98" stroke="#8c8c8c" stroke-width="0.7"/>
<text x="208.30" y="303.35" font-size="6.4" text-anchor="end" stroke="#333" stroke-width="0.12" fill="#333">0.003</text>
<line x1="217.07" y1="307.40" x2="217.07" y2="309.60" stroke="#8c8c8c" stroke-width="0.7"/>
<text x="219.47" y="310.40" font-size="6.7" text-anchor="end" fill="#333" stroke="#333" stroke-width="0.08" transform="rotate(-90 219.47 310.40)">0.03</text>
<line x1="227.80" y1="307.40" x2="227.80" y2="309.60" stroke="#8c8c8c" stroke-width="0.7"/>
<text x="230.20" y="310.40" font-size="6.7" text-anchor="end" fill="#333" stroke="#333" stroke-width="0.08" transform="rotate(-90 230.20 310.40)">0.1</text>
<line x1="238.53" y1="307.40" x2="238.53" y2="309.60" stroke="#8c8c8c" stroke-width="0.7"/>
<text x="240.93" y="310.40" font-size="6.7" text-anchor="end" fill="#333" stroke="#333" stroke-width="0.08" transform="rotate(-90 240.93 310.40)">0.3</text>
<line x1="249.27" y1="307.40" x2="249.27" y2="309.60" stroke="#8c8c8c" stroke-width="0.7"/>
<text x="251.67" y="310.40" font-size="6.7" text-anchor="end" fill="#333" stroke="#333" stroke-width="0.08" transform="rotate(-90 251.67 310.40)">1</text>
<line x1="260.00" y1="307.40" x2="260.00" y2="309.60" stroke="#8c8c8c" stroke-width="0.7"/>
<text x="262.40" y="310.40" font-size="6.7" text-anchor="end" fill="#333" stroke="#333" stroke-width="0.08" transform="rotate(-90 262.40 310.40)">3</text>
<line x1="270.73" y1="307.40" x2="270.73" y2="309.60" stroke="#8c8c8c" stroke-width="0.7"/>
<text x="273.13" y="310.40" font-size="6.7" text-anchor="end" fill="#333" stroke="#333" stroke-width="0.08" transform="rotate(-90 273.13 310.40)">10</text>
<rect x="303.20" y="243.20" width="10.73" height="12.84" fill="#f8efa3"/>
<rect x="313.93" y="243.20" width="10.73" height="12.84" fill="#f8f3a7"/>
<rect x="324.67" y="243.20" width="10.73" height="12.84" fill="#7cb1e0"/>
<rect x="335.40" y="243.20" width="10.73" height="12.84" fill="#5b91d4"/>
<rect x="346.13" y="243.20" width="10.73" height="12.84" fill="#5e95d5"/>
<rect x="356.87" y="243.20" width="10.73" height="12.84" fill="#f4f2a8"/>
<rect x="303.20" y="256.04" width="10.73" height="12.84" fill="#c4e0c4"/>
<rect x="313.93" y="256.04" width="10.73" height="12.84" fill="#9dcbd8"/>
<rect x="324.67" y="256.04" width="10.73" height="12.84" fill="#5f96d5"/>
<rect x="335.40" y="256.04" width="10.73" height="12.84" fill="#5a90d3"/>
<rect x="346.13" y="256.04" width="10.73" height="12.84" fill="#5a90d3"/>
<rect x="356.87" y="256.04" width="10.73" height="12.84" fill="#e7eeae"/>
<rect x="303.20" y="268.88" width="10.73" height="12.84" fill="#689ed8"/>
<rect x="313.93" y="268.88" width="10.73" height="12.84" fill="#6097d6"/>
<rect x="324.67" y="268.88" width="10.73" height="12.84" fill="#5a90d3"/>
<rect x="335.40" y="268.88" width="10.73" height="12.84" fill="#5a8fd3"/>
<rect x="346.13" y="268.88" width="10.73" height="12.84" fill="#5a8fd3"/>
<rect x="356.87" y="268.88" width="10.73" height="12.84" fill="#e7eeae"/>
<rect x="303.20" y="281.72" width="10.73" height="12.84" fill="#6aa0d9"/>
<rect x="313.93" y="281.72" width="10.73" height="12.84" fill="#6aa0d9"/>
<rect x="324.67" y="281.72" width="10.73" height="12.84" fill="#689ed8"/>
<rect x="335.40" y="281.72" width="10.73" height="12.84" fill="#689ed8"/>
<rect x="346.13" y="281.72" width="10.73" height="12.84" fill="#6aa0d9"/>
<rect x="356.87" y="281.72" width="10.73" height="12.84" fill="#dbe8b4"/>
<rect x="303.20" y="294.56" width="10.73" height="12.84" fill="#e7eeae"/>
<rect x="313.93" y="294.56" width="10.73" height="12.84" fill="#e7eeae"/>
<rect x="324.67" y="294.56" width="10.73" height="12.84" fill="#e7eeae"/>
<rect x="335.40" y="294.56" width="10.73" height="12.84" fill="#dbe8b4"/>
<rect x="346.13" y="294.56" width="10.73" height="12.84" fill="#9dcbd8"/>
<rect x="356.87" y="294.56" width="10.73" height="12.84" fill="#d4e6b8"/>
<line x1="313.93" y1="243.20" x2="313.93" y2="307.40" stroke="#ffffff" stroke-width="0.5" stroke-opacity="0.55"/>
<line x1="324.67" y1="243.20" x2="324.67" y2="307.40" stroke="#ffffff" stroke-width="0.5" stroke-opacity="0.55"/>
<line x1="335.40" y1="243.20" x2="335.40" y2="307.40" stroke="#ffffff" stroke-width="0.5" stroke-opacity="0.55"/>
<line x1="346.13" y1="243.20" x2="346.13" y2="307.40" stroke="#ffffff" stroke-width="0.5" stroke-opacity="0.55"/>
<line x1="356.87" y1="243.20" x2="356.87" y2="307.40" stroke="#ffffff" stroke-width="0.5" stroke-opacity="0.55"/>
<line x1="303.20" y1="256.04" x2="367.60" y2="256.04" stroke="#ffffff" stroke-width="0.5" stroke-opacity="0.55"/>
<line x1="303.20" y1="268.88" x2="367.60" y2="268.88" stroke="#ffffff" stroke-width="0.5" stroke-opacity="0.55"/>
<line x1="303.20" y1="281.72" x2="367.60" y2="281.72" stroke="#ffffff" stroke-width="0.5" stroke-opacity="0.55"/>
<line x1="303.20" y1="294.56" x2="367.60" y2="294.56" stroke="#ffffff" stroke-width="0.5" stroke-opacity="0.55"/>
<rect x="303.20" y="243.20" width="64.40" height="64.20" fill="none" stroke="#b0b0b0" stroke-width="0.6"/>
<text x="308.57" y="251.75" font-size="6.0" text-anchor="middle" stroke="#333" stroke-width="0.05" fill="#333">-1</text>
<text x="319.30" y="251.75" font-size="6.0" text-anchor="middle" stroke="#333" stroke-width="0.05" fill="#333">0</text>
<text x="330.03" y="251.75" font-size="6.0" text-anchor="middle" stroke="#333" stroke-width="0.05" fill="#333">20</text>
<text x="340.77" y="251.75" font-size="6.0" text-anchor="middle" stroke="#333" stroke-width="0.05" fill="#333">38</text>
<text x="351.50" y="251.75" font-size="6.0" text-anchor="middle" stroke="#333" stroke-width="0.05" fill="#333">33</text>
<text x="362.23" y="251.75" font-size="6.0" text-anchor="middle" stroke="#333" stroke-width="0.05" fill="#333">1</text>
<text x="308.57" y="264.59" font-size="6.0" text-anchor="middle" stroke="#333" stroke-width="0.05" fill="#333">9</text>
<text x="319.30" y="264.59" font-size="6.0" text-anchor="middle" stroke="#333" stroke-width="0.05" fill="#333">14</text>
<text x="330.03" y="264.59" font-size="6.0" text-anchor="middle" stroke="#333" stroke-width="0.05" fill="#333">32</text>
<text x="340.77" y="264.59" font-size="6.0" text-anchor="middle" stroke="#333" stroke-width="0.05" fill="#333">45</text>
<text x="351.50" y="264.59" font-size="6.0" text-anchor="middle" stroke="#333" stroke-width="0.05" fill="#333">42</text>
<text x="362.23" y="264.59" font-size="6.0" text-anchor="middle" stroke="#333" stroke-width="0.05" fill="#333">4</text>
<text x="308.57" y="277.43" font-size="6.0" text-anchor="middle" stroke="#333" stroke-width="0.05" fill="#333">26</text>
<text x="319.30" y="277.43" font-size="6.0" text-anchor="middle" stroke="#333" stroke-width="0.05" fill="#333">30</text>
<text x="330.03" y="277.43" font-size="6.0" text-anchor="middle" stroke="#333" stroke-width="0.05" fill="#333">40</text>
<text x="340.77" y="277.43" font-size="6.0" text-anchor="middle" stroke="#333" stroke-width="0.05" fill="#333">50</text>
<text x="351.50" y="277.43" font-size="6.0" text-anchor="middle" stroke="#333" stroke-width="0.05" fill="#333">48</text>
<text x="362.23" y="277.43" font-size="6.0" text-anchor="middle" stroke="#333" stroke-width="0.05" fill="#333">4</text>
<text x="308.57" y="290.27" font-size="6.0" text-anchor="middle" stroke="#333" stroke-width="0.05" fill="#333">25</text>
<text x="319.30" y="290.27" font-size="6.0" text-anchor="middle" stroke="#333" stroke-width="0.05" fill="#333">25</text>
<text x="330.03" y="290.27" font-size="6.0" text-anchor="middle" stroke="#333" stroke-width="0.05" fill="#333">26</text>
<text x="340.77" y="290.27" font-size="6.0" text-anchor="middle" stroke="#333" stroke-width="0.05" fill="#333">26</text>
<text x="351.50" y="290.27" font-size="6.0" text-anchor="middle" stroke="#333" stroke-width="0.05" fill="#333">25</text>
<text x="362.23" y="290.27" font-size="6.0" text-anchor="middle" stroke="#333" stroke-width="0.05" fill="#333">6</text>
<text x="308.57" y="303.11" font-size="6.0" text-anchor="middle" stroke="#333" stroke-width="0.05" fill="#333">4</text>
<text x="319.30" y="303.11" font-size="6.0" text-anchor="middle" stroke="#333" stroke-width="0.05" fill="#333">4</text>
<text x="330.03" y="303.11" font-size="6.0" text-anchor="middle" stroke="#333" stroke-width="0.05" fill="#333">4</text>
<text x="340.77" y="303.11" font-size="6.0" text-anchor="middle" stroke="#333" stroke-width="0.05" fill="#333">6</text>
<text x="351.50" y="303.11" font-size="6.0" text-anchor="middle" stroke="#333" stroke-width="0.05" fill="#333">14</text>
<text x="362.23" y="303.11" font-size="6.0" text-anchor="middle" stroke="#333" stroke-width="0.05" fill="#333">7</text>
<line x1="300.40" y1="249.62" x2="303.20" y2="249.62" stroke="#8c8c8c" stroke-width="0.7"/>
<text x="299.80" y="251.99" font-size="6.4" text-anchor="end" stroke="#333" stroke-width="0.12" fill="#333">0.3</text>
<line x1="300.40" y1="262.46" x2="303.20" y2="262.46" stroke="#8c8c8c" stroke-width="0.7"/>
<text x="299.80" y="264.83" font-size="6.4" text-anchor="end" stroke="#333" stroke-width="0.12" fill="#333">0.1</text>
<line x1="300.40" y1="275.30" x2="303.20" y2="275.30" stroke="#8c8c8c" stroke-width="0.7"/>
<text x="299.80" y="277.67" font-size="6.4" text-anchor="end" stroke="#333" stroke-width="0.12" fill="#333">0.03</text>
<line x1="300.40" y1="288.14" x2="303.20" y2="288.14" stroke="#8c8c8c" stroke-width="0.7"/>
<text x="299.80" y="290.51" font-size="6.4" text-anchor="end" stroke="#333" stroke-width="0.12" fill="#333">0.01</text>
<line x1="300.40" y1="300.98" x2="303.20" y2="300.98" stroke="#8c8c8c" stroke-width="0.7"/>
<text x="299.80" y="303.35" font-size="6.4" text-anchor="end" stroke="#333" stroke-width="0.12" fill="#333">0.003</text>
<line x1="308.57" y1="307.40" x2="308.57" y2="309.60" stroke="#8c8c8c" stroke-width="0.7"/>
<text x="310.97" y="310.40" font-size="6.7" text-anchor="end" fill="#333" stroke="#333" stroke-width="0.08" transform="rotate(-90 310.97 310.40)">0.03</text>
<line x1="319.30" y1="307.40" x2="319.30" y2="309.60" stroke="#8c8c8c" stroke-width="0.7"/>
<text x="321.70" y="310.40" font-size="6.7" text-anchor="end" fill="#333" stroke="#333" stroke-width="0.08" transform="rotate(-90 321.70 310.40)">0.1</text>
<line x1="330.03" y1="307.40" x2="330.03" y2="309.60" stroke="#8c8c8c" stroke-width="0.7"/>
<text x="332.43" y="310.40" font-size="6.7" text-anchor="end" fill="#333" stroke="#333" stroke-width="0.08" transform="rotate(-90 332.43 310.40)">0.3</text>
<line x1="340.77" y1="307.40" x2="340.77" y2="309.60" stroke="#8c8c8c" stroke-width="0.7"/>
<text x="343.17" y="310.40" font-size="6.7" text-anchor="end" fill="#333" stroke="#333" stroke-width="0.08" transform="rotate(-90 343.17 310.40)">1</text>
<line x1="351.50" y1="307.40" x2="351.50" y2="309.60" stroke="#8c8c8c" stroke-width="0.7"/>
<text x="353.90" y="310.40" font-size="6.7" text-anchor="end" fill="#333" stroke="#333" stroke-width="0.08" transform="rotate(-90 353.90 310.40)">3</text>
<line x1="362.23" y1="307.40" x2="362.23" y2="309.60" stroke="#8c8c8c" stroke-width="0.7"/>
<text x="364.63" y="310.40" font-size="6.7" text-anchor="end" fill="#333" stroke="#333" stroke-width="0.08" transform="rotate(-90 364.63 310.40)">10</text>
<rect x="393.70" y="243.20" width="10.73" height="12.84" fill="#f1f1a9"/>
<rect x="404.43" y="243.20" width="10.73" height="12.84" fill="#e7eeae"/>
<rect x="415.17" y="243.20" width="10.73" height="12.84" fill="#edf0aa"/>
<rect x="425.90" y="243.20" width="10.73" height="12.84" fill="#f1f1a9"/>
<rect x="436.63" y="243.20" width="10.73" height="12.84" fill="#f8f3a7"/>
<rect x="447.37" y="243.20" width="10.73" height="12.84" fill="#f7c27f"/>
<rect x="393.70" y="256.04" width="10.73" height="12.84" fill="#f8f3a7"/>
<rect x="404.43" y="256.04" width="10.73" height="12.84" fill="#f4f2a8"/>
<rect x="415.17" y="256.04" width="10.73" height="12.84" fill="#f1f1a9"/>
<rect x="425.90" y="256.04" width="10.73" height="12.84" fill="#f1f1a9"/>
<rect x="436.63" y="256.04" width="10.73" height="12.84" fill="#f8f3a7"/>
<rect x="447.37" y="256.04" width="10.73" height="12.84" fill="#f7c27f"/>
<rect x="393.70" y="268.88" width="10.73" height="12.84" fill="#dbe8b4"/>
<rect x="404.43" y="268.88" width="10.73" height="12.84" fill="#c4e0c4"/>
<rect x="415.17" y="268.88" width="10.73" height="12.84" fill="#b3d8ce"/>
<rect x="425.90" y="268.88" width="10.73" height="12.84" fill="#b3d8ce"/>
<rect x="436.63" y="268.88" width="10.73" height="12.84" fill="#d4e6b8"/>
<rect x="447.37" y="268.88" width="10.73" height="12.84" fill="#f8cd88"/>
<rect x="393.70" y="281.72" width="10.73" height="12.84" fill="#5a90d3"/>
<rect x="404.43" y="281.72" width="10.73" height="12.84" fill="#5a8fd3"/>
<rect x="415.17" y="281.72" width="10.73" height="12.84" fill="#5a8fd3"/>
<rect x="425.90" y="281.72" width="10.73" height="12.84" fill="#5a8fd3"/>
<rect x="436.63" y="281.72" width="10.73" height="12.84" fill="#5c92d4"/>
<rect x="447.37" y="281.72" width="10.73" height="12.84" fill="#e0eab0"/>
<rect x="393.70" y="294.56" width="10.73" height="12.84" fill="#5a90d3"/>
<rect x="404.43" y="294.56" width="10.73" height="12.84" fill="#5a90d3"/>
<rect x="415.17" y="294.56" width="10.73" height="12.84" fill="#5a90d3"/>
<rect x="425.90" y="294.56" width="10.73" height="12.84" fill="#5a90d3"/>
<rect x="436.63" y="294.56" width="10.73" height="12.84" fill="#5c92d4"/>
<rect x="447.37" y="294.56" width="10.73" height="12.84" fill="#cde3bc"/>
<line x1="404.43" y1="243.20" x2="404.43" y2="307.40" stroke="#ffffff" stroke-width="0.5" stroke-opacity="0.55"/>
<line x1="415.17" y1="243.20" x2="415.17" y2="307.40" stroke="#ffffff" stroke-width="0.5" stroke-opacity="0.55"/>
<line x1="425.90" y1="243.20" x2="425.90" y2="307.40" stroke="#ffffff" stroke-width="0.5" stroke-opacity="0.55"/>
<line x1="436.63" y1="243.20" x2="436.63" y2="307.40" stroke="#ffffff" stroke-width="0.5" stroke-opacity="0.55"/>
<line x1="447.37" y1="243.20" x2="447.37" y2="307.40" stroke="#ffffff" stroke-width="0.5" stroke-opacity="0.55"/>
<line x1="393.70" y1="256.04" x2="458.10" y2="256.04" stroke="#ffffff" stroke-width="0.5" stroke-opacity="0.55"/>
<line x1="393.70" y1="268.88" x2="458.10" y2="268.88" stroke="#ffffff" stroke-width="0.5" stroke-opacity="0.55"/>
<line x1="393.70" y1="281.72" x2="458.10" y2="281.72" stroke="#ffffff" stroke-width="0.5" stroke-opacity="0.55"/>
<line x1="393.70" y1="294.56" x2="458.10" y2="294.56" stroke="#ffffff" stroke-width="0.5" stroke-opacity="0.55"/>
<rect x="393.70" y="243.20" width="64.40" height="64.20" fill="none" stroke="#b0b0b0" stroke-width="0.6"/>
<text x="399.07" y="251.75" font-size="6.0" text-anchor="middle" stroke="#333" stroke-width="0.05" fill="#333">2</text>
<text x="409.80" y="251.75" font-size="6.0" text-anchor="middle" stroke="#333" stroke-width="0.05" fill="#333">4</text>
<text x="420.53" y="251.75" font-size="6.0" text-anchor="middle" stroke="#333" stroke-width="0.05" fill="#333">3</text>
<text x="431.27" y="251.75" font-size="6.0" text-anchor="middle" stroke="#333" stroke-width="0.05" fill="#333">2</text>
<text x="442.00" y="251.75" font-size="6.0" text-anchor="middle" stroke="#333" stroke-width="0.05" fill="#333">0</text>
<text x="452.73" y="251.75" font-size="6.0" text-anchor="middle" stroke="#333" stroke-width="0.05" fill="#333">-6</text>
<text x="399.07" y="264.59" font-size="6.0" text-anchor="middle" stroke="#333" stroke-width="0.05" fill="#333">0</text>
<text x="409.80" y="264.59" font-size="6.0" text-anchor="middle" stroke="#333" stroke-width="0.05" fill="#333">1</text>
<text x="420.53" y="264.59" font-size="6.0" text-anchor="middle" stroke="#333" stroke-width="0.05" fill="#333">2</text>
<text x="431.27" y="264.59" font-size="6.0" text-anchor="middle" stroke="#333" stroke-width="0.05" fill="#333">2</text>
<text x="442.00" y="264.59" font-size="6.0" text-anchor="middle" stroke="#333" stroke-width="0.05" fill="#333">0</text>
<text x="452.73" y="264.59" font-size="6.0" text-anchor="middle" stroke="#333" stroke-width="0.05" fill="#333">-6</text>
<text x="399.07" y="277.43" font-size="6.0" text-anchor="middle" stroke="#333" stroke-width="0.05" fill="#333">6</text>
<text x="409.80" y="277.43" font-size="6.0" text-anchor="middle" stroke="#333" stroke-width="0.05" fill="#333">9</text>
<text x="420.53" y="277.43" font-size="6.0" text-anchor="middle" stroke="#333" stroke-width="0.05" fill="#333">11</text>
<text x="431.27" y="277.43" font-size="6.0" text-anchor="middle" stroke="#333" stroke-width="0.05" fill="#333">11</text>
<text x="442.00" y="277.43" font-size="6.0" text-anchor="middle" stroke="#333" stroke-width="0.05" fill="#333">7</text>
<text x="452.73" y="277.43" font-size="6.0" text-anchor="middle" stroke="#333" stroke-width="0.05" fill="#333">-5</text>
<text x="399.07" y="290.27" font-size="6.0" text-anchor="middle" stroke="#333" stroke-width="0.05" fill="#333">45</text>
<text x="409.80" y="290.27" font-size="6.0" text-anchor="middle" stroke="#333" stroke-width="0.05" fill="#333">48</text>
<text x="420.53" y="290.27" font-size="6.0" text-anchor="middle" stroke="#333" stroke-width="0.05" fill="#333">49</text>
<text x="431.27" y="290.27" font-size="6.0" text-anchor="middle" stroke="#333" stroke-width="0.05" fill="#333">48</text>
<text x="442.00" y="290.27" font-size="6.0" text-anchor="middle" stroke="#333" stroke-width="0.05" fill="#333">37</text>
<text x="452.73" y="290.27" font-size="6.0" text-anchor="middle" stroke="#333" stroke-width="0.05" fill="#333">5</text>
<text x="399.07" y="303.11" font-size="6.0" text-anchor="middle" stroke="#333" stroke-width="0.05" fill="#333">43</text>
<text x="409.80" y="303.11" font-size="6.0" text-anchor="middle" stroke="#333" stroke-width="0.05" fill="#333">45</text>
<text x="420.53" y="303.11" font-size="6.0" text-anchor="middle" stroke="#333" stroke-width="0.05" fill="#333">46</text>
<text x="431.27" y="303.11" font-size="6.0" text-anchor="middle" stroke="#333" stroke-width="0.05" fill="#333">46</text>
<text x="442.00" y="303.11" font-size="6.0" text-anchor="middle" stroke="#333" stroke-width="0.05" fill="#333">37</text>
<text x="452.73" y="303.11" font-size="6.0" text-anchor="middle" stroke="#333" stroke-width="0.05" fill="#333">8</text>
<line x1="390.90" y1="249.62" x2="393.70" y2="249.62" stroke="#8c8c8c" stroke-width="0.7"/>
<text x="390.30" y="251.99" font-size="6.4" text-anchor="end" stroke="#333" stroke-width="0.12" fill="#333">0.3</text>
<line x1="390.90" y1="262.46" x2="393.70" y2="262.46" stroke="#8c8c8c" stroke-width="0.7"/>
<text x="390.30" y="264.83" font-size="6.4" text-anchor="end" stroke="#333" stroke-width="0.12" fill="#333">0.1</text>
<line x1="390.90" y1="275.30" x2="393.70" y2="275.30" stroke="#8c8c8c" stroke-width="0.7"/>
<text x="390.30" y="277.67" font-size="6.4" text-anchor="end" stroke="#333" stroke-width="0.12" fill="#333">0.03</text>
<line x1="390.90" y1="288.14" x2="393.70" y2="288.14" stroke="#8c8c8c" stroke-width="0.7"/>
<text x="390.30" y="290.51" font-size="6.4" text-anchor="end" stroke="#333" stroke-width="0.12" fill="#333">0.01</text>
<line x1="390.90" y1="300.98" x2="393.70" y2="300.98" stroke="#8c8c8c" stroke-width="0.7"/>
<text x="390.30" y="303.35" font-size="6.4" text-anchor="end" stroke="#333" stroke-width="0.12" fill="#333">0.003</text>
<line x1="399.07" y1="307.40" x2="399.07" y2="309.60" stroke="#8c8c8c" stroke-width="0.7"/>
<text x="401.47" y="310.40" font-size="6.7" text-anchor="end" fill="#333" stroke="#333" stroke-width="0.08" transform="rotate(-90 401.47 310.40)">0.03</text>
<line x1="409.80" y1="307.40" x2="409.80" y2="309.60" stroke="#8c8c8c" stroke-width="0.7"/>
<text x="412.20" y="310.40" font-size="6.7" text-anchor="end" fill="#333" stroke="#333" stroke-width="0.08" transform="rotate(-90 412.20 310.40)">0.1</text>
<line x1="420.53" y1="307.40" x2="420.53" y2="309.60" stroke="#8c8c8c" stroke-width="0.7"/>
<text x="422.93" y="310.40" font-size="6.7" text-anchor="end" fill="#333" stroke="#333" stroke-width="0.08" transform="rotate(-90 422.93 310.40)">0.3</text>
<line x1="431.27" y1="307.40" x2="431.27" y2="309.60" stroke="#8c8c8c" stroke-width="0.7"/>
<text x="433.67" y="310.40" font-size="6.7" text-anchor="end" fill="#333" stroke="#333" stroke-width="0.08" transform="rotate(-90 433.67 310.40)">1</text>
<line x1="442.00" y1="307.40" x2="442.00" y2="309.60" stroke="#8c8c8c" stroke-width="0.7"/>
<text x="444.40" y="310.40" font-size="6.7" text-anchor="end" fill="#333" stroke="#333" stroke-width="0.08" transform="rotate(-90 444.40 310.40)">3</text>
<line x1="452.73" y1="307.40" x2="452.73" y2="309.60" stroke="#8c8c8c" stroke-width="0.7"/>
<text x="455.13" y="310.40" font-size="6.7" text-anchor="end" fill="#333" stroke="#333" stroke-width="0.08" transform="rotate(-90 455.13 310.40)">10</text>
<rect x="30.20" y="469.95" width="10.73" height="12.84" fill="#f4f2a8"/>
<rect x="40.93" y="469.95" width="10.73" height="12.84" fill="#f4f2a8"/>
<rect x="51.67" y="469.95" width="10.73" height="12.84" fill="#f4f2a8"/>
<rect x="62.40" y="469.95" width="10.73" height="12.84" fill="#f4f2a8"/>
<rect x="73.13" y="469.95" width="10.73" height="12.84" fill="#f4f2a8"/>
<rect x="83.87" y="469.95" width="10.73" height="12.84" fill="#f8f3a7"/>
<rect x="30.20" y="482.79" width="10.73" height="12.84" fill="#f8d68d"/>
<rect x="40.93" y="482.79" width="10.73" height="12.84" fill="#f8d68d"/>
<rect x="51.67" y="482.79" width="10.73" height="12.84" fill="#f8d68d"/>
<rect x="62.40" y="482.79" width="10.73" height="12.84" fill="#f8d68d"/>
<rect x="73.13" y="482.79" width="10.73" height="12.84" fill="#f8d68d"/>
<rect x="83.87" y="482.79" width="10.73" height="12.84" fill="#f8cd88"/>
<rect x="30.20" y="495.63" width="10.73" height="12.84" fill="#8abedf"/>
<rect x="40.93" y="495.63" width="10.73" height="12.84" fill="#8abedf"/>
<rect x="51.67" y="495.63" width="10.73" height="12.84" fill="#8abedf"/>
<rect x="62.40" y="495.63" width="10.73" height="12.84" fill="#8abedf"/>
<rect x="73.13" y="495.63" width="10.73" height="12.84" fill="#8abedf"/>
<rect x="83.87" y="495.63" width="10.73" height="12.84" fill="#bcdccb"/>
<rect x="30.20" y="508.47" width="10.73" height="12.84" fill="#598fd3"/>
<rect x="40.93" y="508.47" width="10.73" height="12.84" fill="#598fd3"/>
<rect x="51.67" y="508.47" width="10.73" height="12.84" fill="#598fd3"/>
<rect x="62.40" y="508.47" width="10.73" height="12.84" fill="#598fd3"/>
<rect x="73.13" y="508.47" width="10.73" height="12.84" fill="#598fd3"/>
<rect x="83.87" y="508.47" width="10.73" height="12.84" fill="#5b91d4"/>
<rect x="30.20" y="521.31" width="10.73" height="12.84" fill="#5b91d4"/>
<rect x="40.93" y="521.31" width="10.73" height="12.84" fill="#5a90d3"/>
<rect x="51.67" y="521.31" width="10.73" height="12.84" fill="#5a90d3"/>
<rect x="62.40" y="521.31" width="10.73" height="12.84" fill="#5a90d3"/>
<rect x="73.13" y="521.31" width="10.73" height="12.84" fill="#598fd3"/>
<rect x="83.87" y="521.31" width="10.73" height="12.84" fill="#5a90d3"/>
<line x1="40.93" y1="469.95" x2="40.93" y2="534.15" stroke="#ffffff" stroke-width="0.5" stroke-opacity="0.55"/>
<line x1="51.67" y1="469.95" x2="51.67" y2="534.15" stroke="#ffffff" stroke-width="0.5" stroke-opacity="0.55"/>
<line x1="62.40" y1="469.95" x2="62.40" y2="534.15" stroke="#ffffff" stroke-width="0.5" stroke-opacity="0.55"/>
<line x1="73.13" y1="469.95" x2="73.13" y2="534.15" stroke="#ffffff" stroke-width="0.5" stroke-opacity="0.55"/>
<line x1="83.87" y1="469.95" x2="83.87" y2="534.15" stroke="#ffffff" stroke-width="0.5" stroke-opacity="0.55"/>
<line x1="30.20" y1="482.79" x2="94.60" y2="482.79" stroke="#ffffff" stroke-width="0.5" stroke-opacity="0.55"/>
<line x1="30.20" y1="495.63" x2="94.60" y2="495.63" stroke="#ffffff" stroke-width="0.5" stroke-opacity="0.55"/>
<line x1="30.20" y1="508.47" x2="94.60" y2="508.47" stroke="#ffffff" stroke-width="0.5" stroke-opacity="0.55"/>
<line x1="30.20" y1="521.31" x2="94.60" y2="521.31" stroke="#ffffff" stroke-width="0.5" stroke-opacity="0.55"/>
<rect x="30.20" y="469.95" width="64.40" height="64.20" fill="none" stroke="#b0b0b0" stroke-width="0.6"/>
<text x="35.57" y="478.50" font-size="6.0" text-anchor="middle" stroke="#333" stroke-width="0.05" fill="#333">1</text>
<text x="46.30" y="478.50" font-size="6.0" text-anchor="middle" stroke="#333" stroke-width="0.05" fill="#333">1</text>
<text x="57.03" y="478.50" font-size="6.0" text-anchor="middle" stroke="#333" stroke-width="0.05" fill="#333">1</text>
<text x="67.77" y="478.50" font-size="6.0" text-anchor="middle" stroke="#333" stroke-width="0.05" fill="#333">1</text>
<text x="78.50" y="478.50" font-size="6.0" text-anchor="middle" stroke="#333" stroke-width="0.05" fill="#333">1</text>
<text x="89.23" y="478.50" font-size="6.0" text-anchor="middle" stroke="#333" stroke-width="0.05" fill="#333">0</text>
<text x="35.57" y="491.34" font-size="6.0" text-anchor="middle" stroke="#333" stroke-width="0.05" fill="#333">-4</text>
<text x="46.30" y="491.34" font-size="6.0" text-anchor="middle" stroke="#333" stroke-width="0.05" fill="#333">-4</text>
<text x="57.03" y="491.34" font-size="6.0" text-anchor="middle" stroke="#333" stroke-width="0.05" fill="#333">-4</text>
<text x="67.77" y="491.34" font-size="6.0" text-anchor="middle" stroke="#333" stroke-width="0.05" fill="#333">-4</text>
<text x="78.50" y="491.34" font-size="6.0" text-anchor="middle" stroke="#333" stroke-width="0.05" fill="#333">-4</text>
<text x="89.23" y="491.34" font-size="6.0" text-anchor="middle" stroke="#333" stroke-width="0.05" fill="#333">-5</text>
<text x="35.57" y="504.18" font-size="6.0" text-anchor="middle" stroke="#333" stroke-width="0.05" fill="#333">17</text>
<text x="46.30" y="504.18" font-size="6.0" text-anchor="middle" stroke="#333" stroke-width="0.05" fill="#333">17</text>
<text x="57.03" y="504.18" font-size="6.0" text-anchor="middle" stroke="#333" stroke-width="0.05" fill="#333">17</text>
<text x="67.77" y="504.18" font-size="6.0" text-anchor="middle" stroke="#333" stroke-width="0.05" fill="#333">17</text>
<text x="78.50" y="504.18" font-size="6.0" text-anchor="middle" stroke="#333" stroke-width="0.05" fill="#333">17</text>
<text x="89.23" y="504.18" font-size="6.0" text-anchor="middle" stroke="#333" stroke-width="0.05" fill="#333">10</text>
<text x="35.57" y="517.02" font-size="6.0" text-anchor="middle" stroke="#333" stroke-width="0.05" fill="#333">52</text>
<text x="46.30" y="517.02" font-size="6.0" text-anchor="middle" stroke="#333" stroke-width="0.05" fill="#333">52</text>
<text x="57.03" y="517.02" font-size="6.0" text-anchor="middle" stroke="#333" stroke-width="0.05" fill="#333">52</text>
<text x="67.77" y="517.02" font-size="6.0" text-anchor="middle" stroke="#333" stroke-width="0.05" fill="#333">52</text>
<text x="78.50" y="517.02" font-size="6.0" text-anchor="middle" stroke="#333" stroke-width="0.05" fill="#333">52</text>
<text x="89.23" y="517.02" font-size="6.0" text-anchor="middle" stroke="#333" stroke-width="0.05" fill="#333">38</text>
<text x="35.57" y="529.86" font-size="6.0" text-anchor="middle" stroke="#333" stroke-width="0.05" fill="#333">38</text>
<text x="46.30" y="529.86" font-size="6.0" text-anchor="middle" stroke="#333" stroke-width="0.05" fill="#333">40</text>
<text x="57.03" y="529.86" font-size="6.0" text-anchor="middle" stroke="#333" stroke-width="0.05" fill="#333">43</text>
<text x="67.77" y="529.86" font-size="6.0" text-anchor="middle" stroke="#333" stroke-width="0.05" fill="#333">46</text>
<text x="78.50" y="529.86" font-size="6.0" text-anchor="middle" stroke="#333" stroke-width="0.05" fill="#333">51</text>
<text x="89.23" y="529.86" font-size="6.0" text-anchor="middle" stroke="#333" stroke-width="0.05" fill="#333">43</text>
<line x1="27.40" y1="476.37" x2="30.20" y2="476.37" stroke="#8c8c8c" stroke-width="0.7"/>
<text x="26.80" y="478.74" font-size="6.4" text-anchor="end" stroke="#333" stroke-width="0.12" fill="#333">3</text>
<line x1="27.40" y1="489.21" x2="30.20" y2="489.21" stroke="#8c8c8c" stroke-width="0.7"/>
<text x="26.80" y="491.58" font-size="6.4" text-anchor="end" stroke="#333" stroke-width="0.12" fill="#333">1</text>
<line x1="27.40" y1="502.05" x2="30.20" y2="502.05" stroke="#8c8c8c" stroke-width="0.7"/>
<text x="26.80" y="504.42" font-size="6.4" text-anchor="end" stroke="#333" stroke-width="0.12" fill="#333">0.3</text>
<line x1="27.40" y1="514.89" x2="30.20" y2="514.89" stroke="#8c8c8c" stroke-width="0.7"/>
<text x="26.80" y="517.26" font-size="6.4" text-anchor="end" stroke="#333" stroke-width="0.12" fill="#333">0.1</text>
<line x1="27.40" y1="527.73" x2="30.20" y2="527.73" stroke="#8c8c8c" stroke-width="0.7"/>
<text x="26.80" y="530.10" font-size="6.4" text-anchor="end" stroke="#333" stroke-width="0.12" fill="#333">0.03</text>
<line x1="35.57" y1="534.15" x2="35.57" y2="536.35" stroke="#8c8c8c" stroke-width="0.7"/>
<text x="37.97" y="537.15" font-size="6.7" text-anchor="end" fill="#333" stroke="#333" stroke-width="0.08" transform="rotate(-90 37.97 537.15)">0.03</text>
<line x1="46.30" y1="534.15" x2="46.30" y2="536.35" stroke="#8c8c8c" stroke-width="0.7"/>
<text x="48.70" y="537.15" font-size="6.7" text-anchor="end" fill="#333" stroke="#333" stroke-width="0.08" transform="rotate(-90 48.70 537.15)">0.1</text>
<line x1="57.03" y1="534.15" x2="57.03" y2="536.35" stroke="#8c8c8c" stroke-width="0.7"/>
<text x="59.43" y="537.15" font-size="6.7" text-anchor="end" fill="#333" stroke="#333" stroke-width="0.08" transform="rotate(-90 59.43 537.15)">0.3</text>
<line x1="67.77" y1="534.15" x2="67.77" y2="536.35" stroke="#8c8c8c" stroke-width="0.7"/>
<text x="70.17" y="537.15" font-size="6.7" text-anchor="end" fill="#333" stroke="#333" stroke-width="0.08" transform="rotate(-90 70.17 537.15)">1</text>
<line x1="78.50" y1="534.15" x2="78.50" y2="536.35" stroke="#8c8c8c" stroke-width="0.7"/>
<text x="80.90" y="537.15" font-size="6.7" text-anchor="end" fill="#333" stroke="#333" stroke-width="0.08" transform="rotate(-90 80.90 537.15)">3</text>
<line x1="89.23" y1="534.15" x2="89.23" y2="536.35" stroke="#8c8c8c" stroke-width="0.7"/>
<text x="91.63" y="537.15" font-size="6.7" text-anchor="end" fill="#333" stroke="#333" stroke-width="0.08" transform="rotate(-90 91.63 537.15)">10</text>
<rect x="120.00" y="469.95" width="10.73" height="12.84" fill="#f8f3a7"/>
<rect x="130.73" y="469.95" width="10.73" height="12.84" fill="#f8f3a7"/>
<rect x="141.47" y="469.95" width="10.73" height="12.84" fill="#f8f3a7"/>
<rect x="152.20" y="469.95" width="10.73" height="12.84" fill="#f8f3a7"/>
<rect x="162.93" y="469.95" width="10.73" height="12.84" fill="#f8f3a7"/>
<rect x="173.67" y="469.95" width="10.73" height="12.84" fill="#f8f3a7"/>
<rect x="120.00" y="482.79" width="10.73" height="12.84" fill="#f8f3a7"/>
<rect x="130.73" y="482.79" width="10.73" height="12.84" fill="#f8f3a7"/>
<rect x="141.47" y="482.79" width="10.73" height="12.84" fill="#f8f3a7"/>
<rect x="152.20" y="482.79" width="10.73" height="12.84" fill="#f8f3a7"/>
<rect x="162.93" y="482.79" width="10.73" height="12.84" fill="#f8f3a7"/>
<rect x="173.67" y="482.79" width="10.73" height="12.84" fill="#f8f3a7"/>
<rect x="120.00" y="495.63" width="10.73" height="12.84" fill="#5a90d3"/>
<rect x="130.73" y="495.63" width="10.73" height="12.84" fill="#5a90d3"/>
<rect x="141.47" y="495.63" width="10.73" height="12.84" fill="#5a90d3"/>
<rect x="152.20" y="495.63" width="10.73" height="12.84" fill="#5a90d3"/>
<rect x="162.93" y="495.63" width="10.73" height="12.84" fill="#5b91d3"/>
<rect x="173.67" y="495.63" width="10.73" height="12.84" fill="#5b91d4"/>
<rect x="120.00" y="508.47" width="10.73" height="12.84" fill="#598fd3"/>
<rect x="130.73" y="508.47" width="10.73" height="12.84" fill="#598fd2"/>
<rect x="141.47" y="508.47" width="10.73" height="12.84" fill="#598fd2"/>
<rect x="152.20" y="508.47" width="10.73" height="12.84" fill="#598ed2"/>
<rect x="162.93" y="508.47" width="10.73" height="12.84" fill="#598ed2"/>
<rect x="173.67" y="508.47" width="10.73" height="12.84" fill="#598ed2"/>
<rect x="120.00" y="521.31" width="10.73" height="12.84" fill="#90c3de"/>
<rect x="130.73" y="521.31" width="10.73" height="12.84" fill="#96c7db"/>
<rect x="141.47" y="521.31" width="10.73" height="12.84" fill="#96c7db"/>
<rect x="152.20" y="521.31" width="10.73" height="12.84" fill="#9dcbd8"/>
<rect x="162.93" y="521.31" width="10.73" height="12.84" fill="#a4cfd5"/>
<rect x="173.67" y="521.31" width="10.73" height="12.84" fill="#7cb1e0"/>
<line x1="130.73" y1="469.95" x2="130.73" y2="534.15" stroke="#ffffff" stroke-width="0.5" stroke-opacity="0.55"/>
<line x1="141.47" y1="469.95" x2="141.47" y2="534.15" stroke="#ffffff" stroke-width="0.5" stroke-opacity="0.55"/>
<line x1="152.20" y1="469.95" x2="152.20" y2="534.15" stroke="#ffffff" stroke-width="0.5" stroke-opacity="0.55"/>
<line x1="162.93" y1="469.95" x2="162.93" y2="534.15" stroke="#ffffff" stroke-width="0.5" stroke-opacity="0.55"/>
<line x1="173.67" y1="469.95" x2="173.67" y2="534.15" stroke="#ffffff" stroke-width="0.5" stroke-opacity="0.55"/>
<line x1="120.00" y1="482.79" x2="184.40" y2="482.79" stroke="#ffffff" stroke-width="0.5" stroke-opacity="0.55"/>
<line x1="120.00" y1="495.63" x2="184.40" y2="495.63" stroke="#ffffff" stroke-width="0.5" stroke-opacity="0.55"/>
<line x1="120.00" y1="508.47" x2="184.40" y2="508.47" stroke="#ffffff" stroke-width="0.5" stroke-opacity="0.55"/>
<line x1="120.00" y1="521.31" x2="184.40" y2="521.31" stroke="#ffffff" stroke-width="0.5" stroke-opacity="0.55"/>
<rect x="120.00" y="469.95" width="64.40" height="64.20" fill="none" stroke="#b0b0b0" stroke-width="0.6"/>
<text x="125.37" y="478.50" font-size="6.0" text-anchor="middle" stroke="#333" stroke-width="0.05" fill="#333">0</text>
<text x="136.10" y="478.50" font-size="6.0" text-anchor="middle" stroke="#333" stroke-width="0.05" fill="#333">0</text>
<text x="146.83" y="478.50" font-size="6.0" text-anchor="middle" stroke="#333" stroke-width="0.05" fill="#333">0</text>
<text x="157.57" y="478.50" font-size="6.0" text-anchor="middle" stroke="#333" stroke-width="0.05" fill="#333">0</text>
<text x="168.30" y="478.50" font-size="6.0" text-anchor="middle" stroke="#333" stroke-width="0.05" fill="#333">0</text>
<text x="179.03" y="478.50" font-size="6.0" text-anchor="middle" stroke="#333" stroke-width="0.05" fill="#333">0</text>
<text x="125.37" y="491.34" font-size="6.0" text-anchor="middle" stroke="#333" stroke-width="0.05" fill="#333">0</text>
<text x="136.10" y="491.34" font-size="6.0" text-anchor="middle" stroke="#333" stroke-width="0.05" fill="#333">0</text>
<text x="146.83" y="491.34" font-size="6.0" text-anchor="middle" stroke="#333" stroke-width="0.05" fill="#333">0</text>
<text x="157.57" y="491.34" font-size="6.0" text-anchor="middle" stroke="#333" stroke-width="0.05" fill="#333">0</text>
<text x="168.30" y="491.34" font-size="6.0" text-anchor="middle" stroke="#333" stroke-width="0.05" fill="#333">0</text>
<text x="179.03" y="491.34" font-size="6.0" text-anchor="middle" stroke="#333" stroke-width="0.05" fill="#333">0</text>
<text x="125.37" y="504.18" font-size="6.0" text-anchor="middle" stroke="#333" stroke-width="0.05" fill="#333">40</text>
<text x="136.10" y="504.18" font-size="6.0" text-anchor="middle" stroke="#333" stroke-width="0.05" fill="#333">41</text>
<text x="146.83" y="504.18" font-size="6.0" text-anchor="middle" stroke="#333" stroke-width="0.05" fill="#333">40</text>
<text x="157.57" y="504.18" font-size="6.0" text-anchor="middle" stroke="#333" stroke-width="0.05" fill="#333">40</text>
<text x="168.30" y="504.18" font-size="6.0" text-anchor="middle" stroke="#333" stroke-width="0.05" fill="#333">39</text>
<text x="179.03" y="504.18" font-size="6.0" text-anchor="middle" stroke="#333" stroke-width="0.05" fill="#333">38</text>
<text x="125.37" y="517.02" font-size="6.0" text-anchor="middle" stroke="#333" stroke-width="0.05" fill="#333">53</text>
<text x="136.10" y="517.02" font-size="6.0" text-anchor="middle" stroke="#333" stroke-width="0.05" fill="#333">56</text>
<text x="146.83" y="517.02" font-size="6.0" text-anchor="middle" stroke="#333" stroke-width="0.05" fill="#333">60</text>
<text x="157.57" y="517.02" font-size="6.0" text-anchor="middle" stroke="#333" stroke-width="0.05" fill="#333">63</text>
<text x="168.30" y="517.02" font-size="6.0" text-anchor="middle" stroke="#333" stroke-width="0.05" fill="#333">65</text>
<text x="179.03" y="517.02" font-size="6.0" text-anchor="middle" stroke="#333" stroke-width="0.05" fill="#333">66</text>
<text x="125.37" y="529.86" font-size="6.0" text-anchor="middle" stroke="#333" stroke-width="0.05" fill="#333">16</text>
<text x="136.10" y="529.86" font-size="6.0" text-anchor="middle" stroke="#333" stroke-width="0.05" fill="#333">15</text>
<text x="146.83" y="529.86" font-size="6.0" text-anchor="middle" stroke="#333" stroke-width="0.05" fill="#333">15</text>
<text x="157.57" y="529.86" font-size="6.0" text-anchor="middle" stroke="#333" stroke-width="0.05" fill="#333">14</text>
<text x="168.30" y="529.86" font-size="6.0" text-anchor="middle" stroke="#333" stroke-width="0.05" fill="#333">13</text>
<text x="179.03" y="529.86" font-size="6.0" text-anchor="middle" stroke="#333" stroke-width="0.05" fill="#333">20</text>
<line x1="117.20" y1="476.37" x2="120.00" y2="476.37" stroke="#8c8c8c" stroke-width="0.7"/>
<text x="116.60" y="478.74" font-size="6.4" text-anchor="end" stroke="#333" stroke-width="0.12" fill="#333">3</text>
<line x1="117.20" y1="489.21" x2="120.00" y2="489.21" stroke="#8c8c8c" stroke-width="0.7"/>
<text x="116.60" y="491.58" font-size="6.4" text-anchor="end" stroke="#333" stroke-width="0.12" fill="#333">1</text>
<line x1="117.20" y1="502.05" x2="120.00" y2="502.05" stroke="#8c8c8c" stroke-width="0.7"/>
<text x="116.60" y="504.42" font-size="6.4" text-anchor="end" stroke="#333" stroke-width="0.12" fill="#333">0.3</text>
<line x1="117.20" y1="514.89" x2="120.00" y2="514.89" stroke="#8c8c8c" stroke-width="0.7"/>
<text x="116.60" y="517.26" font-size="6.4" text-anchor="end" stroke="#333" stroke-width="0.12" fill="#333">0.1</text>
<line x1="117.20" y1="527.73" x2="120.00" y2="527.73" stroke="#8c8c8c" stroke-width="0.7"/>
<text x="116.60" y="530.10" font-size="6.4" text-anchor="end" stroke="#333" stroke-width="0.12" fill="#333">0.03</text>
<line x1="125.37" y1="534.15" x2="125.37" y2="536.35" stroke="#8c8c8c" stroke-width="0.7"/>
<text x="127.77" y="537.15" font-size="6.7" text-anchor="end" fill="#333" stroke="#333" stroke-width="0.08" transform="rotate(-90 127.77 537.15)">0.03</text>
<line x1="136.10" y1="534.15" x2="136.10" y2="536.35" stroke="#8c8c8c" stroke-width="0.7"/>
<text x="138.50" y="537.15" font-size="6.7" text-anchor="end" fill="#333" stroke="#333" stroke-width="0.08" transform="rotate(-90 138.50 537.15)">0.1</text>
<line x1="146.83" y1="534.15" x2="146.83" y2="536.35" stroke="#8c8c8c" stroke-width="0.7"/>
<text x="149.23" y="537.15" font-size="6.7" text-anchor="end" fill="#333" stroke="#333" stroke-width="0.08" transform="rotate(-90 149.23 537.15)">0.3</text>
<line x1="157.57" y1="534.15" x2="157.57" y2="536.35" stroke="#8c8c8c" stroke-width="0.7"/>
<text x="159.97" y="537.15" font-size="6.7" text-anchor="end" fill="#333" stroke="#333" stroke-width="0.08" transform="rotate(-90 159.97 537.15)">1</text>
<line x1="168.30" y1="534.15" x2="168.30" y2="536.35" stroke="#8c8c8c" stroke-width="0.7"/>
<text x="170.70" y="537.15" font-size="6.7" text-anchor="end" fill="#333" stroke="#333" stroke-width="0.08" transform="rotate(-90 170.70 537.15)">3</text>
<line x1="179.03" y1="534.15" x2="179.03" y2="536.35" stroke="#8c8c8c" stroke-width="0.7"/>
<text x="181.43" y="537.15" font-size="6.7" text-anchor="end" fill="#333" stroke="#333" stroke-width="0.08" transform="rotate(-90 181.43 537.15)">10</text>
<rect x="211.40" y="469.95" width="10.73" height="12.84" fill="#f8f3a7"/>
<rect x="222.13" y="469.95" width="10.73" height="12.84" fill="#f8f3a7"/>
<rect x="232.87" y="469.95" width="10.73" height="12.84" fill="#f8f3a7"/>
<rect x="243.60" y="469.95" width="10.73" height="12.84" fill="#f8f3a7"/>
<rect x="254.33" y="469.95" width="10.73" height="12.84" fill="#f8f3a7"/>
<rect x="265.07" y="469.95" width="10.73" height="12.84" fill="#f8f3a7"/>
<rect x="211.40" y="482.79" width="10.73" height="12.84" fill="#f8f3a7"/>
<rect x="222.13" y="482.79" width="10.73" height="12.84" fill="#f8f3a7"/>
<rect x="232.87" y="482.79" width="10.73" height="12.84" fill="#f8f3a7"/>
<rect x="243.60" y="482.79" width="10.73" height="12.84" fill="#f8f3a7"/>
<rect x="254.33" y="482.79" width="10.73" height="12.84" fill="#f8f3a7"/>
<rect x="265.07" y="482.79" width="10.73" height="12.84" fill="#f8f3a7"/>
<rect x="211.40" y="495.63" width="10.73" height="12.84" fill="#578cd1"/>
<rect x="222.13" y="495.63" width="10.73" height="12.84" fill="#578cd1"/>
<rect x="232.87" y="495.63" width="10.73" height="12.84" fill="#578cd1"/>
<rect x="243.60" y="495.63" width="10.73" height="12.84" fill="#578cd1"/>
<rect x="254.33" y="495.63" width="10.73" height="12.84" fill="#578cd1"/>
<rect x="265.07" y="495.63" width="10.73" height="12.84" fill="#c4e0c4"/>
<rect x="211.40" y="508.47" width="10.73" height="12.84" fill="#588dd1"/>
<rect x="222.13" y="508.47" width="10.73" height="12.84" fill="#578dd1"/>
<rect x="232.87" y="508.47" width="10.73" height="12.84" fill="#578cd1"/>
<rect x="243.60" y="508.47" width="10.73" height="12.84" fill="#578cd1"/>
<rect x="254.33" y="508.47" width="10.73" height="12.84" fill="#578cd1"/>
<rect x="265.07" y="508.47" width="10.73" height="12.84" fill="#dbe8b4"/>
<rect x="211.40" y="521.31" width="10.73" height="12.84" fill="#5e94d5"/>
<rect x="222.13" y="521.31" width="10.73" height="12.84" fill="#5e94d5"/>
<rect x="232.87" y="521.31" width="10.73" height="12.84" fill="#5e94d5"/>
<rect x="243.60" y="521.31" width="10.73" height="12.84" fill="#5e94d5"/>
<rect x="254.33" y="521.31" width="10.73" height="12.84" fill="#5e94d5"/>
<rect x="265.07" y="521.31" width="10.73" height="12.84" fill="#c4e0c4"/>
<line x1="222.13" y1="469.95" x2="222.13" y2="534.15" stroke="#ffffff" stroke-width="0.5" stroke-opacity="0.55"/>
<line x1="232.87" y1="469.95" x2="232.87" y2="534.15" stroke="#ffffff" stroke-width="0.5" stroke-opacity="0.55"/>
<line x1="243.60" y1="469.95" x2="243.60" y2="534.15" stroke="#ffffff" stroke-width="0.5" stroke-opacity="0.55"/>
<line x1="254.33" y1="469.95" x2="254.33" y2="534.15" stroke="#ffffff" stroke-width="0.5" stroke-opacity="0.55"/>
<line x1="265.07" y1="469.95" x2="265.07" y2="534.15" stroke="#ffffff" stroke-width="0.5" stroke-opacity="0.55"/>
<line x1="211.40" y1="482.79" x2="275.80" y2="482.79" stroke="#ffffff" stroke-width="0.5" stroke-opacity="0.55"/>
<line x1="211.40" y1="495.63" x2="275.80" y2="495.63" stroke="#ffffff" stroke-width="0.5" stroke-opacity="0.55"/>
<line x1="211.40" y1="508.47" x2="275.80" y2="508.47" stroke="#ffffff" stroke-width="0.5" stroke-opacity="0.55"/>
<line x1="211.40" y1="521.31" x2="275.80" y2="521.31" stroke="#ffffff" stroke-width="0.5" stroke-opacity="0.55"/>
<rect x="211.40" y="469.95" width="64.40" height="64.20" fill="none" stroke="#b0b0b0" stroke-width="0.6"/>
<text x="216.77" y="478.50" font-size="6.0" text-anchor="middle" stroke="#333" stroke-width="0.05" fill="#333">0</text>
<text x="227.50" y="478.50" font-size="6.0" text-anchor="middle" stroke="#333" stroke-width="0.05" fill="#333">0</text>
<text x="238.23" y="478.50" font-size="6.0" text-anchor="middle" stroke="#333" stroke-width="0.05" fill="#333">0</text>
<text x="248.97" y="478.50" font-size="6.0" text-anchor="middle" stroke="#333" stroke-width="0.05" fill="#333">0</text>
<text x="259.70" y="478.50" font-size="6.0" text-anchor="middle" stroke="#333" stroke-width="0.05" fill="#333">0</text>
<text x="270.43" y="478.50" font-size="6.0" text-anchor="middle" stroke="#333" stroke-width="0.05" fill="#333">0</text>
<text x="216.77" y="491.34" font-size="6.0" text-anchor="middle" stroke="#333" stroke-width="0.05" fill="#333">0</text>
<text x="227.50" y="491.34" font-size="6.0" text-anchor="middle" stroke="#333" stroke-width="0.05" fill="#333">0</text>
<text x="238.23" y="491.34" font-size="6.0" text-anchor="middle" stroke="#333" stroke-width="0.05" fill="#333">0</text>
<text x="248.97" y="491.34" font-size="6.0" text-anchor="middle" stroke="#333" stroke-width="0.05" fill="#333">0</text>
<text x="259.70" y="491.34" font-size="6.0" text-anchor="middle" stroke="#333" stroke-width="0.05" fill="#333">0</text>
<text x="270.43" y="491.34" font-size="6.0" text-anchor="middle" stroke="#333" stroke-width="0.05" fill="#333">0</text>
<text x="216.77" y="504.18" font-size="6.0" text-anchor="middle" stroke="#333" stroke-width="0.05" fill="#333">99</text>
<text x="227.50" y="504.18" font-size="6.0" text-anchor="middle" stroke="#333" stroke-width="0.05" fill="#333">99</text>
<text x="238.23" y="504.18" font-size="6.0" text-anchor="middle" stroke="#333" stroke-width="0.05" fill="#333">99</text>
<text x="248.97" y="504.18" font-size="6.0" text-anchor="middle" stroke="#333" stroke-width="0.05" fill="#333">99</text>
<text x="259.70" y="504.18" font-size="6.0" text-anchor="middle" stroke="#333" stroke-width="0.05" fill="#333">99</text>
<text x="270.43" y="504.18" font-size="6.0" text-anchor="middle" stroke="#333" stroke-width="0.05" fill="#333">9</text>
<text x="216.77" y="517.02" font-size="6.0" text-anchor="middle" stroke="#333" stroke-width="0.05" fill="#333">90</text>
<text x="227.50" y="517.02" font-size="6.0" text-anchor="middle" stroke="#333" stroke-width="0.05" fill="#333">92</text>
<text x="238.23" y="517.02" font-size="6.0" text-anchor="middle" stroke="#333" stroke-width="0.05" fill="#333">95</text>
<text x="248.97" y="517.02" font-size="6.0" text-anchor="middle" stroke="#333" stroke-width="0.05" fill="#333">97</text>
<text x="259.70" y="517.02" font-size="6.0" text-anchor="middle" stroke="#333" stroke-width="0.05" fill="#333">99</text>
<text x="270.43" y="517.02" font-size="6.0" text-anchor="middle" stroke="#333" stroke-width="0.05" fill="#333">6</text>
<text x="216.77" y="529.86" font-size="6.0" text-anchor="middle" stroke="#333" stroke-width="0.05" fill="#333">34</text>
<text x="227.50" y="529.86" font-size="6.0" text-anchor="middle" stroke="#333" stroke-width="0.05" fill="#333">34</text>
<text x="238.23" y="529.86" font-size="6.0" text-anchor="middle" stroke="#333" stroke-width="0.05" fill="#333">34</text>
<text x="248.97" y="529.86" font-size="6.0" text-anchor="middle" stroke="#333" stroke-width="0.05" fill="#333">34</text>
<text x="259.70" y="529.86" font-size="6.0" text-anchor="middle" stroke="#333" stroke-width="0.05" fill="#333">34</text>
<text x="270.43" y="529.86" font-size="6.0" text-anchor="middle" stroke="#333" stroke-width="0.05" fill="#333">9</text>
<line x1="208.60" y1="476.37" x2="211.40" y2="476.37" stroke="#8c8c8c" stroke-width="0.7"/>
<text x="208.00" y="478.74" font-size="6.4" text-anchor="end" stroke="#333" stroke-width="0.12" fill="#333">3</text>
<line x1="208.60" y1="489.21" x2="211.40" y2="489.21" stroke="#8c8c8c" stroke-width="0.7"/>
<text x="208.00" y="491.58" font-size="6.4" text-anchor="end" stroke="#333" stroke-width="0.12" fill="#333">1</text>
<line x1="208.60" y1="502.05" x2="211.40" y2="502.05" stroke="#8c8c8c" stroke-width="0.7"/>
<text x="208.00" y="504.42" font-size="6.4" text-anchor="end" stroke="#333" stroke-width="0.12" fill="#333">0.3</text>
<line x1="208.60" y1="514.89" x2="211.40" y2="514.89" stroke="#8c8c8c" stroke-width="0.7"/>
<text x="208.00" y="517.26" font-size="6.4" text-anchor="end" stroke="#333" stroke-width="0.12" fill="#333">0.1</text>
<line x1="208.60" y1="527.73" x2="211.40" y2="527.73" stroke="#8c8c8c" stroke-width="0.7"/>
<text x="208.00" y="530.10" font-size="6.4" text-anchor="end" stroke="#333" stroke-width="0.12" fill="#333">0.03</text>
<line x1="216.77" y1="534.15" x2="216.77" y2="536.35" stroke="#8c8c8c" stroke-width="0.7"/>
<text x="219.17" y="537.15" font-size="6.7" text-anchor="end" fill="#333" stroke="#333" stroke-width="0.08" transform="rotate(-90 219.17 537.15)">0.03</text>
<line x1="227.50" y1="534.15" x2="227.50" y2="536.35" stroke="#8c8c8c" stroke-width="0.7"/>
<text x="229.90" y="537.15" font-size="6.7" text-anchor="end" fill="#333" stroke="#333" stroke-width="0.08" transform="rotate(-90 229.90 537.15)">0.1</text>
<line x1="238.23" y1="534.15" x2="238.23" y2="536.35" stroke="#8c8c8c" stroke-width="0.7"/>
<text x="240.63" y="537.15" font-size="6.7" text-anchor="end" fill="#333" stroke="#333" stroke-width="0.08" transform="rotate(-90 240.63 537.15)">0.3</text>
<line x1="248.97" y1="534.15" x2="248.97" y2="536.35" stroke="#8c8c8c" stroke-width="0.7"/>
<text x="251.37" y="537.15" font-size="6.7" text-anchor="end" fill="#333" stroke="#333" stroke-width="0.08" transform="rotate(-90 251.37 537.15)">1</text>
<line x1="259.70" y1="534.15" x2="259.70" y2="536.35" stroke="#8c8c8c" stroke-width="0.7"/>
<text x="262.10" y="537.15" font-size="6.7" text-anchor="end" fill="#333" stroke="#333" stroke-width="0.08" transform="rotate(-90 262.10 537.15)">3</text>
<line x1="270.43" y1="534.15" x2="270.43" y2="536.35" stroke="#8c8c8c" stroke-width="0.7"/>
<text x="272.83" y="537.15" font-size="6.7" text-anchor="end" fill="#333" stroke="#333" stroke-width="0.08" transform="rotate(-90 272.83 537.15)">10</text>
<rect x="303.60" y="469.95" width="10.73" height="12.84" fill="#aad3d2"/>
<rect x="314.33" y="469.95" width="10.73" height="12.84" fill="#78aee0"/>
<rect x="325.07" y="469.95" width="10.73" height="12.84" fill="#6aa0d9"/>
<rect x="335.80" y="469.95" width="10.73" height="12.84" fill="#6aa0d9"/>
<rect x="346.53" y="469.95" width="10.73" height="12.84" fill="#6ea4db"/>
<rect x="357.27" y="469.95" width="10.73" height="12.84" fill="#8abedf"/>
<rect x="303.60" y="482.79" width="10.73" height="12.84" fill="#6ea4db"/>
<rect x="314.33" y="482.79" width="10.73" height="12.84" fill="#669cd8"/>
<rect x="325.07" y="482.79" width="10.73" height="12.84" fill="#5c93d4"/>
<rect x="335.80" y="482.79" width="10.73" height="12.84" fill="#5a90d3"/>
<rect x="346.53" y="482.79" width="10.73" height="12.84" fill="#5a90d3"/>
<rect x="357.27" y="482.79" width="10.73" height="12.84" fill="#669cd8"/>
<rect x="303.60" y="495.63" width="10.73" height="12.84" fill="#649bd7"/>
<rect x="314.33" y="495.63" width="10.73" height="12.84" fill="#5e95d5"/>
<rect x="325.07" y="495.63" width="10.73" height="12.84" fill="#5b91d3"/>
<rect x="335.80" y="495.63" width="10.73" height="12.84" fill="#5a90d3"/>
<rect x="346.53" y="495.63" width="10.73" height="12.84" fill="#5a90d3"/>
<rect x="357.27" y="495.63" width="10.73" height="12.84" fill="#6299d7"/>
<rect x="303.60" y="508.47" width="10.73" height="12.84" fill="#c4e0c4"/>
<rect x="314.33" y="508.47" width="10.73" height="12.84" fill="#90c3de"/>
<rect x="325.07" y="508.47" width="10.73" height="12.84" fill="#71a7dc"/>
<rect x="335.80" y="508.47" width="10.73" height="12.84" fill="#6097d6"/>
<rect x="346.53" y="508.47" width="10.73" height="12.84" fill="#5f96d5"/>
<rect x="357.27" y="508.47" width="10.73" height="12.84" fill="#9dcbd8"/>
<rect x="303.60" y="521.31" width="10.73" height="12.84" fill="#edf0aa"/>
<rect x="314.33" y="521.31" width="10.73" height="12.84" fill="#e7eeae"/>
<rect x="325.07" y="521.31" width="10.73" height="12.84" fill="#e0eab0"/>
<rect x="335.80" y="521.31" width="10.73" height="12.84" fill="#cde3bc"/>
<rect x="346.53" y="521.31" width="10.73" height="12.84" fill="#a4cfd5"/>
<rect x="357.27" y="521.31" width="10.73" height="12.84" fill="#96c7db"/>
<line x1="314.33" y1="469.95" x2="314.33" y2="534.15" stroke="#ffffff" stroke-width="0.5" stroke-opacity="0.55"/>
<line x1="325.07" y1="469.95" x2="325.07" y2="534.15" stroke="#ffffff" stroke-width="0.5" stroke-opacity="0.55"/>
<line x1="335.80" y1="469.95" x2="335.80" y2="534.15" stroke="#ffffff" stroke-width="0.5" stroke-opacity="0.55"/>
<line x1="346.53" y1="469.95" x2="346.53" y2="534.15" stroke="#ffffff" stroke-width="0.5" stroke-opacity="0.55"/>
<line x1="357.27" y1="469.95" x2="357.27" y2="534.15" stroke="#ffffff" stroke-width="0.5" stroke-opacity="0.55"/>
<line x1="303.60" y1="482.79" x2="368.00" y2="482.79" stroke="#ffffff" stroke-width="0.5" stroke-opacity="0.55"/>
<line x1="303.60" y1="495.63" x2="368.00" y2="495.63" stroke="#ffffff" stroke-width="0.5" stroke-opacity="0.55"/>
<line x1="303.60" y1="508.47" x2="368.00" y2="508.47" stroke="#ffffff" stroke-width="0.5" stroke-opacity="0.55"/>
<line x1="303.60" y1="521.31" x2="368.00" y2="521.31" stroke="#ffffff" stroke-width="0.5" stroke-opacity="0.55"/>
<rect x="303.60" y="469.95" width="64.40" height="64.20" fill="none" stroke="#b0b0b0" stroke-width="0.6"/>
<text x="308.97" y="478.50" font-size="6.0" text-anchor="middle" stroke="#333" stroke-width="0.05" fill="#333">12</text>
<text x="319.70" y="478.50" font-size="6.0" text-anchor="middle" stroke="#333" stroke-width="0.05" fill="#333">21</text>
<text x="330.43" y="478.50" font-size="6.0" text-anchor="middle" stroke="#333" stroke-width="0.05" fill="#333">25</text>
<text x="341.17" y="478.50" font-size="6.0" text-anchor="middle" stroke="#333" stroke-width="0.05" fill="#333">25</text>
<text x="351.90" y="478.50" font-size="6.0" text-anchor="middle" stroke="#333" stroke-width="0.05" fill="#333">24</text>
<text x="362.63" y="478.50" font-size="6.0" text-anchor="middle" stroke="#333" stroke-width="0.05" fill="#333">17</text>
<text x="308.97" y="491.34" font-size="6.0" text-anchor="middle" stroke="#333" stroke-width="0.05" fill="#333">24</text>
<text x="319.70" y="491.34" font-size="6.0" text-anchor="middle" stroke="#333" stroke-width="0.05" fill="#333">27</text>
<text x="330.43" y="491.34" font-size="6.0" text-anchor="middle" stroke="#333" stroke-width="0.05" fill="#333">36</text>
<text x="341.17" y="491.34" font-size="6.0" text-anchor="middle" stroke="#333" stroke-width="0.05" fill="#333">46</text>
<text x="351.90" y="491.34" font-size="6.0" text-anchor="middle" stroke="#333" stroke-width="0.05" fill="#333">46</text>
<text x="362.63" y="491.34" font-size="6.0" text-anchor="middle" stroke="#333" stroke-width="0.05" fill="#333">27</text>
<text x="308.97" y="504.18" font-size="6.0" text-anchor="middle" stroke="#333" stroke-width="0.05" fill="#333">28</text>
<text x="319.70" y="504.18" font-size="6.0" text-anchor="middle" stroke="#333" stroke-width="0.05" fill="#333">33</text>
<text x="330.43" y="504.18" font-size="6.0" text-anchor="middle" stroke="#333" stroke-width="0.05" fill="#333">39</text>
<text x="341.17" y="504.18" font-size="6.0" text-anchor="middle" stroke="#333" stroke-width="0.05" fill="#333">45</text>
<text x="351.90" y="504.18" font-size="6.0" text-anchor="middle" stroke="#333" stroke-width="0.05" fill="#333">46</text>
<text x="362.63" y="504.18" font-size="6.0" text-anchor="middle" stroke="#333" stroke-width="0.05" fill="#333">29</text>
<text x="308.97" y="517.02" font-size="6.0" text-anchor="middle" stroke="#333" stroke-width="0.05" fill="#333">9</text>
<text x="319.70" y="517.02" font-size="6.0" text-anchor="middle" stroke="#333" stroke-width="0.05" fill="#333">16</text>
<text x="330.43" y="517.02" font-size="6.0" text-anchor="middle" stroke="#333" stroke-width="0.05" fill="#333">23</text>
<text x="341.17" y="517.02" font-size="6.0" text-anchor="middle" stroke="#333" stroke-width="0.05" fill="#333">30</text>
<text x="351.90" y="517.02" font-size="6.0" text-anchor="middle" stroke="#333" stroke-width="0.05" fill="#333">32</text>
<text x="362.63" y="517.02" font-size="6.0" text-anchor="middle" stroke="#333" stroke-width="0.05" fill="#333">14</text>
<text x="308.97" y="529.86" font-size="6.0" text-anchor="middle" stroke="#333" stroke-width="0.05" fill="#333">3</text>
<text x="319.70" y="529.86" font-size="6.0" text-anchor="middle" stroke="#333" stroke-width="0.05" fill="#333">4</text>
<text x="330.43" y="529.86" font-size="6.0" text-anchor="middle" stroke="#333" stroke-width="0.05" fill="#333">5</text>
<text x="341.17" y="529.86" font-size="6.0" text-anchor="middle" stroke="#333" stroke-width="0.05" fill="#333">8</text>
<text x="351.90" y="529.86" font-size="6.0" text-anchor="middle" stroke="#333" stroke-width="0.05" fill="#333">13</text>
<text x="362.63" y="529.86" font-size="6.0" text-anchor="middle" stroke="#333" stroke-width="0.05" fill="#333">15</text>
<line x1="300.80" y1="476.37" x2="303.60" y2="476.37" stroke="#8c8c8c" stroke-width="0.7"/>
<text x="300.20" y="478.74" font-size="6.4" text-anchor="end" stroke="#333" stroke-width="0.12" fill="#333">3</text>
<line x1="300.80" y1="489.21" x2="303.60" y2="489.21" stroke="#8c8c8c" stroke-width="0.7"/>
<text x="300.20" y="491.58" font-size="6.4" text-anchor="end" stroke="#333" stroke-width="0.12" fill="#333">1</text>
<line x1="300.80" y1="502.05" x2="303.60" y2="502.05" stroke="#8c8c8c" stroke-width="0.7"/>
<text x="300.20" y="504.42" font-size="6.4" text-anchor="end" stroke="#333" stroke-width="0.12" fill="#333">0.3</text>
<line x1="300.80" y1="514.89" x2="303.60" y2="514.89" stroke="#8c8c8c" stroke-width="0.7"/>
<text x="300.20" y="517.26" font-size="6.4" text-anchor="end" stroke="#333" stroke-width="0.12" fill="#333">0.1</text>
<line x1="300.80" y1="527.73" x2="303.60" y2="527.73" stroke="#8c8c8c" stroke-width="0.7"/>
<text x="300.20" y="530.10" font-size="6.4" text-anchor="end" stroke="#333" stroke-width="0.12" fill="#333">0.03</text>
<line x1="308.97" y1="534.15" x2="308.97" y2="536.35" stroke="#8c8c8c" stroke-width="0.7"/>
<text x="311.37" y="537.15" font-size="6.7" text-anchor="end" fill="#333" stroke="#333" stroke-width="0.08" transform="rotate(-90 311.37 537.15)">0.03</text>
<line x1="319.70" y1="534.15" x2="319.70" y2="536.35" stroke="#8c8c8c" stroke-width="0.7"/>
<text x="322.10" y="537.15" font-size="6.7" text-anchor="end" fill="#333" stroke="#333" stroke-width="0.08" transform="rotate(-90 322.10 537.15)">0.1</text>
<line x1="330.43" y1="534.15" x2="330.43" y2="536.35" stroke="#8c8c8c" stroke-width="0.7"/>
<text x="332.83" y="537.15" font-size="6.7" text-anchor="end" fill="#333" stroke="#333" stroke-width="0.08" transform="rotate(-90 332.83 537.15)">0.3</text>
<line x1="341.17" y1="534.15" x2="341.17" y2="536.35" stroke="#8c8c8c" stroke-width="0.7"/>
<text x="343.57" y="537.15" font-size="6.7" text-anchor="end" fill="#333" stroke="#333" stroke-width="0.08" transform="rotate(-90 343.57 537.15)">1</text>
<line x1="351.90" y1="534.15" x2="351.90" y2="536.35" stroke="#8c8c8c" stroke-width="0.7"/>
<text x="354.30" y="537.15" font-size="6.7" text-anchor="end" fill="#333" stroke="#333" stroke-width="0.08" transform="rotate(-90 354.30 537.15)">3</text>
<line x1="362.63" y1="534.15" x2="362.63" y2="536.35" stroke="#8c8c8c" stroke-width="0.7"/>
<text x="365.03" y="537.15" font-size="6.7" text-anchor="end" fill="#333" stroke="#333" stroke-width="0.08" transform="rotate(-90 365.03 537.15)">10</text>
<rect x="393.20" y="469.95" width="10.73" height="12.84" fill="#f4f2a8"/>
<rect x="403.93" y="469.95" width="10.73" height="12.84" fill="#f4f2a8"/>
<rect x="414.67" y="469.95" width="10.73" height="12.84" fill="#f4f2a8"/>
<rect x="425.40" y="469.95" width="10.73" height="12.84" fill="#f4f2a8"/>
<rect x="436.13" y="469.95" width="10.73" height="12.84" fill="#f4f2a8"/>
<rect x="446.87" y="469.95" width="10.73" height="12.84" fill="#f8f3a7"/>
<rect x="393.20" y="482.79" width="10.73" height="12.84" fill="#f8efa3"/>
<rect x="403.93" y="482.79" width="10.73" height="12.84" fill="#f8efa3"/>
<rect x="414.67" y="482.79" width="10.73" height="12.84" fill="#f8efa3"/>
<rect x="425.40" y="482.79" width="10.73" height="12.84" fill="#f8efa3"/>
<rect x="436.13" y="482.79" width="10.73" height="12.84" fill="#f9e99c"/>
<rect x="446.87" y="482.79" width="10.73" height="12.84" fill="#f8df93"/>
<rect x="393.20" y="495.63" width="10.73" height="12.84" fill="#bcdccb"/>
<rect x="403.93" y="495.63" width="10.73" height="12.84" fill="#aad3d2"/>
<rect x="414.67" y="495.63" width="10.73" height="12.84" fill="#9dcbd8"/>
<rect x="425.40" y="495.63" width="10.73" height="12.84" fill="#9dcbd8"/>
<rect x="436.13" y="495.63" width="10.73" height="12.84" fill="#d4e6b8"/>
<rect x="446.87" y="495.63" width="10.73" height="12.84" fill="#f7c27f"/>
<rect x="393.20" y="508.47" width="10.73" height="12.84" fill="#5a90d3"/>
<rect x="403.93" y="508.47" width="10.73" height="12.84" fill="#5a90d3"/>
<rect x="414.67" y="508.47" width="10.73" height="12.84" fill="#5a90d3"/>
<rect x="425.40" y="508.47" width="10.73" height="12.84" fill="#5a90d3"/>
<rect x="436.13" y="508.47" width="10.73" height="12.84" fill="#6ea4db"/>
<rect x="446.87" y="508.47" width="10.73" height="12.84" fill="#e0eab0"/>
<rect x="393.20" y="521.31" width="10.73" height="12.84" fill="#aad3d2"/>
<rect x="403.93" y="521.31" width="10.73" height="12.84" fill="#aad3d2"/>
<rect x="414.67" y="521.31" width="10.73" height="12.84" fill="#b3d8ce"/>
<rect x="425.40" y="521.31" width="10.73" height="12.84" fill="#c4e0c4"/>
<rect x="436.13" y="521.31" width="10.73" height="12.84" fill="#c4e0c4"/>
<rect x="446.87" y="521.31" width="10.73" height="12.84" fill="#edf0aa"/>
<line x1="403.93" y1="469.95" x2="403.93" y2="534.15" stroke="#ffffff" stroke-width="0.5" stroke-opacity="0.55"/>
<line x1="414.67" y1="469.95" x2="414.67" y2="534.15" stroke="#ffffff" stroke-width="0.5" stroke-opacity="0.55"/>
<line x1="425.40" y1="469.95" x2="425.40" y2="534.15" stroke="#ffffff" stroke-width="0.5" stroke-opacity="0.55"/>
<line x1="436.13" y1="469.95" x2="436.13" y2="534.15" stroke="#ffffff" stroke-width="0.5" stroke-opacity="0.55"/>
<line x1="446.87" y1="469.95" x2="446.87" y2="534.15" stroke="#ffffff" stroke-width="0.5" stroke-opacity="0.55"/>
<line x1="393.20" y1="482.79" x2="457.60" y2="482.79" stroke="#ffffff" stroke-width="0.5" stroke-opacity="0.55"/>
<line x1="393.20" y1="495.63" x2="457.60" y2="495.63" stroke="#ffffff" stroke-width="0.5" stroke-opacity="0.55"/>
<line x1="393.20" y1="508.47" x2="457.60" y2="508.47" stroke="#ffffff" stroke-width="0.5" stroke-opacity="0.55"/>
<line x1="393.20" y1="521.31" x2="457.60" y2="521.31" stroke="#ffffff" stroke-width="0.5" stroke-opacity="0.55"/>
<rect x="393.20" y="469.95" width="64.40" height="64.20" fill="none" stroke="#b0b0b0" stroke-width="0.6"/>
<text x="398.57" y="478.50" font-size="6.0" text-anchor="middle" stroke="#333" stroke-width="0.05" fill="#333">1</text>
<text x="409.30" y="478.50" font-size="6.0" text-anchor="middle" stroke="#333" stroke-width="0.05" fill="#333">1</text>
<text x="420.03" y="478.50" font-size="6.0" text-anchor="middle" stroke="#333" stroke-width="0.05" fill="#333">1</text>
<text x="430.77" y="478.50" font-size="6.0" text-anchor="middle" stroke="#333" stroke-width="0.05" fill="#333">1</text>
<text x="441.50" y="478.50" font-size="6.0" text-anchor="middle" stroke="#333" stroke-width="0.05" fill="#333">1</text>
<text x="452.23" y="478.50" font-size="6.0" text-anchor="middle" stroke="#333" stroke-width="0.05" fill="#333">0</text>
<text x="398.57" y="491.34" font-size="6.0" text-anchor="middle" stroke="#333" stroke-width="0.05" fill="#333">-1</text>
<text x="409.30" y="491.34" font-size="6.0" text-anchor="middle" stroke="#333" stroke-width="0.05" fill="#333">-1</text>
<text x="420.03" y="491.34" font-size="6.0" text-anchor="middle" stroke="#333" stroke-width="0.05" fill="#333">-1</text>
<text x="430.77" y="491.34" font-size="6.0" text-anchor="middle" stroke="#333" stroke-width="0.05" fill="#333">-1</text>
<text x="441.50" y="491.34" font-size="6.0" text-anchor="middle" stroke="#333" stroke-width="0.05" fill="#333">-2</text>
<text x="452.23" y="491.34" font-size="6.0" text-anchor="middle" stroke="#333" stroke-width="0.05" fill="#333">-3</text>
<text x="398.57" y="504.18" font-size="6.0" text-anchor="middle" stroke="#333" stroke-width="0.05" fill="#333">10</text>
<text x="409.30" y="504.18" font-size="6.0" text-anchor="middle" stroke="#333" stroke-width="0.05" fill="#333">12</text>
<text x="420.03" y="504.18" font-size="6.0" text-anchor="middle" stroke="#333" stroke-width="0.05" fill="#333">14</text>
<text x="430.77" y="504.18" font-size="6.0" text-anchor="middle" stroke="#333" stroke-width="0.05" fill="#333">14</text>
<text x="441.50" y="504.18" font-size="6.0" text-anchor="middle" stroke="#333" stroke-width="0.05" fill="#333">7</text>
<text x="452.23" y="504.18" font-size="6.0" text-anchor="middle" stroke="#333" stroke-width="0.05" fill="#333">-6</text>
<text x="398.57" y="517.02" font-size="6.0" text-anchor="middle" stroke="#333" stroke-width="0.05" fill="#333">44</text>
<text x="409.30" y="517.02" font-size="6.0" text-anchor="middle" stroke="#333" stroke-width="0.05" fill="#333">44</text>
<text x="420.03" y="517.02" font-size="6.0" text-anchor="middle" stroke="#333" stroke-width="0.05" fill="#333">43</text>
<text x="430.77" y="517.02" font-size="6.0" text-anchor="middle" stroke="#333" stroke-width="0.05" fill="#333">40</text>
<text x="441.50" y="517.02" font-size="6.0" text-anchor="middle" stroke="#333" stroke-width="0.05" fill="#333">24</text>
<text x="452.23" y="517.02" font-size="6.0" text-anchor="middle" stroke="#333" stroke-width="0.05" fill="#333">5</text>
<text x="398.57" y="529.86" font-size="6.0" text-anchor="middle" stroke="#333" stroke-width="0.05" fill="#333">12</text>
<text x="409.30" y="529.86" font-size="6.0" text-anchor="middle" stroke="#333" stroke-width="0.05" fill="#333">12</text>
<text x="420.03" y="529.86" font-size="6.0" text-anchor="middle" stroke="#333" stroke-width="0.05" fill="#333">11</text>
<text x="430.77" y="529.86" font-size="6.0" text-anchor="middle" stroke="#333" stroke-width="0.05" fill="#333">9</text>
<text x="441.50" y="529.86" font-size="6.0" text-anchor="middle" stroke="#333" stroke-width="0.05" fill="#333">9</text>
<text x="452.23" y="529.86" font-size="6.0" text-anchor="middle" stroke="#333" stroke-width="0.05" fill="#333">3</text>
<line x1="390.40" y1="476.37" x2="393.20" y2="476.37" stroke="#8c8c8c" stroke-width="0.7"/>
<text x="389.80" y="478.74" font-size="6.4" text-anchor="end" stroke="#333" stroke-width="0.12" fill="#333">3</text>
<line x1="390.40" y1="489.21" x2="393.20" y2="489.21" stroke="#8c8c8c" stroke-width="0.7"/>
<text x="389.80" y="491.58" font-size="6.4" text-anchor="end" stroke="#333" stroke-width="0.12" fill="#333">1</text>
<line x1="390.40" y1="502.05" x2="393.20" y2="502.05" stroke="#8c8c8c" stroke-width="0.7"/>
<text x="389.80" y="504.42" font-size="6.4" text-anchor="end" stroke="#333" stroke-width="0.12" fill="#333">0.3</text>
<line x1="390.40" y1="514.89" x2="393.20" y2="514.89" stroke="#8c8c8c" stroke-width="0.7"/>
<text x="389.80" y="517.26" font-size="6.4" text-anchor="end" stroke="#333" stroke-width="0.12" fill="#333">0.1</text>
<line x1="390.40" y1="527.73" x2="393.20" y2="527.73" stroke="#8c8c8c" stroke-width="0.7"/>
<text x="389.80" y="530.10" font-size="6.4" text-anchor="end" stroke="#333" stroke-width="0.12" fill="#333">0.03</text>
<line x1="398.57" y1="534.15" x2="398.57" y2="536.35" stroke="#8c8c8c" stroke-width="0.7"/>
<text x="400.97" y="537.15" font-size="6.7" text-anchor="end" fill="#333" stroke="#333" stroke-width="0.08" transform="rotate(-90 400.97 537.15)">0.03</text>
<line x1="409.30" y1="534.15" x2="409.30" y2="536.35" stroke="#8c8c8c" stroke-width="0.7"/>
<text x="411.70" y="537.15" font-size="6.7" text-anchor="end" fill="#333" stroke="#333" stroke-width="0.08" transform="rotate(-90 411.70 537.15)">0.1</text>
<line x1="420.03" y1="534.15" x2="420.03" y2="536.35" stroke="#8c8c8c" stroke-width="0.7"/>
<text x="422.43" y="537.15" font-size="6.7" text-anchor="end" fill="#333" stroke="#333" stroke-width="0.08" transform="rotate(-90 422.43 537.15)">0.3</text>
<line x1="430.77" y1="534.15" x2="430.77" y2="536.35" stroke="#8c8c8c" stroke-width="0.7"/>
<text x="433.17" y="537.15" font-size="6.7" text-anchor="end" fill="#333" stroke="#333" stroke-width="0.08" transform="rotate(-90 433.17 537.15)">1</text>
<line x1="441.50" y1="534.15" x2="441.50" y2="536.35" stroke="#8c8c8c" stroke-width="0.7"/>
<text x="443.90" y="537.15" font-size="6.7" text-anchor="end" fill="#333" stroke="#333" stroke-width="0.08" transform="rotate(-90 443.90 537.15)">3</text>
<line x1="452.23" y1="534.15" x2="452.23" y2="536.35" stroke="#8c8c8c" stroke-width="0.7"/>
<text x="454.63" y="537.15" font-size="6.7" text-anchor="end" fill="#333" stroke="#333" stroke-width="0.08" transform="rotate(-90 454.63 537.15)">10</text>
<defs><linearGradient id="cb" x1="0" y1="0" x2="0" y2="1"><stop offset="0" stop-color="#4a78c4"/><stop offset="0.2" stop-color="#78b0df"/><stop offset="0.35" stop-color="#a8d6c0"/><stop offset="0.5" stop-color="#f6f38e"/><stop offset="0.7" stop-color="#f9b066"/><stop offset="1" stop-color="#e6302e"/></linearGradient></defs>
<rect x="459.2" y="243.3" width="6.3" height="56.30" fill="url(#cb)" stroke="#999" stroke-width="0.5"/>
<text x="466.30" y="244.36" font-size="5.8" text-anchor="start" stroke="#222" stroke-width="0.06" fill="#222">Synergy</text>
<text x="466.30" y="273.51" font-size="5.8" text-anchor="start" stroke="#222" stroke-width="0.06" fill="#222">Additive</text>
<text x="466.30" y="301.86" font-size="5.8" text-anchor="start" stroke="#222" stroke-width="0.06" fill="#222">Antagonism</text>
<rect x="459.2" y="470.5" width="6.3" height="55.80" fill="url(#cb)" stroke="#999" stroke-width="0.5"/>
<text x="466.30" y="471.56" font-size="5.8" text-anchor="start" stroke="#222" stroke-width="0.06" fill="#222">Synergy</text>
<text x="466.30" y="500.46" font-size="5.8" text-anchor="start" stroke="#222" stroke-width="0.06" fill="#222">Additive</text>
<text x="466.30" y="528.56" font-size="5.8" text-anchor="start" stroke="#222" stroke-width="0.06" fill="#222">Antagonism</text>
<text x="63.70" y="333.25" font-size="8.6" text-anchor="middle" font-weight="bold" stroke="#222" stroke-width="0.12" fill="#222">AZD-1390 (µmol/L)</text>
<text x="151.60" y="333.25" font-size="8.6" text-anchor="middle" font-weight="bold" stroke="#222" stroke-width="0.12" fill="#222">AZD-1390 (µmol/L)</text>
<text x="244.50" y="333.25" font-size="8.6" text-anchor="middle" font-weight="bold" stroke="#222" stroke-width="0.12" fill="#222">AZD-1390 (µmol/L)</text>
<text x="336.90" y="333.25" font-size="8.6" text-anchor="middle" font-weight="bold" stroke="#222" stroke-width="0.12" fill="#222">AZD-1390 (µmol/L)</text>
<text x="426.70" y="333.25" font-size="8.6" text-anchor="middle" font-weight="bold" stroke="#222" stroke-width="0.12" fill="#222">AZD-1390 (µmol/L)</text>
<text x="61.50" y="563.65" font-size="8.6" text-anchor="middle" font-weight="bold" stroke="#222" stroke-width="0.12" fill="#222">AZD-1390 (µmol/L)</text>
<text x="150.40" y="563.65" font-size="8.6" text-anchor="middle" font-weight="bold" stroke="#222" stroke-width="0.12" fill="#222">AZD-1390 (µmol/L)</text>
<text x="242.00" y="563.65" font-size="8.6" text-anchor="middle" font-weight="bold" stroke="#222" stroke-width="0.12" fill="#222">AZD-1390 (µmol/L)</text>
<text x="334.50" y="563.65" font-size="8.6" text-anchor="middle" font-weight="bold" stroke="#222" stroke-width="0.12" fill="#222">AZD-1390 (µmol/L)</text>
<text x="426.50" y="563.65" font-size="8.6" text-anchor="middle" font-weight="bold" stroke="#222" stroke-width="0.12" fill="#222">AZD-1390 (µmol/L)</text>
<text x="4.60" y="278.73" font-size="9.1" text-anchor="middle" font-weight="bold" stroke="#222" stroke-width="0.12" fill="#222" transform="rotate(-90 4.60 275.50)">Topotecan (nmol/L)</text>
<text x="4.60" y="514.83" font-size="9.1" text-anchor="middle" font-weight="bold" stroke="#222" stroke-width="0.12" fill="#222" transform="rotate(-90 4.60 511.60)">Trabectedin (nmol/L)</text>
</svg></body></html>
